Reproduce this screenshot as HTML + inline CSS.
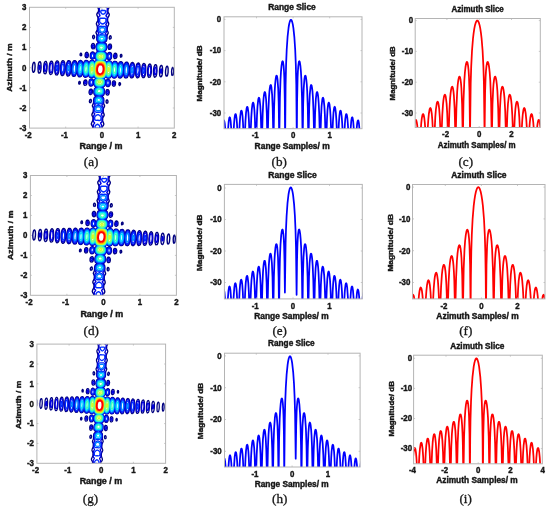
<!DOCTYPE html>
<html><head><meta charset="utf-8"><title>figure</title><style>
html,body{margin:0;padding:0;background:#fff;width:550px;height:511px;overflow:hidden}
svg{display:block;will-change:transform}
</style></head><body><svg width="550" height="511" viewBox="0 0 550 511"><defs><clipPath id="ca"><rect x="29.5" y="7.3" width="144.80" height="120.80"/></clipPath><clipPath id="cd"><rect x="30.4" y="175.5" width="146.00" height="119.80"/></clipPath><clipPath id="cg"><rect x="36.9" y="344.1" width="128.70" height="119.20"/></clipPath><clipPath id="cb"><rect x="224" y="13.8" width="138.00" height="114.90"/></clipPath><clipPath id="cc"><rect x="415.2" y="15.5" width="125.10" height="112.00"/></clipPath><clipPath id="ce"><rect x="224.4" y="181.4" width="137.90" height="117.50"/></clipPath><clipPath id="cf"><rect x="412.5" y="181.5" width="132.50" height="117.40"/></clipPath><clipPath id="ch"><rect x="224.5" y="350.2" width="135.60" height="116.80"/></clipPath><clipPath id="ci"><rect x="413.6" y="352.2" width="128.70" height="111.60"/></clipPath></defs><g clip-path="url(#ca)" fill="none" stroke-width="1.4" stroke-linejoin="round"><path d="M91.8 130.7 92.6 129.1 92.7 126.7 91.5 124.7 91.3 123.9 91.7 122.7 92.9 120.3 93 117.9 92.9 117.1 92 115.5 91.9 114.7 92.1 113.9 93.2 111.5 93.4 108.7 93.3 107.9 92.5 106.3 92.4 105.5 93.2 103.9 93.6 102.7 93.6 100.3 94 98.3 94.4 97.5 95.8 96.3 95.9 95.9 94.8 95.1 94.1 93.9 93.9 92.3 94.1 90.1 94.5 88.9 94.9 88.3 96.6 87.1 95.1 86.3 94.5 85.5 94.2 83.9 94.3 81.5 94.5 80.1 94.9 79.2 95.5 78.7 96.6 78.3 95.1 77.5 94.8 77.1 94.1 73.8 93.7 76.3 93.2 77.1 92.5 77.5 91.3 77.6 90.5 77.5 89.7 77.1 89.3 76.7 88.9 75.3 88.8 69.9 89.3 64 89.7 62 90.2 61.1 90.8 60.7 91.7 60.5 92.9 60.6 93.7 60.8 94.2 61.5 94.9 64.4 95.3 61.8 95.6 61.1 96.1 60.7 97.8 60.3 96.5 59.7 95.9 59.1 95.6 58.3 95.6 57.1 95.7 54.3 96.1 52.9 96.9 52 98.2 51.5 98.1 51.1 96.9 50.1 96.4 49.1 96.2 47.1 96.4 45.1 96.9 43.7 98.6 42.3 97.5 41.1 96.9 40 96.8 37.9 97 35.5 96.7 34.3 96 32.7 96.2 31.9 97.3 29.9 97.4 26.7 96.5 24.3 96.4 23.5 96.7 22.7 97.9 20.7 98 18.3 97.9 17.5 96.9 15.1 96.8 14.3 97.1 13.5 98.5 11.5 98.6 9.5 98.4 8.7 97.3 5.9 97.2 5.1 97.5 4.3M109.3 4.3 109.7 5.1 109.8 5.9 108 9.5 107.9 11.5 108.1 12.3 109.1 13.9 109.3 14.7 108.9 15.9 107.8 17.9 107.6 18.7 107.6 21.1 108.6 23.1 108.7 23.9 108.5 24.7 107.4 27.1 107.2 30.3 108.1 32.3 108.2 33.1 107.4 34.7 107 35.9 107 38.3 106.6 40.3 106.2 41.1 104.8 42.3 104.7 42.7 105.8 43.5 106.4 44.3 106.7 45.9 106.6 47.9 106.2 49.5 105.7 50.3 104 51.5 105.5 52.3 106.1 53.1 106.4 54.7 106.3 57.1 106.1 58.5 105.7 59.4 105.1 59.9 104 60.3 105.5 61.1 105.8 61.5 106.5 64.8 106.9 62.3 107.4 61.5 108.1 61.1 109.3 61 110.1 61.1 110.9 61.5 111.3 61.9 111.7 63.3 111.8 68.7 111.3 74.6 110.9 76.6 110.4 77.5 109.8 77.9 108.9 78.1 107.7 78 106.9 77.8 106.4 77.1 105.7 74.2 105.3 76.8 105 77.5 104.5 77.9 102.8 78.3 104.1 78.9 104.7 79.5 105 80.3 105 81.9 104.9 84.3 104.5 85.7 103.7 86.6 102.4 87.1 102.5 87.5 103.7 88.5 104.2 89.5 104.4 91.5 104.2 93.5 103.7 94.9 102 96.3 103.1 97.5 103.7 98.6 103.8 100.7 103.6 103.1 103.9 104.3 104.6 105.9 104.4 106.7 103.3 108.7 103.2 111.9 104.1 114.3 104.2 115.1 103.9 115.9 102.7 117.9 102.6 120.7 103.7 123.5 103.8 124.3 103.5 125.1 102.1 127.1 102 129.5 102.5 130.7M94.1 38.5 93.7 38.7 93.3 38.6 92.9 38.1 92.7 37.5 92.7 36.3 92.9 35.8 93.3 35.4 93.7 35.3 94.1 35.6 94.5 36.3 94.5 37.7 94.1 38.5M110.1 39.2 109.7 39.1 109.4 38.7 109.3 37.5 109.7 36.2 110.1 35.9 110.5 35.8 111 36.3 111.2 37.5 110.9 38.5 110.1 39.2M93.7 48.9 92.9 48.9 92.4 48.7 91.7 47.9 91.5 47.1 91.4 45.9 91.7 44.6 92.2 43.9 92.9 43.5 93.3 43.5 94 43.9 94.6 45.1 94.7 46.3 94.5 47.8 94.1 48.6 93.7 48.9M110.5 49.1 109.7 49.4 108.9 49.3 108.5 48.9 108.2 47.9 108.2 46.7 108.5 45.3 108.9 44.6 109.7 44.1 110.5 44.1 110.9 44.4 111.4 45.5 111.5 46.7 111.3 47.8 110.5 49.1M93.7 58.8 92.5 59 91.3 58.7 90.8 58.3 90.4 57.5 90.3 55.9 90.5 53.9 91.1 52.7 92.1 52 92.9 52 93.7 52.3 94.1 52.7 94.5 53.6 94.5 57.4 94.1 58.5 93.7 58.8M87.3 57.6 86.5 57.7 85.7 57.3 85.3 56.7 85.1 55.9 85.3 53.7 85.7 52.9 86.5 52.4 86.9 52.3 87.6 52.7 88.2 53.9 88.3 55.1 88.1 56.6 87.7 57.3 87.3 57.6M109.3 59.5 108.5 59.5 107.7 59.1 107.3 58 107.3 55.9 107.7 53.8 108.1 53.1 108.9 52.6 109.7 52.5 110.6 52.7 111.3 53.5 111.6 54.7 111.6 56.3 111.4 57.9 111 58.7 110.5 59.2 109.3 59.5M80.9 56 80.3 55.5 80.1 54.7 80.4 53.5 80.9 53.1 81.4 53.5 81.7 54.7 81.5 55.5 80.9 56M115.7 58.4 114.9 58.6 114.2 58.3 113.7 57.1 113.7 55.7 114.1 54.2 114.5 53.6 115.3 53.2 116.1 53.4 116.5 53.8 116.9 55.3 116.9 56.3 116.6 57.5 115.7 58.4M121.3 57.1 120.9 57.2 120.5 56.8 120.3 55.9 120.5 55 120.9 54.4 121.3 54.4 121.7 54.7 121.9 55.5 121.7 56.7 121.3 57.1M68.5 76 67.7 76 67.3 75.8 66.6 74.7 66.2 72.7 66.2 69.9 66.5 64.8 66.9 62.8 67.7 61.2 68.1 60.8 68.9 60.6 69.9 61.1 70.5 62.2 70.8 64.3 70.8 66.7 70.5 71.9 70.1 73.9 69.3 75.5 68.5 76M74.5 76.4 73.3 76.4 72.4 75.5 72 73.9 71.8 71.1 72.1 65.5 72.5 63 73.3 61.2 73.7 60.9 74.5 60.6 75.3 60.7 76.2 61.5 76.6 62.7 76.7 65.5 76.5 71.4 76.1 74 75.3 75.8 74.5 76.4M80.5 76.7 79.7 76.9 78.9 76.7 78.1 75.9 77.7 74.7 77.5 71.9 77.7 66.4 78.1 63.3 78.5 62 78.9 61.3 79.7 60.7 80.5 60.5 81.3 60.7 82.1 61.5 82.5 62.5 82.6 65.1 82.5 70.5 82.1 74 81.5 75.9 80.5 76.7M86.1 77.2 84.7 77.1 83.7 76.3 83.3 75 83.2 72.7 83.3 67.6 83.8 63.1 84.5 61.3 85.2 60.7 86.1 60.5 86.9 60.6 87.7 60.9 88.3 61.9 88.5 63.1 88.6 68.3 88.1 74 87.7 75.8 87.1 76.7 86.1 77.2M51.3 74.4 50.5 74.5 50.1 74.2 49.7 73.5 49.3 71.7 49.2 69.5 49.3 66.7 49.7 63.8 50.5 61.7 51.3 61.1 52.1 61.4 52.6 62.3 52.9 63.5 53 66.3 52.9 69.5 52.5 72.1 52.1 73.3 51.3 74.4M56.5 75.1 55.7 74.6 55.1 73.1 54.9 71.1 54.9 67.4 55.3 64 55.7 62.5 56.5 61.2 57.3 60.9 58.1 61.3 58.5 62 58.8 63.1 59 65.5 58.9 69 58.5 72.2 58.1 73.6 57.3 74.9 56.5 75.1M62.9 75.5 61.9 75.5 61.1 74.7 60.7 73.1 60.5 70.3 60.7 65.9 61.3 62.7 62.1 61.2 62.9 60.7 63.7 60.9 64.5 62.1 64.8 63.9 64.9 65.9 64.5 72.1 63.7 74.7 62.9 75.5M44.9 73.9 44.5 73.7 44.1 73.1 43.7 71.5 43.7 66.7 44.1 63.7 44.5 62.5 44.9 61.8 45.7 61.4 46.1 61.5 46.5 62.1 46.9 63.4 47.1 65.5 47 68.3 46.7 70.7 46.2 72.7 45.7 73.6 44.9 73.9M115.3 77.9 114.1 78.1 112.9 77.7 112.3 76.7 112.1 75.1 112 69.9 112.5 64.6 112.9 62.8 113.3 62.1 114.1 61.5 114.9 61.4 116.1 61.6 116.9 62.3 117.3 63.6 117.4 65.1 117.3 71 116.9 75 116.2 77.1 115.3 77.9M39.3 73.2 38.9 73.1 38.5 72.5 38.2 71.5 38 67.9 38.5 63.7 38.9 62.6 39.3 62 39.7 61.8 40.1 61.8 40.5 62.3 40.9 63.4 41.1 67.1 40.9 69.7 40.5 71.6 40.1 72.5 39.7 73 39.3 73.2M120.9 77.9 120.1 78.1 119.3 77.9 118.5 77.2 118.1 76.1 118 73.5 118.1 68.1 118.5 64.6 118.9 63.1 119.3 62.4 120.1 61.9 120.9 61.7 121.7 61.9 122.5 62.7 122.9 63.9 123.1 66.7 122.9 72.2 122.5 75.3 121.8 77.1 120.9 77.9M34.1 71.9 33.7 72.3 33.3 72.3 32.9 71.8 32.5 70.3 32.4 68.3 32.5 66.2 32.9 63.9 33.3 62.9 33.7 62.4 34.1 62.3 34.5 62.6 34.9 63.7 35.1 66.3 34.9 69.3 34.5 71.1 34.1 71.9M126.5 78 125.3 77.9 124.5 77.2 124 75.9 123.9 73.1 124.1 67.2 124.5 64.6 125.3 62.8 125.7 62.4 126.5 62.1 127.3 62.2 127.7 62.5 128.3 63.5 128.7 65.1 128.8 67.5 128.5 73.1 128.1 75.6 127.3 77.4 126.5 78M132.1 77.9 131.3 77.9 130.9 77.7 130.1 76.4 129.8 74.3 129.8 71.9 130.1 66.7 130.5 64.7 131.3 63.1 131.8 62.7 132.5 62.5 133.3 62.8 134.1 64.2 134.4 66.3 134.4 68.7 134.1 73.8 133.7 75.8 132.9 77.4 132.1 77.9M27.7 71.2 27.3 70.8 27 69.9 26.9 67.1 27.3 64.3 27.7 63.4 28.1 63 28.5 63.2 28.9 64.3 29 67.1 28.9 68.6 28.5 70.3 28.1 71.1 27.7 71.2M138.1 77.7 137.3 77.9 136.9 77.7 136.2 76.7 135.8 75.1 135.7 72.7 135.9 68.3 136.4 65.1 137.2 63.5 138.1 63 138.9 63.2 139.7 64.4 140 66.3 140.1 68.3 139.7 74.3 139 76.7 138.1 77.7M143.7 77.7 142.9 77.6 142.1 76.6 141.7 74.7 141.6 71.1 142 67.1 142.5 65 143.3 63.7 144.1 63.5 144.9 64 145.4 65.1 145.7 66.8 145.7 69.9 145.5 73.1 145.1 75.5 144.5 76.9 143.7 77.7M149.3 77.5 148.5 77.2 147.9 75.9 147.6 74.3 147.6 71.5 147.7 69.1 148.1 66.5 148.9 64.6 149.7 64 150.5 64.4 151 65.5 151.3 67.1 151.4 70.3 151.2 73.1 150.7 75.5 150.1 76.9 149.3 77.5M155.3 77.2 154.9 77.2 154.5 77.1 153.9 75.9 153.6 74.3 153.5 71.5 153.7 68.9 154.1 66.7 154.9 65 155.7 64.7 156.1 64.9 156.5 65.5 156.8 66.7 157 70.7 156.5 74.9 156.1 76.1 155.3 77.2M160.9 76.8 160.5 76.8 160.1 76.3 159.7 75.2 159.5 71.5 159.7 68.9 160.1 67 160.5 66.1 160.9 65.6 161.3 65.4 161.7 65.5 162.1 66.1 162.4 67.1 162.6 70.7 162.1 74.9 161.7 76 161.3 76.6 160.9 76.8M166.5 76.3 166.1 76 165.7 74.7 165.5 72.7 165.6 70.3 166.1 67.5 166.5 66.7 166.9 66.3 167.3 66.3 167.7 66.8 168.1 68.3 168.1 72.3 167.7 74.7 167.4 75.5 166.9 76.2 166.5 76.3M94.5 71.5 94.8 69.1 94.5 67 94.2 69.5 94.5 71.5M106.1 71.5 106.4 69.1 106.1 67.1 105.8 69.5 106.1 71.6 106.1 71.5M172.5 75.6 172.1 75.4 171.7 74.3 171.6 71.5 171.7 70 172.1 68.3 172.5 67.5 172.9 67.4 173.3 67.8 173.6 68.7 173.7 71.5 173.3 74.3 172.9 75.2 172.5 75.6M91.7 86 90.5 86.1 89.7 85.6 89.3 85.1 89 83.5 89 81.9 89.4 80.3 90.1 79.4 91.3 79.1 92.1 79.1 92.9 79.5 93.3 80.7 93.3 82.7 92.9 84.8 92.5 85.5 91.7 86M108.9 86.4 108.1 86.6 106.9 86.3 106.5 85.9 106.1 85 106.1 81.2 106.5 80.1 107.3 79.6 108.1 79.6 109.3 79.9 109.8 80.3 110.2 81.1 110.3 82.7 110.1 84.5 109.7 85.6 108.9 86.4M85.7 85.3 84.9 85.4 84.4 85.1 83.9 84.3 83.7 83.3 83.7 82.3 84.1 80.9 84.7 80.3 85.3 80 86.4 80.3 86.9 81.5 86.9 82.9 86.7 83.9 86.3 84.7 85.7 85.3M114.5 86.1 114.1 86.2 113.3 86.1 112.7 85.5 112.4 84.7 112.3 83.5 112.5 82 112.9 81.3 113.7 80.9 114.5 81 114.9 81.3 115.3 81.9 115.5 82.7 115.3 84.9 114.5 86.1M79.7 84.2 79.3 84.2 78.9 83.9 78.7 83.1 78.9 81.9 79.3 81.5 79.7 81.4 80.1 81.8 80.3 82.7 80.1 83.6 79.7 84.2M120.1 85.2 119.7 85.5 119.3 85.3 118.9 84.4 119.1 83.1 119.7 82.6 120.1 82.8 120.5 83.5 120.5 84.3 120.1 85.2M91.3 94.4 90.5 94.6 89.8 94.3 89.3 93.5 89.1 92.7 89.2 91.5 89.5 90.3 90.1 89.5 90.9 89.2 91.3 89.1 92 89.5 92.4 90.7 92.4 91.9 92.1 93.3 91.3 94.4M108.1 94.9 107.7 95.1 106.9 94.9 106.3 94.3 106 93.5 105.9 92.3 106.1 90.8 106.5 90 107.3 89.6 108.1 89.8 108.5 90.1 108.9 90.7 109.1 91.5 109.2 92.7 108.9 93.9 108.5 94.6 108.1 94.9M90.5 102.7 90.1 102.8 89.7 102.5 89.4 101.5 89.7 100.1 90.5 99.4 90.9 99.5 91.2 99.9 91.4 100.7 91.2 101.9 90.5 102.7M107.3 103.2 106.9 103.3 106.5 103 106.1 101.9 106.2 100.7 106.5 100.1 106.9 99.9 107.3 100 107.7 100.5 108 101.5 107.8 102.7 107.3 103.2" stroke="#000080"/><path d="M93.4 130.7 93.1 129.9 93.6 127.5 93.2 125.5 93.4 124.7 94.6 123.1 94.6 122.7 93.7 121.9 93.3 121.1 93.7 119.1 93.5 116.3 94.8 113.9 93.8 112.7 93.7 112.3 93.9 110.7 93.8 107.5 94.1 106.5 95.1 105.1 95.2 104.7 94.5 104 94.1 103.1 94.1 100 94.5 98.4 95.1 97.5 96.1 96.8 97.9 95.9 95.7 95.1 95.1 94.7 94.5 93.9 94.3 92.7 94.3 90.7 94.9 88.9 96 87.9 98 87.1 95.3 86 94.8 85.5 94.5 84.5 94.5 81.5 94.9 79.7 95.3 79.1 96 78.7 97.6 78.3 95.3 77.4 94.9 76.9 94.7 76.3 94.4 73.5 94.8 69.5 94.6 65.5 94.9 65.1 95.3 62.3 95.7 61.4 96.7 60.7 99.1 60.3 97.7 60 96.6 59.5 96.1 59 95.8 57.9 95.8 55.1 96.1 53.6 96.5 52.8 97 52.3 97.7 52 100 51.5 98.1 50.7 96.9 49.5 96.5 47.9 96.6 45.5 97.1 44.3 97.7 43.6 98.5 43.2 100.6 42.7 98.9 41.7 97.8 40.7 97.3 39.6 97.2 38.3 97.6 35.1 98.8 33.5 97.6 31.1 98 27.9 98 25.9 98.5 25.2 99.2 24.7 99.3 24.3 98.3 22.3 98.7 19.5 98.6 17.1 98.9 16.5 99.8 15.9 100 15.5 98.8 13.1 99.5 10.7 99.2 8.3 99.3 7.9 100.9 7.1 101.1 6.7 99.5 4.3M107.6 4.3 107.3 5 105.8 6.7 105.8 7.1 107.3 8 107.5 8.7 107 11.1 107.4 12.7 107.3 13.5 106 15.5 106 15.9 106.9 16.7 107.3 17.5 106.9 19.5 107.1 22.3 105.8 24.7 106.8 25.9 106.9 26.3 106.7 27.9 106.7 31.5 105.5 33.5 105.4 33.9 106.1 34.6 106.5 35.5 106.5 38.6 106.1 40.2 105.5 41.1 104.5 41.8 102.7 42.7 104.9 43.5 105.5 43.9 106.1 44.7 106.3 45.9 106.3 47.9 105.7 49.7 104.6 50.7 102.6 51.5 105.3 52.6 105.8 53.1 106.1 54.1 106.1 57.1 105.7 58.9 105.3 59.5 104.6 59.9 103 60.3 105.3 61.2 105.7 61.7 105.9 62.3 106.2 65.1 105.8 69.1 106 73.1 105.7 73.5 105.3 76.3 104.9 77.2 103.9 77.9 101.5 78.3 102.9 78.6 104 79.1 104.5 79.6 104.8 80.7 104.8 83.5 104.5 85 104.1 85.8 103.6 86.3 102.9 86.6 100.6 87.1 102.5 87.9 103.7 89.1 104.1 90.7 104 93.1 103.5 94.3 102.9 95 102.1 95.4 100 95.9 101.7 96.9 102.8 97.9 103.3 99 103.4 100.3 103 103.5 101.8 105.1 103 107.5 102.6 110.7 102.6 112.7 102.1 113.4 101.4 113.9 101.3 114.3 102.3 116.3 101.9 119.1 102 121.5 101.7 122.1 100.8 122.7 100.6 123.1 101.8 125.5 101.1 127.9 101.4 129.9 101.3 130.7M93.7 47.5 93.3 47.8 92.9 47.7 92.4 47.1 92.3 45.9 92.5 45.3 92.9 44.9 93.3 44.9 93.8 45.5 94 46.7 93.7 47.5M110.1 48.1 109.7 48.3 109.3 48.2 108.9 47.5 109 46.3 109.3 45.6 109.7 45.4 110.2 45.5 110.6 46.3 110.5 47.5 110.1 48.1M93.3 58.5 92.5 58.6 91.6 58.3 90.9 57.5 90.7 56.7 90.7 55.1 91 53.9 91.7 52.9 92.5 52.6 93.3 52.7 93.7 53 94.1 53.6 94.3 54.7 94.1 57.5 93.7 58.3 93.3 58.5M109.3 59.1 108.5 59 107.7 58.3 107.6 56.3 107.7 55.1 108.1 54 108.9 53.2 109.7 53.1 110.5 53.5 110.9 54 111.2 55.1 111.3 56.3 111 57.5 110.7 58.3 110.1 58.8 109.3 59.1M86.9 56.5 86.5 56.5 86.1 56.1 85.9 55.1 86.1 54.3 86.5 53.9 86.9 53.8 87.3 54.2 87.5 55.1 87.3 56.2 86.9 56.5M115.7 57.1 115.3 57.4 114.9 57.3 114.5 56.7 114.5 55.5 114.9 54.8 115.3 54.7 115.7 54.8 116 55.5 116 56.3 115.7 57.1M86.1 76.7 85.3 76.8 84.5 76.5 83.8 75.5 83.4 73.5 83.3 70.4 83.7 64.9 84.1 62.9 84.9 61.5 85.7 61 86.5 61 87.3 61.2 88.1 62.2 88.4 63.9 88.5 66.7 88.1 72.9 87.7 75 87 76.3 86.1 76.7M92.5 77.2 90.9 77.3 89.7 76.7 89.2 75.5 88.9 73.1 89.3 65 89.7 62.8 90.5 61.3 91.3 60.9 92.1 60.8 93.3 61 94.1 61.7 94.5 64.3 94.2 69.1 94.4 72.7 94.1 73.1 93.6 75.9 93.3 76.6 92.5 77.2M74.5 75.6 73.7 75.6 73.3 75.5 72.5 74.3 72.1 72.3 72.1 70.3 72.2 66.7 72.8 63.5 73.6 61.9 74.5 61.4 75.3 61.5 76.1 62.6 76.5 64.3 76.5 66.3 76.5 68.8 76.1 72.6 75.4 74.7 74.5 75.6M80.5 76.1 79.3 76.2 78.4 75.5 77.9 73.9 77.7 71.1 77.9 66.3 78.5 63 79.3 61.6 80.5 61.1 81.5 61.5 82.1 62.4 82.5 64.3 82.5 66.3 82.1 72.8 81.4 75.1 80.5 76.1M109.7 77.6 108.1 77.8 106.9 77.4 106.4 76.7 106.1 74.7 106.4 69.1 106.2 65.9 106.5 65.5 106.9 62.9 107.3 62 107.9 61.5 108.9 61.3 110.1 61.4 110.9 61.9 111.4 63.1 111.7 65.1 111.3 73.6 110.7 76.3 110.3 77.1 109.7 77.6M68.9 74.8 68.1 75.1 67.7 74.9 66.9 73.9 66.5 71.9 66.4 69.9 66.7 66.3 67.2 63.5 67.7 62.4 68.1 61.9 68.9 61.6 69.7 62.1 70.1 62.7 70.5 64.6 70.6 66.7 70.5 69.2 70.1 72.3 69.7 73.7 68.9 74.8M114.9 77.6 113.5 77.5 112.6 76.7 112.2 75.1 112.1 72.7 112.5 65.7 112.9 63.6 113.7 62.2 114.9 61.8 116.1 62.1 116.8 63.1 117.2 64.7 117.3 67.1 116.9 73.7 116.5 75.5 115.7 77.1 114.9 77.6M62.5 74.4 61.7 74 61.3 73.1 60.9 71.2 60.9 68.3 61.2 65.5 61.6 63.5 62.1 62.5 62.9 62 63.7 62.3 64.3 63.5 64.5 65.1 64.6 67.9 64.4 70.3 63.9 72.7 63.3 73.9 62.5 74.4M56.9 73.6 56.5 73.6 56.1 73.3 55.6 72.3 55.3 70.4 55.3 67.9 55.6 65.1 56.1 63.5 56.5 62.8 57.3 62.4 57.8 62.7 58.3 63.9 58.5 65.5 58.6 67.9 58.1 71.5 57.7 72.7 56.9 73.6M120.9 77.3 119.7 77.4 118.8 76.7 118.2 75.1 118.1 72.3 118.5 65.8 118.9 64.1 119.7 62.8 120.9 62.4 121.8 62.7 122.5 63.8 122.8 65.5 122.9 67.5 122.5 73.9 121.8 76.3 120.9 77.3M51.3 72.5 50.9 72.7 50.5 72.5 50.1 71.8 49.7 68.7 50.1 65 50.5 63.8 50.9 63.2 51.3 63 51.7 63.1 52.1 63.7 52.4 65.1 52.5 66.7 52.5 68.7 52.1 70.9 51.7 72 51.3 72.5M126.5 77.1 125.7 77.2 125.3 77.1 124.5 76 124.1 74.3 124.1 72.3 124.2 68.7 124.7 65.1 125.3 63.7 125.7 63.3 126.5 62.9 127.3 63.1 128.1 64.3 128.5 66.3 128.5 68.3 128.1 74 127.3 76.3 126.5 77.1M45.3 71.5 44.9 71.4 44.5 70.6 44.3 67.5 44.5 65.7 44.9 64.4 45.3 63.9 45.7 63.8 46.1 64.4 46.3 65.1 46.4 67.5 46.1 70.1 45.7 71.1 45.3 71.5M132.1 76.9 131.3 76.9 130.5 75.9 130.1 74 130 70.7 130.4 67.1 130.9 64.9 131.7 63.8 132.5 63.5 133.3 64 133.8 65.1 134.1 66.9 134.1 69.9 133.8 73.1 133.4 75.1 132.9 76.2 132.1 76.9M138.1 76.5 137.3 76.6 136.9 76.3 136.5 75.7 136.1 73.9 136 71.9 136.1 69.4 136.5 66.6 137.3 64.7 138.1 64.2 138.9 64.6 139.3 65.3 139.7 67.1 139.8 69.1 139.7 71.1 139.3 74 138.9 75.3 138.1 76.5M143.7 76.1 143.3 76.2 142.9 76 142.4 75.1 142.1 73.5 142 70.7 142.3 68.3 142.8 66.3 143.3 65.3 143.7 65 144.1 65 144.6 65.5 145.1 66.7 145.3 68.3 145.3 70.7 144.9 73.9 144.5 75.1 143.7 76.1M39.7 69.6 39.3 69.7 39.2 69.5 38.9 67.9 39.3 65.5 39.7 65.2 40.1 65.9 40.2 67.1 40.1 68.4 39.7 69.6M149.3 75.6 148.9 75.5 148.3 74.3 148.1 73.1 148.1 70.7 148.6 67.5 148.9 66.6 149.3 66.1 149.7 65.9 150.1 66.1 150.6 67.1 150.8 68.7 150.9 70.7 150.4 73.9 149.9 75.1 149.3 75.6M155.3 74.7 154.9 74.8 154.5 74.2 154.2 71.5 154.5 68.5 154.9 67.5 155.3 67.1 155.7 67.2 156.1 68 156.3 70.3 156.1 72.9 155.7 74.2 155.3 74.7M160.9 73.4 160.5 72.7 160.4 70.7 160.9 69 161.3 68.9 161.6 69.9 161.7 71.1 161.3 73.1 160.9 73.4M92.1 85.1 91.3 85.5 90.5 85.4 89.8 84.7 89.4 83.5 89.4 81.9 89.7 80.7 90.3 79.9 91.3 79.5 92.5 79.8 93 80.7 92.9 83.5 92.5 84.6 92.1 85.1M108.5 85.9 107.7 86 106.9 85.6 106.5 85 106.3 83.9 106.3 82.3 106.5 81 106.9 80.3 107.7 80 108.5 80.1 109.3 80.6 109.7 81.1 109.9 81.9 109.7 84.4 109.3 85.2 108.5 85.9M85.3 83.9 84.7 83.5 84.6 82.3 84.9 81.5 85.3 81.2 85.7 81.3 86.1 81.7 86.2 82.7 85.9 83.5 85.3 83.9M114.1 84.7 113.6 84.7 113.1 83.9 113.2 82.7 113.7 82.1 114.3 82.3 114.7 83.1 114.5 84.3 114.1 84.7M90.9 93.2 90.5 93.2 90.1 92.8 90 91.9 90.1 91.1 90.5 90.5 90.9 90.3 91.3 90.4 91.6 90.7 91.7 91.5 91.5 92.7 90.9 93.2M107.7 93.7 107.3 93.7 107 93.5 106.6 92.7 106.7 91.5 106.9 91.1 107.3 90.8 108 91.1 108.3 91.9 108.2 93.1 107.7 93.7" stroke="#0000df"/><path d="M102.9 14.3 101.7 13.6 101 12.7 100.7 11.9 100.9 10.9 101.3 10.5 102.1 10.3 103.3 10.5 104.5 10.4 105.3 10.7 105.6 11.5 105.4 12.7 104.1 13.9 102.9 14.3M102.9 24 102.5 24 101.3 23.5 100.3 22.7 99.7 21.9 99.5 21.1 99.7 19.1 100.1 18.4 100.5 18.2 101.3 18.1 102.9 18.3 104.5 18.2 105.3 18.4 105.9 19.1 106 21.1 105.7 21.9 104.5 23.2 102.9 24M102.9 33.2 102.1 33.4 100.9 33 99.7 32.2 98.8 31.1 98.5 29.9 98.8 27.5 99 27.1 99.7 26.5 100.9 26.3 102.5 26.5 104.5 26.4 105.3 26.7 105.9 27.5 106 30.3 105.7 31.1 104.6 32.3 102.9 33.2M102.9 41.9 101.7 42.2 100.5 41.9 99.1 41.1 98.1 40 97.8 38.7 97.9 37.1 98.2 35.9 98.9 35.2 100.5 34.8 103.7 34.9 104.9 35.2 105.6 35.9 106 37.9 105.6 39.9 104.6 41.1 102.9 41.9M102.1 51.2 100.9 51.2 99 50.7 98.1 50.2 97.3 49.3 96.9 47.9 96.9 46.3 97.5 44.7 98.3 43.9 100.1 43.5 103.7 43.7 104.9 44.2 105.7 45.1 105.9 46.3 105.9 47.5 105.7 48.7 105.3 49.5 104.1 50.5 102.1 51.2M100.9 60.6 100.7 60.3 98.5 60 97.1 59.5 96.5 59 96.1 58.3 96 56.3 96.2 54.3 96.9 52.9 97.9 52.3 99.7 52 103.7 52.3 104.9 52.8 105.7 53.9 105.9 55.1 105.9 56.7 105.7 58.1 105.3 59 104.8 59.5 104 59.9 101.1 60.3 100.9 60.6M93.3 57.7 92.9 57.9 92.1 57.7 91.5 57.1 91.3 56.4 91.3 55.4 91.6 54.3 92.5 53.6 93.3 53.8 93.8 54.7 93.8 56.7 93.3 57.7M109.3 58.4 108.7 58.3 108.3 57.9 108 56.7 108.1 55.5 108.4 54.7 108.9 54.2 109.3 54.1 110.1 54.4 110.5 55 110.6 55.9 110.4 57.5 110.1 57.9 109.3 58.4M102.5 77.9 100.1 78.1 99.7 77.9 96.5 77.6 95.4 77.1 94.9 76.4 94.6 73.5 94.8 66.3 95.3 62.9 95.7 61.9 96.1 61.3 96.9 60.9 100.5 60.5 100.9 60.7 103.3 60.8 104.9 61.3 105.7 62.2 106 64.7 105.8 71.5 105.3 75.7 104.9 76.8 104.5 77.3 103.7 77.7 102.5 77.9M92.5 76.8 91.7 76.9 90.9 76.9 89.9 76.3 89.3 75 89.1 72.7 89.3 66.4 89.7 63.7 90.5 61.9 91.3 61.3 92.1 61.1 93.3 61.4 93.8 61.9 94.2 62.7 94.3 64.7 94.2 71.5 93.7 75 93.3 76.1 92.5 76.8M86.5 76 85.3 76.1 84.3 75.5 83.7 73.9 83.5 71.9 83.7 66.6 84.1 64.1 84.9 62.3 85.3 61.9 86.1 61.6 86.9 61.7 87.7 62.3 88.1 63.3 88.3 65.5 88.1 71.5 87.7 73.9 87.3 75.1 86.5 76M109.3 77.3 108.1 77.4 106.9 76.9 106.5 76.2 106.3 73.9 106.4 67.1 106.9 63.6 107.3 62.5 107.7 62.1 108.9 61.7 110.1 61.9 110.9 62.6 111.3 63.6 111.5 65.9 111.3 72.2 110.9 74.9 110.1 76.7 109.3 77.3M80.5 75.2 79.7 75.4 79.3 75.3 78.5 74.4 78.1 72.9 78 70.3 78.1 66.9 78.5 64.3 79.3 62.6 79.7 62.2 80.5 62 81.3 62.3 81.8 63.1 82.1 64.3 82.3 66.7 82.1 70.9 81.7 73.2 81.3 74.3 80.5 75.2M74.5 74.5 73.7 74.5 72.9 73.5 72.5 71.9 72.4 69.9 72.5 67.3 72.9 64.8 73.7 63 74.5 62.5 75.3 62.8 75.8 63.5 76.1 64.7 76.2 67.1 76.1 70.2 75.7 72.5 75.3 73.6 74.5 74.5M115.3 76.7 114.1 77 113.3 76.7 112.9 76.3 112.5 75.3 112.3 73.1 112.5 67.1 112.9 64.6 113.7 62.9 114.1 62.6 114.9 62.4 115.7 62.6 116.5 63.4 116.9 64.7 117.1 66.7 116.9 72 116.5 74.3 116.1 75.7 115.3 76.7M68.5 73.6 68.1 73.6 67.7 73.3 67.3 72.6 66.9 70.7 66.9 68.3 67.3 65.5 67.7 64.1 68.1 63.5 68.9 63.1 69.3 63.3 69.7 63.9 69.9 64.7 70.2 68.3 69.7 71.7 69.3 72.8 68.5 73.6M120.9 76.4 120.1 76.6 119.7 76.5 118.9 75.8 118.5 74.6 118.3 71.9 118.5 67.7 118.9 65.4 119.7 63.7 120.1 63.4 120.9 63.2 121.7 63.6 122.1 64.3 122.5 65.7 122.6 68.3 122.5 71.7 122.1 74.1 121.7 75.3 120.9 76.4M62.9 72.3 62.5 72.5 62.1 72.2 61.7 71.5 61.4 69.1 61.7 65.9 62.1 64.7 62.5 64.1 62.9 63.9 63.3 64 63.7 64.7 64.1 67.5 63.7 70.7 63.3 71.8 62.9 72.3M126.5 76 125.7 76.1 124.9 75.3 124.5 73.9 124.4 71.5 124.5 68.4 124.9 66.1 125.7 64.4 126.5 64 127.3 64.4 127.7 65.1 128.1 66.7 128.2 68.7 128.1 71.3 127.7 73.8 127.3 75 126.5 76M131.7 75.5 131.3 75.3 130.9 74.7 130.6 73.5 130.5 69.3 130.9 66.9 131.3 65.8 131.7 65.3 132.1 65 132.5 65 133 65.5 133.5 66.7 133.7 68.3 133.7 70.7 133.3 73.3 132.9 74.5 132.5 75.1 131.7 75.5M56.9 70.9 56.5 70.7 56.3 70.3 56.1 68.3 56.3 66.3 56.9 65.2 57.3 65.2 57.6 65.9 57.8 67.5 57.6 69.5 57.3 70.5 56.9 70.9M137.7 74.7 137.3 74.6 136.9 73.9 136.6 72.3 136.6 70.7 137 67.5 137.7 66.3 138.1 66.1 138.5 66.4 138.9 67.2 139.2 70.3 138.6 73.5 138.1 74.5 137.7 74.7M143.7 73.4 143.3 73.4 143 72.7 142.8 71.1 143 69.1 143.3 68.1 143.7 67.7 144.1 67.9 144.3 68.3 144.5 70.3 144.3 72.3 143.7 73.4M102.5 86.4 100.9 86.6 97.7 86.4 96.1 86.1 95.3 85.5 94.8 84.3 94.7 82.3 95 80.3 95.7 79.2 96.9 78.6 99.5 78.3 99.7 78 99.9 78.3 102.4 78.7 103.5 79.1 104 79.5 104.5 80.3 104.6 81.1 104.5 83.9 104.1 85.1 103.7 85.7 102.5 86.4M91.7 84.4 90.9 84.5 90.5 84.2 90.1 83.6 90 82.7 90.2 81.1 90.5 80.7 91.3 80.2 92.1 80.4 92.6 81.5 92.5 83.1 92.1 84 91.7 84.4M108.5 84.8 107.7 85 107.3 84.8 106.8 83.9 106.7 82.7 106.9 81.5 107.3 80.9 107.7 80.7 108.1 80.7 108.8 81.1 109.3 82.2 109.1 83.9 108.5 84.8M102.1 94.8 100.5 95.1 97.7 95 96.5 94.8 95.5 94.3 94.8 93.1 94.6 91.5 94.9 89.9 95.6 88.7 96.9 87.9 99.3 87.3 101.6 87.9 102.9 88.7 103.4 89.5 103.6 90.3 103.7 92.1 103.1 93.9 102.1 94.8M101.3 103.6 100.1 103.8 97.3 103.8 96.1 103.6 95.3 103.1 94.8 102.3 94.7 100.3 94.9 99 95.6 97.9 96.9 97 98.9 96.4 100.9 97.1 102 97.9 102.7 99.1 102.8 101.1 102.4 102.7 102.1 103.1 101.3 103.6M99.7 112.3 98.1 112.1 96.1 112.2 95.3 111.9 94.7 111.1 94.6 108.3 94.9 107.4 95.5 106.7 96.5 106 98.5 105.2 99.7 105.6 100.9 106.4 101.7 107.3 102.1 108.3 101.7 111.4 100.9 112.1 99.7 112.3M100.1 120.4 99.3 120.5 97.7 120.3 96.1 120.4 94.9 119.9 94.7 119.1 94.6 117.5 95.2 116.3 96.5 115.2 98.1 114.6 99.8 115.5 100.9 116.7 101.1 117.5 100.9 119.6 100.5 120.2 100.1 120.4M99.3 128.1 98.5 128.3 97.3 128.1 96.1 128.2 95.3 127.9 95 127.1 95.2 125.9 96 125.1 96.9 124.5 97.7 124.3 98.1 124.5 99.3 125.4 99.8 126.3 99.8 127.5 99.3 128.1" stroke="#002dff"/><path d="M102.9 31.9 102.1 32.1 101.5 31.9 100.8 31.5 100.1 30.7 99.8 29.9 99.8 29.1 100.1 28.3 100.5 28 101.3 27.8 103.3 27.8 104.1 28 104.5 28.3 104.8 29.1 104.7 30.3 104.1 31.2 102.9 31.9M101.7 41.5 100.1 40.9 99 39.9 98.6 38.7 98.7 37.1 99.3 36.3 100.1 35.9 100.9 35.7 103.7 35.9 104.5 36.3 105 37.1 105.2 38.3 104.9 39.5 104.3 40.3 103.7 40.8 101.7 41.5M102.1 50.8 100.9 50.8 99.3 50.3 98.5 49.9 97.7 48.8 97.4 47.5 97.6 45.9 98.1 45 98.9 44.4 100.1 44.1 103.3 44.2 104.5 44.7 105.1 45.5 105.4 47.1 105.3 48.1 104.9 49.1 103.7 50.2 102.1 50.8M102.9 59.9 100.9 60.1 99.1 59.9 97.8 59.5 96.8 58.7 96.3 57.5 96.3 55.5 96.8 53.9 97.4 53.1 98.1 52.7 99.3 52.4 102.5 52.5 104.1 52.8 105 53.5 105.4 54.3 105.6 55.5 105.6 57.1 105.3 58.2 104.5 59.3 102.9 59.9M103.3 77.6 101.3 77.8 96.9 77.5 95.7 77 95 75.9 94.8 74.3 94.8 71.9 94.9 67.5 95.3 63.7 96 61.9 97 61.1 99.3 60.8 103.7 61.1 104.9 61.6 105.6 62.7 105.8 64.3 105.8 66.7 105.7 71.1 105.3 74.9 104.9 76.3 104.5 76.9 103.3 77.6M92.1 76.4 90.8 76.3 90.1 75.7 89.7 75.1 89.3 73.1 89.2 71.1 89.5 66.7 90.1 63.5 90.9 62.1 92.1 61.6 92.9 61.8 93.7 62.4 94.1 63.5 94.2 65.9 94.1 70.8 93.7 74.1 93.3 75.4 92.9 75.9 92.1 76.4M109.3 76.7 108.1 76.9 107.4 76.7 107 76.3 106.5 75.1 106.4 73.5 106.5 67.9 106.9 64.5 107.3 63.2 107.7 62.7 108.1 62.4 108.9 62.1 109.8 62.3 110.7 63.1 111.1 64.3 111.3 66.3 111.3 70 110.9 73.7 110.2 75.9 109.3 76.7M86.5 75.1 86.1 75.3 85.3 75.3 84.5 74.6 84.1 73.5 83.8 71.1 83.9 67.1 84.5 64.3 85.3 62.8 86.1 62.4 86.9 62.5 87.5 63.1 87.9 64.3 88.1 65.9 88.1 68.7 87.7 72.6 87.3 74 86.5 75.1M80.5 74 79.7 74.2 78.9 73.4 78.5 72.2 78.3 69.9 78.5 66.9 78.9 65 79.7 63.5 80.5 63.2 81.3 63.7 81.7 64.7 82 67.5 81.6 71.5 81.3 72.8 80.5 74M114.9 76.1 114.1 76.2 113.7 76.1 112.9 75.1 112.6 73.5 112.5 71.5 112.7 67.9 113.2 65.1 113.7 63.9 114.1 63.5 114.9 63.2 115.7 63.5 116.4 64.7 116.7 66.3 116.8 68.3 116.7 71.5 116.2 73.9 115.7 75.3 114.9 76.1M74.5 72.8 74.1 72.9 73.7 72.7 73.3 72 72.9 69.1 73.3 65.9 73.7 64.9 74.1 64.4 74.5 64.2 74.9 64.3 75.4 65.1 75.7 66.3 75.8 67.9 75.7 69.5 75.3 71.5 74.9 72.4 74.5 72.8M120.9 75.1 120.1 75.4 119.3 74.9 118.9 73.9 118.7 71.9 118.7 69.1 119.1 66.7 119.7 65 120.5 64.4 121.3 64.6 121.7 65.2 122.1 66.4 122.3 68.3 122 72.3 121.6 73.9 120.9 75.1M68.5 71 68.1 70.8 67.9 70.3 67.7 68.7 68 66.7 68.5 65.7 68.9 65.7 69.2 66.3 69.4 67.9 69.2 69.9 68.9 70.7 68.5 71M126.1 74.4 125.7 74.3 125.3 73.9 125.1 73.1 124.9 69.9 125.3 67.1 125.7 66.2 126.1 65.8 126.5 65.7 126.9 65.9 127.3 66.7 127.6 68.3 127.7 69.9 127.3 72.7 126.9 73.7 126.5 74.2 126.1 74.4M132.1 72.9 131.7 72.9 131.4 72.3 131.2 70.7 131.4 68.7 131.7 67.9 132.1 67.6 132.5 67.8 132.7 68.3 132.9 69.9 132.6 71.9 132.1 72.9M102.5 85.9 100.9 86.2 97.7 86.1 96.5 85.8 95.7 85.2 95.1 83.9 95 82.3 95.3 80.4 95.9 79.5 96.4 79.1 97.6 78.7 99.7 78.5 101.7 78.8 103.5 79.5 104.2 80.7 104.3 83.1 103.7 84.9 103.2 85.5 102.5 85.9M101.3 94.4 100.1 94.5 97.3 94.4 96.5 94.1 95.7 93.5 95.2 92.3 95.3 90.7 95.7 89.5 96.4 88.7 97.7 88 99.3 87.7 101.3 88.3 102.5 89.1 103 89.9 103.2 90.7 103.1 92.3 102.5 93.6 101.3 94.4M100.5 102.7 97.3 102.8 96.5 102.5 95.8 101.9 95.4 100.7 95.6 99.5 95.9 98.7 96.7 97.9 97.7 97.4 98.9 97.1 100.2 97.5 101.3 98.3 102 99.5 102 101.1 101.3 102.3 100.5 102.7M99.7 110.8 97.3 110.8 96.5 110.6 96.1 110.3 95.8 109.5 95.8 108.7 96.1 107.9 96.9 107.1 98.5 106.5 99.3 106.8 100.2 107.5 100.7 108.3 100.8 109.5 100.5 110.3 99.7 110.8" stroke="#0085ff"/><path d="M102.1 40.4 101.7 40.5 100.9 40.1 100 39.1 100 37.9 100.3 37.5 100.9 37.1 102.9 37.2 103.7 37.9 103.8 38.7 103.4 39.5 102.9 40 102.1 40.4M101.7 50.3 100.9 50.3 99.7 49.9 98.7 49.1 98.3 48.3 98.1 47.5 98.3 46.3 98.9 45.4 99.7 45 100.9 44.8 102.9 44.9 104 45.5 104.5 46.3 104.6 47.9 104.1 49 103 49.9 101.7 50.3M102.9 59.6 101.3 59.9 100.1 59.8 98.7 59.5 97.4 58.7 96.8 57.5 96.7 55.9 97.2 54.3 97.8 53.5 99.3 52.9 102.1 52.9 103.3 53.1 104.5 53.9 105.2 55.5 105.2 56.7 104.9 57.9 104.1 59.1 102.9 59.6M102.1 77.5 98.5 77.5 96.9 77.2 95.7 76.5 95.2 75.5 94.9 74.1 94.9 71.5 95.3 64.7 95.7 63 96.1 62.2 96.9 61.5 97.7 61.2 99.7 61 103.3 61.3 104.7 61.9 105.4 63.1 105.7 65.1 105.7 69.6 105.1 74.7 104.7 75.9 104.1 76.8 103.3 77.3 102.1 77.5M92.5 75.5 91.3 75.7 90.4 75.1 89.7 73.5 89.5 71.5 89.7 67.1 90.1 64.6 90.9 63 91.3 62.6 92.1 62.3 92.9 62.5 93.5 63.1 93.9 64.3 94.1 65.8 94.1 68.7 93.7 72.8 93.3 74.4 92.5 75.5M109.3 76 108.1 76.3 107.3 75.8 106.8 74.7 106.5 72.8 106.5 69.9 107 65.5 107.3 64.2 107.7 63.4 108.1 63.1 108.9 62.8 109.7 63 110.5 63.9 110.9 65.1 111.1 67.1 111 70.3 110.7 73.1 110.1 75 109.3 76M86.5 73.9 85.7 74.2 84.9 73.7 84.4 72.3 84.2 70.3 84.3 67.9 84.6 65.9 85.3 64.1 86.1 63.5 86.9 63.8 87.3 64.3 87.7 65.8 87.8 67.1 87.7 69.9 87.5 71.5 87 73.1 86.5 73.9M114.9 74.9 114.1 75.1 113.3 74.3 112.9 72.8 112.8 70.7 112.9 68.5 113.3 66.2 114.1 64.7 114.9 64.4 115.7 64.9 116.1 65.7 116.4 68.7 116.1 72.5 115.7 73.8 114.9 74.9M80.1 72.4 79.7 72.3 79.2 71.5 79 68.7 79.5 65.9 80.1 65.1 80.5 65 80.9 65.4 81.2 66.3 81.4 68.7 80.9 71.5 80.5 72.1 80.1 72.4M120.5 73.5 120.1 73.6 119.6 73.1 119.3 72.1 119.2 70.7 119.3 68.8 119.6 67.5 120.1 66.5 120.5 66.2 120.9 66.3 121.3 66.9 121.7 69.5 121.3 72.2 120.9 73.1 120.5 73.5M102.1 85.5 100.9 85.8 98.5 85.7 97.3 85.5 96.5 85.1 95.7 84.1 95.4 82.7 95.5 81.1 96.1 79.9 97.3 79.1 99.7 78.7 101.9 79.1 103.2 79.9 103.8 81.1 103.8 83.1 103.3 84.5 102.8 85.1 102.1 85.5M100.9 93.6 100.1 93.8 98.1 93.7 97.2 93.5 96.5 93 96.1 92.3 96 91.1 96.3 89.9 97 89.1 98.1 88.5 99.3 88.3 100.9 88.7 101.9 89.5 102.4 90.7 102.4 91.9 101.8 93.1 100.9 93.6M99.3 101.5 97.7 101.4 96.9 100.7 96.8 99.9 97.2 99.1 97.7 98.6 98.5 98.2 99.3 98.3 100 98.7 100.5 99.3 100.7 99.9 100.6 100.7 100.3 101.1 99.3 101.5" stroke="#00ddfe"/><path d="M102.1 49.2 101.3 49.4 100.9 49.3 99.7 48.5 99.4 47.5 99.6 46.7 99.9 46.3 100.9 45.9 102.1 46 102.9 46.3 103.2 46.7 103.4 47.5 103.2 48.3 102.9 48.7 102.1 49.2M101.3 59.5 100.4 59.5 98.9 59.1 97.8 58.3 97.4 57.5 97.3 56.1 97.7 54.8 98.5 53.9 99.3 53.5 101.7 53.4 102.9 53.6 103.9 54.3 104.4 55.1 104.6 56.7 104.1 58.3 103 59.1 101.3 59.5M102.5 77.2 99.3 77.3 97.3 77 96.1 76.3 95.3 74.9 95 71.1 95.5 65.1 95.7 64 96.2 62.7 96.9 62 97.8 61.5 100.1 61.3 103.3 61.6 104.5 62.3 105.3 63.7 105.6 65.9 105.6 68.3 105.3 72.5 105 74.3 104.6 75.5 104.1 76.3 103.3 76.9 102.5 77.2M92.1 74.8 91.3 74.8 90.5 74.1 90 72.7 89.8 70.3 90 67.1 90.5 65 91.3 63.6 92.1 63.2 92.9 63.4 93.3 63.9 93.7 65.1 93.9 67.5 93.7 71 93.3 73.1 92.9 74.1 92.1 74.8M108.9 75.2 108.1 75.3 107.3 74.7 106.9 73.5 106.7 71.1 106.9 67.6 107.3 65.5 108.1 64 108.9 63.7 109.7 64.1 110.3 65.1 110.6 66.3 110.8 68.3 110.6 71.1 110.3 73.1 109.7 74.5 108.9 75.2M86.1 72.4 85.7 72.4 85.2 71.9 84.9 70.9 84.8 69.5 84.9 67.8 85.3 66.3 85.7 65.6 86.1 65.3 86.5 65.4 86.9 65.9 87.3 68.3 86.9 71.2 86.5 72 86.1 72.4M114.5 73.3 114.1 73.2 113.7 72.7 113.4 71.5 113.3 69.9 113.7 67.4 114.1 66.6 114.5 66.2 114.9 66.2 115.3 66.6 115.7 67.5 115.8 69.9 115.3 72.4 114.9 73 114.5 73.3M100.9 85.2 98.1 85.1 97.2 84.7 96.5 84.1 96.1 83.1 96 81.9 96.3 80.7 96.9 79.9 98.5 79.2 100.1 79.1 101.7 79.5 102.8 80.3 103.2 81.1 103.3 81.9 103.1 83.5 102.1 84.7 100.9 85.2M100.5 92.4 99.7 92.7 98.9 92.7 97.7 92.3 97.3 91.8 97.2 91.1 97.7 89.9 98.2 89.5 99.3 89.2 100.1 89.4 100.8 89.9 101.2 91.1 101 91.9 100.5 92.4" stroke="#40ffb7"/><path d="M102.1 58.8 100.9 59 100.1 58.8 99.3 58.5 98.5 57.9 98.2 57.1 98.1 56.3 98.4 55.5 99 54.7 100.1 54.2 101.7 54.2 102.5 54.5 103.3 55.1 103.7 55.9 103.7 57.1 102.9 58.3 102.1 58.8M102.5 76.7 100.5 77 97.7 76.7 96.3 75.9 95.6 74.7 95.3 73.1 95.2 70.7 95.3 68.2 95.7 65.2 96.5 63.1 97.2 62.3 98.1 61.9 100.1 61.6 102.9 61.9 104.3 62.7 105 63.9 105.3 65.5 105.4 67.9 105.3 70.4 104.9 73.4 104.1 75.5 103.4 76.3 102.5 76.7M91.7 73.5 90.9 72.9 90.5 71.9 90.3 69.1 90.5 67.4 90.9 65.9 91.3 65.1 92.1 64.6 92.5 64.6 92.9 65 93.3 65.9 93.5 69.1 93.3 71 92.9 72.5 92.5 73.2 91.7 73.5M108.5 74 108.1 74 107.7 73.6 107.3 72.7 107.1 69.5 107.3 67.6 107.7 66.1 108.1 65.4 108.9 65.1 109.7 65.7 110.1 66.7 110.3 69.5 110.1 71.2 109.7 72.7 109.3 73.5 108.5 74M100.5 84.4 98.5 84.3 97.7 83.9 97.3 83.5 96.9 82.7 96.9 81.9 97.1 81.1 97.7 80.3 98.9 79.7 100.1 79.7 101.3 80.1 102.1 80.7 102.5 81.9 102.2 83.1 101.6 83.9 100.5 84.4" stroke="#87ff70"/><path d="M101.3 57.7 100.5 57.6 99.9 57.1 99.8 56.3 100.2 55.9 101.3 55.7 101.7 55.9 102 56.3 102 57.1 101.3 57.7M102.1 76.3 99.7 76.6 97.7 76.2 96.5 75.3 95.7 73.5 95.5 69.5 95.7 67.1 96.1 65.1 96.5 64 97.1 63.1 98.1 62.4 98.9 62.1 101.3 62.1 102.9 62.4 104.1 63.3 104.9 65.1 105.1 69.1 104.9 71.5 104.5 73.5 103.7 75.2 103 75.9 102.1 76.3M92.1 71 91.7 71 91.5 70.7 91.3 69.5 91.5 67.9 91.7 67.3 92.1 67 92.5 67.3 92.7 68.7 92.5 70.4 92.1 71M108.5 71.6 108.1 71.3 107.9 69.9 108.1 68.2 108.5 67.6 108.9 67.6 109.1 67.9 109.3 69.1 109.1 70.7 108.9 71.3 108.5 71.6M100.1 82.8 99.3 82.9 98.9 82.7 98.6 82.3 98.6 81.5 99 81.1 99.7 80.9 100.1 81 100.7 81.5 100.8 82.3 100.1 82.8" stroke="#ceff29"/><path d="M101.3 75.9 98.9 75.9 97.3 75.2 96.4 73.9 96 71.9 96 68.3 96.6 65.1 97.7 63.4 98.5 62.9 99.7 62.6 101.7 62.7 103.3 63.4 104.2 64.7 104.6 66.7 104.6 70.3 104.1 73.2 103.6 74.3 103 75.1 102.1 75.7 101.3 75.9" stroke="#ffd300"/><path d="M101.3 75.1 99.3 75.2 98.1 74.7 97 73.5 96.5 71.5 96.5 68.3 97 65.9 97.4 65.1 98.1 64.2 98.9 63.6 99.7 63.4 101.7 63.5 102.9 64.2 103.7 65.4 104.1 67.1 104.2 69.9 103.7 72.5 103.3 73.4 102.6 74.3 101.3 75.1" stroke="#ff8200"/><path d="M101.3 74 99.7 74.2 98.5 73.7 97.7 72.7 97.1 70.7 97.2 68.3 97.7 66.4 98.6 65.1 99.3 64.6 100.1 64.4 101.3 64.5 102.5 65.3 103.1 66.3 103.5 67.9 103.5 69.9 103 71.9 102.4 73.1 101.3 74" stroke="#ff0000" stroke-width="1.9"/></g><rect x="29.50" y="7.30" width="144.80" height="120.80" fill="none" stroke="#b4b4b4" stroke-width="1"/><path d="M65.7 128.1V126.6M65.7 7.3V8.8M101.9 128.1V126.6M101.9 7.3V8.8M138.1 128.1V126.6M138.1 7.3V8.8M29.5 108.0H31.0M174.3 108.0H172.8M29.5 87.8H31.0M174.3 87.8H172.8M29.5 67.7H31.0M174.3 67.7H172.8M29.5 47.6H31.0M174.3 47.6H172.8M29.5 27.4H31.0M174.3 27.4H172.8" stroke="#b4b4b4" stroke-width="0.7" fill="none"/><text x="28.20" y="138.00" text-anchor="middle" textLength="7.02" lengthAdjust="spacingAndGlyphs" style="font-family:'Liberation Sans',sans-serif;font-weight:bold;stroke:#161616;stroke-width:0.4px;font-size:8.5px;" fill="#161616">-2</text><text x="64.40" y="138.00" text-anchor="middle" textLength="7.02" lengthAdjust="spacingAndGlyphs" style="font-family:'Liberation Sans',sans-serif;font-weight:bold;stroke:#161616;stroke-width:0.4px;font-size:8.5px;" fill="#161616">-1</text><text x="101.90" y="138.00" text-anchor="middle" textLength="4.39" lengthAdjust="spacingAndGlyphs" style="font-family:'Liberation Sans',sans-serif;font-weight:bold;stroke:#161616;stroke-width:0.4px;font-size:8.5px;" fill="#161616">0</text><text x="138.10" y="138.00" text-anchor="middle" textLength="4.39" lengthAdjust="spacingAndGlyphs" style="font-family:'Liberation Sans',sans-serif;font-weight:bold;stroke:#161616;stroke-width:0.4px;font-size:8.5px;" fill="#161616">1</text><text x="174.30" y="138.00" text-anchor="middle" textLength="4.39" lengthAdjust="spacingAndGlyphs" style="font-family:'Liberation Sans',sans-serif;font-weight:bold;stroke:#161616;stroke-width:0.4px;font-size:8.5px;" fill="#161616">2</text><text x="26.50" y="131.00" text-anchor="end" textLength="7.02" lengthAdjust="spacingAndGlyphs" style="font-family:'Liberation Sans',sans-serif;font-weight:bold;stroke:#161616;stroke-width:0.4px;font-size:8.5px;" fill="#161616">-3</text><text x="26.50" y="110.87" text-anchor="end" textLength="7.02" lengthAdjust="spacingAndGlyphs" style="font-family:'Liberation Sans',sans-serif;font-weight:bold;stroke:#161616;stroke-width:0.4px;font-size:8.5px;" fill="#161616">-2</text><text x="26.50" y="90.73" text-anchor="end" textLength="7.02" lengthAdjust="spacingAndGlyphs" style="font-family:'Liberation Sans',sans-serif;font-weight:bold;stroke:#161616;stroke-width:0.4px;font-size:8.5px;" fill="#161616">-1</text><text x="26.50" y="70.60" text-anchor="end" textLength="4.39" lengthAdjust="spacingAndGlyphs" style="font-family:'Liberation Sans',sans-serif;font-weight:bold;stroke:#161616;stroke-width:0.4px;font-size:8.5px;" fill="#161616">0</text><text x="26.50" y="50.47" text-anchor="end" textLength="4.39" lengthAdjust="spacingAndGlyphs" style="font-family:'Liberation Sans',sans-serif;font-weight:bold;stroke:#161616;stroke-width:0.4px;font-size:8.5px;" fill="#161616">1</text><text x="26.50" y="30.33" text-anchor="end" textLength="4.39" lengthAdjust="spacingAndGlyphs" style="font-family:'Liberation Sans',sans-serif;font-weight:bold;stroke:#161616;stroke-width:0.4px;font-size:8.5px;" fill="#161616">2</text><text x="26.50" y="10.20" text-anchor="end" textLength="4.39" lengthAdjust="spacingAndGlyphs" style="font-family:'Liberation Sans',sans-serif;font-weight:bold;stroke:#161616;stroke-width:0.4px;font-size:8.5px;" fill="#161616">3</text><text x="101.00" y="148.60" text-anchor="middle" textLength="43" lengthAdjust="spacingAndGlyphs" style="font-family:'Liberation Sans',sans-serif;font-weight:bold;stroke:#161616;stroke-width:0.4px;font-size:8.2px;" fill="#161616">Range / m</text><text x="12.10" y="67.60" text-anchor="middle" textLength="48.5" lengthAdjust="spacingAndGlyphs" style="font-family:'Liberation Sans',sans-serif;font-weight:bold;stroke:#161616;stroke-width:0.4px;font-size:7.9px;" fill="#161616" transform="rotate(-90 12.1 67.6)">Azimuth / m</text><g clip-path="url(#cd)" fill="none" stroke-width="1.4" stroke-linejoin="round"><path d="M92.7 298.1 93.6 296.5 93.7 294.1 92.5 292.1 92.3 291.3 92.6 290.1 93.9 287.7 94 285.3 93.8 284.5 93 282.9 92.8 282.1 93 281.3 94.2 278.9 94.4 276.1 93.3 273.3 94.5 270.5 94.6 267.8 95 265.7 95.5 264.9 96.9 263.7 96.7 263.3 95.4 262.2 95 260.9 95 258.5 95.4 256.6 96.1 255.7 97.3 254.9 97.3 254.5 96.2 254 95.4 253 95.2 251.3 95.3 248.9 95.4 248 95.8 246.9 96.2 246.5 97.7 245.7 96.3 245.3 95.8 244.9 95.3 242.5 95 242 94.6 244.1 94 244.9 93 245.2 92.2 245.2 90.6 244.8 90.1 244.1 89.8 242.9 89.7 237.7 90.2 231.7 90.6 229.8 91.1 228.9 91.8 228.4 93 228.2 94.2 228.4 95 228.9 95.4 229.8 95.8 232.8 96.2 229.7 96.6 228.9 97 228.5 98.6 228.1 97.2 227.3 96.9 226.9 96.6 226.2 96.5 224.9 96.6 222.4 97 220.8 97.8 219.8 99.1 219.3 99.1 218.9 98 218.1 97.3 216.9 97.1 214.9 97.3 212.9 97.8 211.7 98.2 211.2 99.4 210.5 99.6 210.1 98.4 208.9 97.8 207.7 97.7 205.7 97.9 203.3 97 200.5 98.3 197.7 98.4 194.9 97.4 192.1 97.4 191.3 98.8 188.9 99 186.5 98.9 185.7 97.8 183 97.8 182.1 98.2 181.3 99.4 179.7 99.5 177.7 99.4 176.9 98.2 174 98.1 173.3 98.4 172.5M110.5 172.5 110.8 173.3 110.7 174.1 109 177.7 109 180.1 110 181.7 110.3 182.5 110.2 183.3 108.7 186.5 108.7 189.3 109.5 190.9 109.8 191.7 109.5 192.9 108.3 195.3 108.2 198.1 109.3 200.9 108 203.7 108 206.1 107.7 208.1 107.2 208.9 105.7 210.5 106.8 211.3 107.4 212.1 107.7 213.7 107.7 215.3 107.4 216.9 107 217.8 106.3 218.5 105 219.3 106.6 220.1 107 220.6 107.4 222.1 107.4 224.5 107.1 226.5 106.6 227.3 106.1 227.7 104.8 228.1 106.6 228.9 107 229.5 107.1 232.1 107.4 234.5 107.8 230.6 108.4 229.3 109 228.9 110.2 228.8 111.4 228.9 112.2 229.4 112.6 230.1 112.8 232.1 112.7 239.3 112.2 243.5 111.8 244.7 111.3 245.3 110.6 245.7 108.6 245.7 107.8 245.3 107.3 244.5 107.1 242.5 107.3 240.1 107 237.9 106.7 240.1 106.8 242.5 106.2 244.9 105.8 245.4 104 246.1 105 246.5 105.8 247.2 106.1 249.3 105.8 252.5 105.4 253.6 105 254.1 103.3 254.9 104.8 256.1 105.4 257.7 105.4 260.4 105 261.9 104.3 262.9 103 263.7 104.4 265.3 104.7 266.1 104.9 268.1 104.7 270.5 105 271.9 105.6 273.3 105.5 274.1 104.5 275.7 104.3 276.5 104.2 279.3 105 281.3 105.2 282.5 105 283.3 103.8 285.3 103.7 288.1 104.6 290.5 104.8 291.7 104.6 292.5 103.2 294.5 103 296.5 103.6 298.1M94.6 206.5 94.2 206.4 93.8 206 93.5 204.9 93.8 203.7 94.2 203.3 94.6 203.2 95.2 203.7 95.5 204.9 95.2 206.1 94.6 206.5M111.4 207 111 207 110.6 206.8 110.3 205.7 110.6 204.3 111 203.9 111.4 203.7 112 204.1 112.3 205.3 111.9 206.5 111.4 207M94.6 216.7 93.8 216.7 93.3 216.5 92.6 215.7 92.4 214.9 92.3 213.7 92.6 212.5 93 211.8 93.8 211.4 94.6 211.5 95 211.8 95.4 212.5 95.5 213.3 95.4 215.7 95 216.4 94.6 216.7M111.4 217 110.6 217.3 109.8 217 109.4 216.5 109.3 215.7 109.3 214.1 109.7 212.9 110.2 212.2 111 211.9 111.8 212.1 112.2 212.5 112.6 214.1 112.2 216.1 111.4 217M94.6 226.6 93.4 226.8 92.3 226.5 91.8 226.1 91.4 225.3 91.2 223.7 91.4 221.7 92 220.5 93 219.8 93.8 219.8 94.6 220 95 220.4 95.4 221.2 95.6 222.9 95.4 225.4 95 226.3 94.6 226.6M88.2 225.4 87.4 225.5 86.6 225.1 86.2 224.5 86 223.7 86 222.5 86.2 221.4 86.6 220.6 87.4 220.1 87.8 220.1 88.5 220.5 89.1 221.7 89.2 222.9 89 224.3 88.6 225.1 88.2 225.4M111.4 227 110.2 227.3 109.4 227.2 108.8 226.9 108.4 226.1 108.3 224.5 108.6 222.1 109.2 220.9 110.2 220.3 111 220.3 111.8 220.6 112.2 221 112.6 222.1 112.7 223.7 112.6 225.3 112.2 226.3 111.4 227M81.8 223.7 81.4 223.6 81.1 223.3 80.9 222.5 81.2 221.3 81.8 220.9 82.3 221.3 82.5 222.5 82.3 223.3 81.8 223.7M117 226.1 116.2 226.3 115.4 226.1 115 225.6 114.8 224.5 114.9 222.9 115.4 221.7 115.8 221.2 116.6 221 117.4 221.3 117.8 222 118 222.9 117.8 225.1 117 226.1M122.2 224.9 121.8 224.8 121.6 224.5 121.5 223.7 121.8 222.5 122.2 222.2 122.6 222.2 122.9 222.5 123.1 223.3 122.8 224.5 122.2 224.9M63.8 243 63 243.3 62.6 243.2 61.8 242.4 61.4 240.9 61.2 237.7 61.4 233.2 61.8 230.9 62.6 229.1 63 228.7 63.8 228.5 64.6 228.8 65.1 229.7 65.4 230.9 65.6 233.7 65.4 238.2 65 240.7 64.6 241.9 63.8 243M69 243.7 68.2 243.5 67.8 243.2 67.4 242.6 67 241.3 66.9 238.5 67 234.5 67.4 231.4 67.8 230 68.6 228.7 69 228.5 69.8 228.4 70.7 228.9 71.4 230.6 71.6 233.3 71.4 237.3 71 241 70.6 242.3 69.8 243.4 69 243.7M75 244.1 73.8 243.8 73 242.7 72.6 240.3 72.6 236.7 73 232.1 73.4 230.3 74.2 228.8 74.6 228.5 75.4 228.3 76.2 228.5 76.6 228.8 77.1 229.7 77.5 231.3 77.5 234.5 77.4 237.9 77 241.3 76.2 243.4 75.8 243.8 75 244.1M80.6 244.5 79.4 244.1 79 243.7 78.6 242.8 78.3 240.5 78.4 236.9 78.6 233.1 79.2 230.1 79.5 229.3 80.2 228.6 81.4 228.3 82.2 228.5 82.7 228.9 83.4 230.5 83.4 237.4 83 241.4 82.6 243 81.8 244.1 80.6 244.5M87.8 244.5 87 244.8 86.2 244.9 85 244.4 84.3 243.3 84.1 241.3 84.2 234.6 84.6 231.1 85 229.7 85.4 229 86.2 228.4 87 228.3 88.2 228.5 88.8 228.9 89.2 229.7 89.4 230.9 89.5 236.1 89 241.7 88.6 243.4 87.8 244.5M51.8 242.1 51 242.1 50.6 241.8 50.2 241 49.8 238.7 49.8 235.7 50.2 232.1 50.6 230.3 51.4 229 52.2 228.8 53 229.5 53.4 230.7 53.6 234.9 53.4 238 53 240.1 52.6 241.2 51.8 242.1M57.8 242.6 57 242.7 56.6 242.6 56 241.7 55.6 240.1 55.4 237.3 55.7 232.9 56.2 230.6 57 229 57.8 228.6 58.6 228.9 59.1 229.7 59.4 230.9 59.6 233.7 59.4 238.2 59 240.4 58.6 241.6 57.8 242.6M45.8 241.6 45.4 241.6 45 241.3 44.5 240.5 44.2 238.9 44.1 235.7 44.3 233.3 44.8 230.9 45.4 229.5 46.2 229.1 46.6 229.2 47 229.7 47.4 230.9 47.6 234.9 47.4 237.7 47 239.7 46.6 240.7 45.8 241.6M115.8 245.7 114.6 245.6 113.6 244.9 113.3 243.7 113.1 240.9 113.3 234.9 113.8 231.2 114.2 230.1 114.6 229.6 115.4 229.2 116.2 229.1 117.4 229.4 118.2 230.4 118.6 232.5 118.6 235.1 118.2 241.6 117.8 243.8 117 245.2 115.8 245.7M40.2 240.7 39.8 240.9 39.4 240.7 39 240.2 38.6 238.9 38.4 236.5 38.6 233.4 39 231.3 39.4 230.2 39.8 229.7 40.2 229.5 40.6 229.6 41 230 41.3 230.9 41.6 234.1 41.2 238.5 40.6 240.1 40.2 240.7M121.4 245.7 120.2 245.4 119.4 244.3 119.1 242.1 119.1 238.9 119.4 234.1 119.8 231.6 120.6 230 121.4 229.6 122.2 229.5 122.9 229.7 123.4 230 123.8 230.6 124.1 231.7 124.3 234.1 124.2 238.5 123.8 242.4 123.4 244 122.6 245.3 121.4 245.7M34.2 239.9 33.8 240 33.5 239.7 33.1 238.9 32.9 237.3 32.8 235.3 33 233.1 33.4 231.3 33.8 230.4 34.2 230 34.6 230 35 230.4 35.4 231.7 35.5 234.9 35 238.5 34.6 239.5 34.2 239.9M127 245.7 126.1 245.3 125.4 244.2 125.1 241.7 125.1 238.5 125.4 234.1 125.8 232 126.6 230.4 127 230.1 127.8 229.9 128.6 230 129 230.3 129.4 230.8 129.8 232 130 234.5 129.9 238.1 129.6 241.7 129 244.3 128.2 245.4 127 245.7M133.8 245.4 133.4 245.6 132.6 245.6 131.8 244.9 131.2 243.3 131 240.5 131.4 234.1 131.8 232.3 132.6 230.8 133 230.5 133.8 230.3 134.6 230.6 135.4 232 135.7 235.7 135.6 239.7 135.2 242.5 134.6 244.5 133.8 245.4M27.4 233.3 27.8 231.6 28.2 230.9 28.6 230.7 29 231.1 29.4 232.9 29.2 236.5 28.8 238.1 28.6 238.6 28.2 238.9 27.8 238.7 27.4 237.6M139.4 245.4 138.6 245.5 138.2 245.3 137.6 244.5 137.1 242.5 137 240.1 137.3 235.3 137.8 232.6 138.6 231.1 139.4 230.7 140.2 230.9 141 232.1 141.4 234.1 141.5 236.1 141.4 238.5 141 242.2 140.3 244.5 139.4 245.4M145 245.4 144.2 245.3 143.4 244.1 143 241.8 143 238.9 143.4 234.5 143.8 232.9 144.6 231.6 145.4 231.2 146.2 231.6 146.8 232.9 147.1 234.9 147.1 237.7 147 240 146.6 242.7 145.8 244.7 145 245.4M151 245.1 150.2 245.1 149.8 244.8 149.4 244 149 241.8 149 238.9 149.4 234.9 149.8 233.3 150.6 232 151.4 231.8 152.2 232.5 152.6 233.7 152.8 237.7 152.6 241 152.2 243.1 151.8 244.1 151 245.1M156.6 244.9 156.2 244.9 155.8 244.6 155.4 243.7 155 241.6 155 238.9 155.4 235.3 155.8 233.7 156.2 232.9 157 232.4 157.4 232.5 157.8 232.9 158.2 233.9 158.5 235.7 158.5 238.1 158.2 241.6 157.8 243.3 157.4 244.2 156.6 244.9M162.2 244.5 161.7 244.1 161.2 242.9 161 241 161 238.5 161.4 235.6 161.8 234.2 162.2 233.5 162.6 233.2 163 233.2 163.5 233.7 163.9 234.9 164.2 236.9 164.1 239.3 163.8 241.9 163.4 243.3 163 244.1 162.6 244.5 162.2 244.5M168.6 243.8 168.2 244 167.8 243.8 167.4 243.1 167.1 240.1 167.4 236.2 167.8 234.9 168.2 234.3 168.6 234 169 234.2 169.4 234.9 169.8 238.1 169.4 242 169 243.2 168.6 243.8M174.2 243.2 173.8 243.2 173.4 242.3 173.2 239.3 173.4 237.2 173.8 235.8 174.2 235.2 174.6 235.1 175 235.7 175.2 236.5 175.3 238.9 175 241.7 174.6 242.8 174.2 243.2M95.4 240.5 95.7 238.1 95.4 235.8 95.1 238.1 95.4 240.7 95.4 240.5M92.2 253.7 91 253.5 90.2 252.6 89.9 250.9 89.9 249.3 90.2 248.1 90.7 247.3 91.8 246.8 93 246.8 93.8 247.1 94.1 247.7 94.2 250.8 93.6 252.9 93 253.5 92.2 253.7M109.8 254.1 109 254.2 108.2 254.1 107.4 253.3 107.2 252.5 107 250.8 107.2 248.9 107.4 248 108.2 247.3 109.4 247.2 110.2 247.5 111 248.1 111.3 248.9 111.4 250.7 111.1 252.5 110.6 253.5 109.8 254.1M86.2 253 85.4 252.8 85 252.4 84.6 251.3 84.6 250.1 84.8 248.9 85.3 248.1 85.8 247.8 86.6 247.7 87.4 248.1 87.6 248.5 87.8 250.5 87.3 252.1 87 252.6 86.2 253M115.4 253.8 114.6 253.8 114.2 253.6 113.7 252.9 113.4 251.7 113.5 250.5 113.8 249.2 114.2 248.7 115 248.5 115.8 248.7 116.2 249.1 116.7 250.5 116.6 251.9 116.3 252.9 115.4 253.8M80.6 251.7 80.2 251.8 79.8 251.6 79.5 250.9 79.7 249.7 80.2 249.1 80.6 249.1 81.1 249.7 81.1 250.9 80.6 251.7M121 253 120.6 253 120.2 252.5 120.1 251.7 120.2 250.8 120.6 250.4 121 250.3 121.4 250.5 121.7 251.7 121.4 252.7 121 253M91.8 262.1 91 262 90.3 261.3 90.1 260.5 90.1 259.3 90.2 258.4 90.6 257.5 91.4 256.9 92.2 256.7 92.7 256.9 93.1 257.3 93.3 258.1 93.4 259.3 93 261 92.6 261.6 91.8 262.1M109 262.6 108.2 262.6 107.8 262.4 107.3 261.7 107 260.5 107 259.3 107.3 258.1 107.8 257.4 108.2 257.2 109 257.3 109.4 257.5 109.9 258.1 110.2 258.9 110.3 260.1 110.1 261.3 109.7 262.1 109 262.6M91.4 270.2 91 270.2 90.6 270 90.3 268.9 90.6 267.7 91.4 267 91.8 267 92.1 267.3 92.3 268.1 92.2 269.3 91.8 269.9 91.4 270.2M108.6 270.6 108.2 270.8 107.8 270.7 107.4 270.3 107.2 269.7 107.3 268.1 107.8 267.5 108.6 267.7 109 268.5 109 269.7 108.6 270.6" stroke="#000080"/><path d="M94.5 298.1 94.2 297.9 94.1 297.3 94.6 294.9 94.2 292.7 94.4 292.1 95.6 290.5 95.6 290.1 94.6 289.2 94.3 288.5 94.7 286.5 94.5 283.7 94.8 282.9 95.8 281.7 95.8 281.3 95 280.5 94.6 279.7 94.9 278.1 94.8 274.9 95 274.1 96.2 272.5 96.1 272.1 95.2 270.9 95.1 267.7 95.4 266.1 95.9 265.3 96.8 264.5 99 263.3 97 262.8 95.8 262 95.3 260.5 95.3 258.5 95.7 256.9 96.2 256.1 97 255.5 99.2 254.5 97 254 95.9 253.3 95.4 251.7 95.4 249.3 95.7 247.7 96.2 246.8 97 246.3 99.1 245.7 96.8 245.3 96.2 245 95.8 244.5 95.5 242.5 95.7 238.1 95.4 234.7 95.1 238.1 95.1 240.9 94.6 243.5 94.2 244.3 93.8 244.7 93 244.9 91.8 244.9 91 244.6 90.5 244.1 90.2 243.6 89.9 242.1 89.8 238.5 90.2 232.5 90.6 230.5 91.4 229.1 92.2 228.6 93 228.5 94.6 228.9 95 229.3 95.2 230.1 95.6 232.9 95.8 233.5 96.2 230.2 96.6 229.2 97.5 228.5 100.2 228.1 99 227.9 97.6 227.3 97.2 226.9 96.8 226.1 96.7 224.5 97 221.7 97.5 220.5 98.6 219.8 100.9 219.3 99.1 218.5 98.2 217.8 97.7 216.9 97.4 215.3 97.6 213.3 98.2 211.9 99 211.3 101.5 210.5 99.8 209.5 98.7 208.5 98.2 207.3 98.1 206.1 98.6 202.9 99.6 201.7 99.7 201.3 98.8 199.7 98.6 198.9 98.9 197.3 99 193.7 100.3 192.5 100.2 192.1 99.2 190.1 99.7 187.3 99.5 185.3 99.8 184.6 101 183.7 101 183.3 99.8 181.2 99.8 180.5 100.4 178.9 100.1 176.5 100.2 176 100.5 175.7 101.6 175.3 102.1 174.9 100.5 172.5M108.6 172.5 106.8 174.9 106.9 175.3 108.2 175.9 108.5 176.5 108 178.9 108.4 181.3 106.9 183.7 107.1 184.1 108.1 184.9 108.3 185.3 107.9 187.7 108.1 190.5 106.8 192.5 106.9 192.9 107.8 193.7 107.9 194.1 107.7 196.1 107.8 199.3 107.4 200.1 106.5 201.3 106.4 201.7 107.5 203.3 107.5 206.5 107.3 207.7 106.6 208.8 105.4 209.7 103.8 210.5 104.3 210.9 105.4 211.1 106.5 211.7 107 212.4 107.3 213.3 107.3 215.7 107 216.9 106.6 217.7 105.7 218.5 103.6 219.3 105.8 220 106.6 220.6 107.2 222.1 107.2 224.5 107 226.1 106.3 227.3 105.4 227.8 103.8 228.1 105.8 228.7 106.6 229.3 107 230.2 107.4 235.3 107.8 231.3 108.4 229.7 109 229.2 110.2 229 111.4 229.3 112 229.7 112.4 230.5 112.7 231.7 112.6 238.5 112.2 242.6 111.6 244.5 110.6 245.3 109.8 245.5 108.6 245.4 107.8 244.9 107.4 244.2 107.2 242.5 107.3 240.1 107 237.1 106.7 240.1 106.7 242.1 106.2 244.4 105.4 245.4 103.2 246.1 104.6 246.5 105.4 247.1 105.8 247.9 105.9 249.7 105.7 252.1 105 253.6 104.2 254.1 102.2 254.5 102.1 254.9 103.8 255.7 104.8 256.9 105.2 258.9 104.8 261.3 104.4 262.1 103.8 262.6 102.6 263.1 101.1 263.3 101.4 263.7 103 264.7 103.8 265.4 104.3 266.5 104.4 267.7 104.1 270.9 103.8 271.6 102.9 272.5 102.9 272.9 103.9 274.5 104 275.3 103.6 278.1 103.7 280.1 103.4 280.6 102.5 281.3 102.3 281.7 103.2 283.3 103.4 284.1 102.9 286.5 103.1 288.9 102.9 289.3 101.8 290.1 101.6 290.5 102.8 292.9 102.2 295.3 102.5 297.3 102.3 298.1M94.6 215.4 94.2 215.6 93.8 215.5 93.3 214.9 93.2 213.7 93.4 213.1 93.8 212.7 94.2 212.7 94.6 213 94.9 213.7 94.9 214.5 94.6 215.4M110.6 216.1 110.1 215.7 110 214.5 110.2 213.7 110.6 213.3 111 213.2 111.6 213.7 111.7 214.9 111.4 215.7 110.6 216.1M94.2 226.3 93.4 226.4 92.6 226.1 91.9 225.3 91.6 224.5 91.6 222.9 91.9 221.7 92.6 220.7 93.4 220.4 94.2 220.5 94.6 220.8 95 221.3 95.3 222.5 95.3 224.1 95.1 225.3 94.6 226.1 94.2 226.3M111 226.7 110.2 226.9 109.4 226.7 109 226.4 108.6 225.3 108.6 223.7 109 222.1 109.8 221.1 110.6 220.9 111.4 221.1 111.8 221.5 112.2 222.4 112.3 223.3 112.1 225.3 111.7 226.1 111 226.7M87.8 224.3 87.2 224.1 86.8 223.3 87 222.1 87.4 221.6 87.9 221.7 88.4 222.5 88.3 223.7 87.8 224.3M116.6 225.1 116.2 225.2 115.8 225 115.6 224.5 115.6 223.3 116.2 222.5 116.7 222.5 117 222.8 117.1 223.3 117 224.5 116.6 225.1M81.4 243.7 80.2 243.8 79.4 243.3 79.1 242.9 78.6 241.1 78.5 238.5 78.7 234.5 79 231.9 79.4 230.5 80.2 229.3 81.4 228.9 82.4 229.3 83 230.3 83.3 232.1 83.4 234.1 82.8 240.9 82.2 242.9 81.4 243.7M87.4 244.3 86.2 244.4 85.4 244.1 85 243.8 84.4 242.5 84.2 240.5 84.2 236.1 84.6 232.3 84.9 230.9 85.4 229.7 85.8 229.2 87 228.7 88.2 228.9 88.9 229.7 89.2 230.9 89.4 232.9 89 240.6 88.5 242.9 88.1 243.7 87.4 244.3M75 243.3 74.2 243.2 73.8 242.9 73.3 242.1 72.9 240.1 72.8 236.9 73 234.1 73.6 230.9 74.3 229.7 74.7 229.3 75.4 229.1 76.2 229.4 77 230.6 77.3 232.5 77.3 234.9 77 239.6 76.6 241.4 75.8 242.9 75 243.3M63.8 241.7 63 242 62.2 241.4 61.7 240.1 61.5 237.3 61.7 233.7 62.2 231.4 63 230 63.8 229.7 64.6 230.3 65 231.3 65.3 234.5 64.9 238.9 64.6 240.3 63.8 241.7M69.4 242.6 68.6 242.7 67.8 241.9 67.4 240.5 67.2 237.7 67.4 233.7 67.8 231.5 68.6 229.8 69.4 229.4 70.2 229.6 70.6 230 71 230.9 71.3 234.5 71.1 238.5 70.7 240.5 70.2 241.8 69.4 242.6M115.4 245.3 114.2 244.9 113.8 244.5 113.4 243.4 113.3 240.9 113.4 235.7 113.8 232.1 114.2 230.8 115 229.9 116.2 229.6 117.4 230 117.8 230.5 118.2 231.5 118.4 234.1 118.3 237.7 118 241.3 117.4 244 116.6 245 115.4 245.3M57.8 241.1 57.4 241.2 57 241.2 56.4 240.5 56.1 239.3 55.9 236.9 56.1 233.7 56.5 231.7 57 230.7 57.8 230.1 58.4 230.5 58.8 231.3 59.2 234.5 58.9 238.5 58.6 239.7 57.8 241.1M121.8 245 120.6 245 119.8 244.2 119.4 242.9 119.3 240.1 119.4 235.8 119.8 232.8 120.6 230.8 121 230.4 121.8 230.1 123 230.5 123.6 231.3 124 232.9 124.1 235.3 123.8 240.9 123.4 242.9 122.6 244.5 121.8 245M51.8 240.2 51.4 240.3 51 240.1 50.6 239.3 50.3 236.5 50.6 232.9 51 231.7 51.4 231 51.8 230.7 52.3 230.9 52.8 231.7 53.1 234.5 53 236.9 52.7 238.5 52.2 239.8 51.8 240.2M127.8 244.7 127 244.9 126.6 244.8 125.8 243.9 125.4 242.5 125.3 239.7 125.4 236.1 125.8 233.3 126.6 231.3 127.1 230.9 127.8 230.7 128.6 230.9 129.4 232.2 129.7 234.1 129.8 236.1 129.6 239.3 129.2 242.1 128.6 243.9 127.8 244.7M133.4 244.6 132.6 244.5 131.8 243.6 131.4 242 131.3 238.5 131.6 234.9 132.2 232.6 133 231.5 133.8 231.3 134.6 231.8 135.1 232.9 135.4 234.7 135.4 237.7 135.1 240.9 134.7 242.9 134.2 243.9 133.4 244.6M45.8 239.2 45.4 239 45 238.2 44.8 235.3 45 233.4 45.4 232.1 45.8 231.6 46.2 231.5 46.6 232 46.8 232.9 47 235.3 46.6 237.9 46.2 238.8 45.8 239.2M139.4 244.2 138.6 244.2 137.8 243.3 137.4 241.5 137.3 239.7 137.4 237.2 137.8 234.4 138.6 232.5 139.4 232 140.2 232.3 140.6 233 141 234.8 141.1 236.9 141 239.2 140.6 241.9 140.2 243.1 139.4 244.2M39.8 237.4 39.4 236.2 39.4 234.9 39.8 233.2 40.2 232.9 40.6 233.6 40.6 235.7 40.2 237.3 39.8 237.4M145 243.8 144.6 243.9 144.2 243.6 143.8 242.9 143.4 240.9 143.4 238.5 143.8 235.3 144.2 233.8 144.6 233.1 145.4 232.8 146 233.3 146.5 234.5 146.7 238.1 146.2 241.9 145.8 243 145 243.8M150.6 243.3 150.2 243.1 149.8 242.3 149.5 238.9 149.8 235.7 150.2 234.6 150.6 233.9 151 233.7 151.4 233.8 151.7 234.1 152 234.9 152.2 236.1 152.3 238.5 151.8 241.8 151.4 242.7 151 243.2 150.6 243.3M157 242.2 156.6 242.5 156.1 242.1 155.8 241.3 155.6 239.3 155.8 237 156.2 235.7 156.6 235 157 234.8 157.4 235.2 157.7 236.1 157.8 238.1 157.6 240.5 157 242.2M162.6 241.1 162.2 240.9 161.9 239.3 162.2 237.3 162.6 236.5 163 236.9 163.2 238.5 163 240.3 162.6 241.1M92.6 253 91.4 253 90.8 252.5 90.4 251.7 90.3 250.1 90.5 248.5 91 247.7 91.6 247.3 92.6 247.1 93.2 247.3 93.7 247.7 94 249.3 93.7 251.7 93.3 252.5 92.6 253M109.8 253.4 109 253.6 108.2 253.4 107.8 253 107.4 252 107.4 249.2 107.8 248.1 108.6 247.7 109.4 247.7 110.2 248 110.6 248.5 110.9 249.3 111 250.5 110.9 251.7 110.6 252.5 109.8 253.4M86.6 251.4 86.2 251.6 85.8 251.4 85.4 250.5 85.7 249.3 86.2 248.8 86.6 248.9 87.1 249.7 87 250.6 86.6 251.4M115.4 252.2 115 252.4 114.6 252.3 114.2 251.5 114.2 250.6 114.4 250.1 115 249.7 115.4 249.8 115.8 250.6 115.8 251.4 115.4 252.2M92.2 260.6 91.8 260.8 91.4 260.7 91 260.2 90.9 259.7 91.1 258.5 91.8 257.9 92.2 257.9 92.6 258.5 92.6 259.7 92.2 260.6M108.6 261.3 108.2 261.2 107.8 260.7 107.7 259.7 107.8 258.9 108.2 258.5 108.6 258.4 109.2 258.9 109.5 259.7 109.2 260.9 108.6 261.3" stroke="#0000df"/><path d="M104.6 182.2 104.2 182.3 103.4 182.1 102.1 180.9 101.7 179.7 101.8 179 102.2 178.5 103 178.4 104.2 178.6 105.4 178.4 105.9 178.5 106.5 178.9 106.7 179.7 106.5 180.5 105.8 181.4 104.6 182.2M104.2 191.8 103.4 192 102.2 191.4 101.1 190.5 100.6 189.7 100.4 188.9 100.6 187.2 101 186.5 101.4 186.2 102.2 186.1 103.8 186.3 105.4 186.2 106.2 186.4 106.8 186.9 107 188.5 106.8 189.7 105.8 190.9 104.2 191.8M104.2 201 103 201.3 102.2 201 100.7 200.1 99.8 199.1 99.5 198.1 99.7 195.7 100 194.9 100.6 194.5 101.8 194.2 103.4 194.4 105 194.3 106.2 194.6 106.9 195.3 107 198.1 106.8 198.9 105.8 200.1 104.2 201M103.8 209.8 102.6 210.1 101.4 209.7 100 208.9 99.2 208.1 98.8 206.9 98.8 205.3 99 204.1 99.8 203.1 101.4 202.6 104.6 202.7 105.8 203.1 106.6 203.7 106.9 204.5 107 205.7 106.6 207.7 105.7 208.9 103.8 209.8M103.4 218.9 102.2 219.1 100.2 218.6 99 217.9 98.2 217 97.8 215.3 98 213.7 98.5 212.5 99.4 211.7 101 211.4 104.6 211.5 105.8 211.9 106.6 212.8 106.9 213.7 107 214.9 106.6 216.9 105.6 218.1 103.4 218.9M104.6 227.8 102.2 228 100.6 227.9 98.6 227.5 97.6 226.9 97 225.7 97 223.3 97.4 221.4 98.1 220.5 98.8 220.1 99.8 219.9 103.4 219.9 105 220.1 106.3 220.9 106.7 221.7 107 222.9 106.8 225.7 106.2 227 105.8 227.3 104.6 227.8M94.2 225.5 93.8 225.6 93 225.5 92.5 224.9 92.2 224.1 92.2 223.3 92.6 222.1 93.4 221.4 93.8 221.4 94.3 221.7 94.8 222.9 94.7 224.5 94.2 225.5M110.2 226.1 109.8 226.1 109.3 225.7 109.1 224.9 109 224.1 109.5 222.5 109.8 222.1 110.6 221.9 111 222 111.4 222.5 111.7 224.1 111.4 225.4 111 225.8 110.2 226.1M105 245.3 102.6 245.6 98.2 245.4 96.6 244.9 95.9 244.1 95.6 241.7 95.7 234.9 96.2 230.9 96.6 229.6 97.4 228.8 98.6 228.5 102.2 228.3 105.4 228.8 106.2 229.2 106.6 229.7 107 231.2 107.1 234.9 106.6 241.7 106.1 244.1 105.6 244.9 105 245.3M93 244.6 91.7 244.5 91 244.1 90.6 243.6 90.2 242.5 90 239.7 90.2 234.1 90.6 231.4 91.4 229.6 92.2 229.1 93 228.9 94.2 229.1 94.8 229.7 95.2 230.9 95.3 232.9 95.1 239.7 94.6 242.9 93.9 244.1 93 244.6M87 243.8 85.8 243.7 85 242.9 84.5 240.9 84.4 237.7 84.6 233.9 85.1 231.3 85.4 230.5 86.1 229.7 86.6 229.4 87.4 229.3 88.3 229.7 89 231.1 89.2 235.3 89 239.1 88.6 241.6 87.8 243.3 87 243.8M110.2 245 108.6 245 107.9 244.5 107.7 244.1 107.4 242.9 107.3 237.3 107.8 232.1 108.2 230.6 109 229.6 110.2 229.4 111.4 229.7 112.2 230.8 112.6 232.5 112.6 234.5 112.5 238.1 112 242.5 111.4 244.1 111 244.6 110.2 245M81 243 80.2 243 79.8 242.7 79.2 241.7 78.8 239.7 78.8 236.9 79 233.8 79.5 231.7 80.2 230.2 80.6 229.9 81.4 229.7 82.2 230.1 82.8 231.3 83.1 232.9 83.1 235.7 83 238 82.6 240.6 81.8 242.5 81 243M75 242.2 74.2 242 73.8 241.5 73.4 240.5 73.2 238.9 73.2 236.5 73.4 233.9 73.8 232 74.6 230.6 75.4 230.2 76.2 230.6 76.7 231.7 77 233.4 77 236.1 76.7 239.3 76.2 240.9 75.8 241.7 75 242.2M116.2 244.5 115 244.7 114.1 244.1 113.5 242.5 113.4 240.1 113.6 234.9 114.2 231.7 115 230.5 116.2 230.2 117.1 230.5 117.8 231.6 118.2 233.3 118.2 235.3 118.2 237.7 117.8 241.4 117 243.7 116.2 244.5M69.4 241.2 69 241.3 68.6 241.1 68.1 240.5 67.8 239.3 67.6 236.9 67.8 234.1 68.2 232.3 68.6 231.5 69.4 230.8 69.8 230.9 70.2 231.2 70.6 232.1 70.9 234.9 70.6 238.7 70.2 240.1 69.4 241.2M121.8 244.2 121.4 244.3 120.7 244.1 120 243.3 119.6 241.7 119.5 239.3 119.8 234.5 120.2 232.7 121 231.3 121.8 230.9 122.6 231.1 123.4 232.3 123.8 234.1 123.9 236.1 123.8 238.5 123.4 241.4 122.7 243.3 121.8 244.2M63.8 239.8 63.4 240.1 63 240.1 62.6 239.7 62.2 238.3 62.1 236.5 62.2 234.7 62.6 232.8 63 232 63.4 231.7 63.8 231.6 64.2 232 64.6 233.2 64.7 235.3 64.5 237.7 64.2 239 63.8 239.8M127.4 243.8 126.6 243.6 126.2 243.1 125.8 242.1 125.6 238.1 125.8 235.4 126.2 233.5 127 232.1 127.8 231.8 128.6 232.2 129.1 233.3 129.4 235.1 129.4 237.7 129.1 240.5 128.7 242.1 128.2 243.2 127.4 243.8M57.4 238.6 57 238.2 56.9 237.7 56.7 235.7 57 233.8 57.4 233 57.8 232.8 58.3 233.7 58.4 235.7 58.2 237.4 57.8 238.3 57.4 238.6M133.4 243.1 133 243.2 132.6 243 132.2 242.5 131.8 241 131.7 238.9 131.8 236.6 132.2 234.5 132.6 233.5 133.4 232.8 133.8 232.8 134.2 233.1 134.6 233.8 135 236.9 134.6 241 134.2 242.2 133.4 243.1M139.4 242.2 139 242.4 138.6 242.2 138.2 241.6 137.9 238.9 138.2 235.7 138.6 234.5 139 234 139.4 233.9 139.8 234.1 140.2 234.8 140.5 237.3 140.2 240.5 139.8 241.7 139.4 242.2M145 241.2 144.6 241 144.4 240.5 144.2 238.9 144.3 236.9 144.6 236 145 235.5 145.4 235.5 145.7 236.1 145.9 237.7 145.7 239.7 145.4 240.7 145 241.2M102.6 254.1 98.2 254 97 253.6 96.2 253 95.7 251.7 95.6 249.7 95.9 248.1 96.5 246.9 97.2 246.5 98.2 246.2 101 245.9 103.9 246.5 105.2 247.3 105.5 248.1 105.7 249.3 105.4 252.1 105 253 104.2 253.7 102.6 254.1M92.2 252.1 91.4 251.8 91.1 251.3 90.9 249.7 91.4 248.4 91.8 248 92.6 247.9 93 248 93.4 248.5 93.5 250.1 93 251.7 92.2 252.1M109.4 252.5 108.6 252.5 108.2 252.2 107.8 250.9 107.8 249.7 108.1 248.9 108.5 248.5 109 248.4 109.5 248.5 110 248.9 110.4 250.1 110.2 251.6 109.4 252.5M102.6 262.5 101.4 262.6 98.2 262.5 97 262.2 96.3 261.7 95.7 260.5 95.6 258.9 95.9 257.3 96.8 256.1 98.3 255.3 100.6 254.9 103 255.7 104.1 256.5 104.7 258.1 104.6 260.5 103.8 261.9 102.6 262.5M101.4 271.3 97.4 271.1 96.6 270.8 95.9 270.1 95.6 268.5 95.8 266.9 96.3 265.7 97.2 264.9 98.6 264.2 100.2 264 102.2 264.8 103.4 265.9 103.8 266.9 103.9 267.7 103.5 270.1 102.6 271 101.4 271.3M101.4 279.7 97.4 279.7 96.6 279.5 95.8 278.9 95.6 278.1 95.6 275.7 95.9 274.9 96.6 274.1 97.8 273.3 99.4 272.7 101 273.3 102.5 274.5 103.1 275.7 102.9 278.5 102.4 279.3 101.4 279.7M101 287.8 97 287.8 95.9 287.3 95.6 286.5 95.6 284.9 96.2 283.7 97.4 282.7 99 282 100.2 282.5 101 283 101.9 284.1 102.2 285.3 101.8 287.3 101 287.8M100.6 295.3 99.8 295.6 96.6 295.5 96 294.9 96.1 293.7 97 292.4 98.6 291.6 99.8 292.3 100.7 293.3 100.9 294.5 100.6 295.3" stroke="#002dff"/><path d="M104.2 199.7 103 200 102.2 199.7 101.3 198.9 100.8 198.1 100.7 197.3 100.9 196.5 101.2 196.1 101.8 195.8 102.6 195.7 104.6 195.8 105.4 196.2 105.8 196.9 105.7 198.1 105.3 198.9 104.2 199.7M103 209.4 102.2 209.3 101 208.8 100.2 208.1 99.7 207.3 99.5 206.1 99.7 204.9 100.2 204.2 101 203.8 101.8 203.6 104.6 203.8 105.4 204.1 106 204.9 106.2 206.5 105.7 207.7 104.6 208.8 103 209.4M103.4 218.5 102.2 218.7 101 218.4 99.5 217.7 98.8 216.9 98.4 215.7 98.4 214.5 98.8 213.3 99.4 212.5 100.1 212.1 101 211.9 103.8 212 105 212.3 105.9 212.9 106.3 213.7 106.4 214.5 106.1 216.5 105.3 217.7 103.4 218.5M103.4 227.7 101.8 227.9 100.2 227.7 98.9 227.3 97.7 226.5 97.3 225.3 97.3 223.3 97.7 221.7 98.6 220.7 100.2 220.2 103.8 220.3 105.4 220.8 106.2 221.6 106.5 222.5 106.7 223.7 106.6 225 106.3 226.1 105.8 226.8 105.1 227.3 103.4 227.7M103.8 245.4 101.8 245.4 98.2 245.2 96.6 244.6 96 243.7 95.8 242.5 95.7 240.1 95.8 236.1 96.2 231.7 96.9 229.7 97.8 228.9 100.2 228.6 104.6 228.8 105.9 229.3 106.6 230.3 106.9 232.1 106.9 234.5 106.6 240.8 106.2 243.2 105.4 244.7 104.6 245.2 103.8 245.4M92.6 244.1 91.4 243.8 90.9 243.3 90.5 242.5 90.2 240.5 90.2 236.4 90.6 232.7 91 231.2 91.4 230.4 92.1 229.7 93.4 229.4 94.2 229.7 94.6 230.1 95 231 95.2 233.7 95 239.1 94.6 242 94.2 243.1 93.4 243.9 92.6 244.1M109.8 244.6 108.6 244.4 107.8 243.6 107.4 241.4 107.4 238.5 107.8 233.1 108.2 231.4 109 230.2 110.2 229.9 111.4 230.4 112 231.3 112.4 233.3 112.4 236.1 112.2 240 111.8 242.2 111 243.9 109.8 244.6M87 243 86.1 242.9 85.3 242.1 84.8 240.5 84.6 238.1 84.9 234.1 85.4 231.8 86.2 230.5 87 230.1 87.8 230.3 88.6 231.3 88.9 232.9 89 234.9 88.6 240.2 88.2 241.6 87.8 242.4 87 243M81 241.9 80.2 241.7 79.5 240.5 79.2 238.9 79.2 236.5 79.4 234 79.8 232.4 80.6 231.1 81.4 230.9 82.2 231.5 82.6 232.7 82.8 236.1 82.6 238.5 82.2 240.3 81.8 241.2 81 241.9M115.8 243.8 115 243.8 114.6 243.6 113.9 242.5 113.7 240.9 113.6 238.1 113.8 235.1 114.2 232.9 115 231.4 115.4 231.1 116.2 231 117 231.4 117.6 232.5 117.9 234.1 117.9 236.9 117.8 239.3 117.4 241.6 116.6 243.3 115.8 243.8M75 240.6 74.6 240.4 74.3 240.1 74 239.3 73.7 238.1 73.7 236.1 74.2 233.2 74.6 232.4 75 232 75.4 231.9 75.8 232.1 76.2 232.9 76.5 234.5 76.5 236.1 76.1 238.9 75.8 239.8 75.4 240.4 75 240.6M121.8 243 121 243 120.2 242.1 119.9 240.5 119.8 238.9 120.2 234.4 121 232.6 121.8 232.1 122.6 232.5 123 233.2 123.4 234.9 123.5 236.5 123.4 238.5 123 240.9 122.6 242 121.8 243M69.4 238.6 69 238.7 68.6 238.1 68.4 236.5 68.6 234.7 69 233.6 69.4 233.4 69.8 233.7 69.9 234.1 70.1 235.7 69.9 237.7 69.4 238.6M127.4 242.1 127 242.1 126.6 241.7 126.3 240.9 126.1 237.7 126.6 234.6 127 233.9 127.4 233.5 127.8 233.5 128.2 233.7 128.6 234.5 128.9 237.7 128.7 239.7 128.3 240.9 127.8 241.9 127.4 242.1M133.4 240.6 133 240.6 132.7 240.1 132.5 238.5 132.7 236.5 133 235.6 133.4 235.3 133.8 235.5 134 236.1 134.2 237.7 133.9 239.7 133.4 240.6M102.6 253.8 98.6 253.7 97.3 253.3 96.6 252.7 96.1 251.7 95.9 249.7 96.2 248.1 97 247 98.2 246.4 101 246.1 103.1 246.5 104.7 247.3 105.2 248.1 105.4 249.3 105.1 251.7 104.7 252.5 104.2 253.1 102.6 253.8M102.6 261.8 101.4 262.1 98.6 262 97.5 261.7 96.9 261.3 96.3 260.1 96.2 258.9 96.5 257.3 97.1 256.5 98.5 255.7 100.2 255.3 102 255.7 103.3 256.5 104.1 257.7 104.2 259.6 103.7 260.9 102.6 261.8M101.8 270.2 101 270.3 98.6 270.3 97.8 270.2 97 269.7 96.5 268.9 96.4 267.7 96.8 266.5 97.4 265.7 98.6 264.9 99.8 264.6 101 264.9 102.2 265.7 103 266.9 103.1 268.1 102.8 269.3 101.8 270.2M101 278.1 100.2 278.3 98.2 278.2 97.4 278 97 277.6 96.8 276.9 96.8 276.1 97.2 275.3 98 274.5 99.4 273.9 100.7 274.5 101.5 275.3 101.9 276.5 101.8 277.3 101 278.1" stroke="#0085ff"/><path d="M103.4 208.2 102.6 208.3 102.2 208.2 101.1 207.3 100.9 206.1 101.4 205.3 102.2 205 103.4 205 104.2 205.2 104.6 205.6 104.8 206.5 104.6 207.1 104.2 207.7 103.4 208.2M102.6 218.1 101.8 218.1 100.6 217.6 99.7 216.9 99.3 216.1 99.1 215.3 99.3 214.1 99.8 213.3 100.6 212.8 101.8 212.6 104.2 212.8 105 213.3 105.5 214.1 105.6 215.7 105.1 216.9 104 217.7 102.6 218.1M103.8 227.4 101.8 227.6 100.6 227.5 99 227 98.2 226.3 97.7 225.3 97.7 223.7 98.1 222.1 98.8 221.3 100.2 220.7 103 220.7 104.6 221 105.6 221.7 106.2 223.3 106.1 225.3 105.4 226.6 103.8 227.4M104.2 245 102.2 245.2 98.2 245 97 244.5 96.2 243.4 95.9 241.7 95.8 239.7 96.2 232.8 96.6 230.9 97 230.1 97.4 229.6 98.2 229.1 100.2 228.8 103.8 228.9 105.4 229.4 106.3 230.5 106.7 231.7 106.8 234.5 106.6 239.4 106.3 241.7 105.9 243.3 105.5 244.1 105 244.6 104.2 245M93 243.4 91.8 243.2 91 242.4 90.6 240.9 90.4 238.1 90.6 234.5 91 232.4 91.8 230.7 92.2 230.4 93 230.1 93.8 230.2 94.6 231 95 232.9 95 234.5 95 237 94.6 240.8 94.2 242.2 93.8 242.9 93 243.4M110.2 243.8 109 243.9 108.2 243.3 107.8 242.4 107.6 240.1 107.8 234.6 108.2 232.4 109 230.9 109.8 230.6 110.6 230.7 111.4 231.3 111.9 232.5 112.2 234.9 112.2 237.7 111.8 240.8 111.1 242.9 110.2 243.8M87 241.8 86.2 241.8 85.5 240.9 85.2 239.7 85 237.7 85.1 235.3 85.5 233.3 86.2 231.8 87 231.2 87.8 231.5 88.2 232.1 88.6 233.6 88.7 235.3 88.6 237.7 88.2 240 87.8 241 87 241.8M115.8 242.7 115 242.6 114.3 241.7 114 240.5 113.9 238.5 114.1 235.3 114.5 233.7 115 232.6 115.8 232.1 116.6 232.4 117 232.9 117.4 234.1 117.6 236.5 117.4 239.3 117 241 116.6 241.9 115.8 242.7M81.4 239.7 81 240 80.6 240 80.3 239.7 80 238.9 79.8 237.7 79.8 235.9 80 234.5 80.5 233.3 81 232.8 81.4 232.8 81.8 233.2 82.2 234.9 82.1 237.7 81.8 239 81.4 239.7M121.8 241.1 121.4 241.3 121 241.1 120.7 240.5 120.4 238.1 120.7 235.3 121.1 234.5 121.4 234.1 121.8 234 122.2 234.2 122.6 235 122.8 236.9 122.6 239.4 122.2 240.6 121.8 241.1M102.2 253.3 98.6 253.2 97.8 252.9 97 252.3 96.5 251.3 96.4 249.7 96.6 248.4 97.3 247.3 97.9 246.9 99 246.6 101 246.4 103.3 246.9 104.4 247.7 104.9 249.3 104.9 250.5 104.6 251.6 103.8 252.7 102.2 253.3M101.4 261.3 98.6 261.2 97.4 260.5 97 259.6 97 258.3 97.4 257.3 98.2 256.5 99.4 256 100.6 255.9 102.2 256.5 103.1 257.3 103.5 258.5 103.2 260.1 102.5 260.9 101.4 261.3M100.6 269 99 269 98.1 268.5 97.9 268.1 97.8 267.3 98.2 266.6 98.7 266.1 100 265.7 100.9 266.1 101.4 266.6 101.7 267.3 101.7 268.1 101.4 268.6 100.6 269" stroke="#00ddfe"/><path d="M103.4 216.9 102.2 217.2 101.4 217 100.8 216.5 100.3 215.3 100.6 214.5 100.9 214.1 101.8 213.8 103 213.8 103.8 214.1 104.2 214.5 104.4 214.9 104.4 215.7 103.9 216.5 103.4 216.9M103.8 227 102.6 227.2 101.4 227.2 100 226.9 99 226.3 98.5 225.7 98.2 224.5 98.4 223.3 99 222.1 100.2 221.3 101.4 221.2 103.5 221.3 104.5 221.7 105 222.1 105.5 223.3 105.6 224.9 105 226.2 103.8 227M103 244.9 99.5 244.9 97.8 244.5 96.8 243.7 96.2 242.3 96 237.7 96.2 234.2 96.6 231.9 97.4 230.1 98.2 229.5 99 229.2 101 229 104.2 229.3 105.6 230.1 106.3 231.3 106.6 233.1 106.6 236.1 106.1 241.7 105.7 242.9 105 244.1 104.2 244.6 103 244.9M92.6 242.5 91.7 242.1 91 240.7 90.7 238.5 90.8 236.1 91 234.1 91.7 232.1 92.6 231.1 93.4 231 94.2 231.6 94.6 232.6 94.8 234.9 94.7 237.7 94.5 239.3 94 241.3 93.4 242.3 92.6 242.5M109.8 243 109 243 108.2 242 107.9 240.5 107.8 238.9 108.2 233.8 108.6 232.6 109 231.9 109.8 231.5 110.6 231.7 111.4 232.7 111.8 234.5 111.9 236.1 111.8 238.1 111.4 240.6 110.6 242.4 109.8 243M86.6 240.1 86.2 239.8 85.8 238.7 85.7 236.5 85.8 235.3 86.2 233.9 86.6 233.3 87 233 87.4 233.1 87.8 233.7 88.1 234.9 88.1 236.5 87.8 238.9 87.4 239.7 87 240.1 86.6 240.1M115.8 240.9 115.4 241 114.9 240.5 114.6 239.7 114.5 238.1 114.6 236.1 114.9 234.9 115.4 234.1 115.8 233.9 116.2 234 116.6 234.6 116.9 236.9 116.6 239.6 116.2 240.5 115.8 240.9M102.6 252.6 101.4 252.8 99.4 252.7 98.5 252.5 97.8 252.1 97.3 251.3 97 250.1 97.1 248.9 97.7 247.7 99 247 100.6 246.7 102.2 247 103.6 247.7 104.3 248.9 104.3 250.5 103.8 251.7 102.6 252.6M101 260.2 99.4 260.2 98.5 259.7 98.3 259.3 98.2 258.5 98.5 257.7 99 257.2 99.8 256.8 100.6 256.8 101.4 257.2 102 257.7 102.3 258.5 102.1 259.3 101.8 259.8 101 260.2" stroke="#40ffb7"/><path d="M103 226.5 101.8 226.7 101 226.6 100.2 226.3 99.5 225.7 99.2 224.9 99.1 224.1 99.4 223.2 99.9 222.5 101 222 102.6 222 103.8 222.4 104.3 222.9 104.8 224.1 104.6 225.2 103.9 226.1 103 226.5M103 244.5 100.2 244.6 98.2 244.2 97.1 243.3 96.5 242.1 96.2 240.1 96.2 238.1 96.6 233.2 97 231.7 97.7 230.5 98.6 229.8 99.4 229.5 102.2 229.4 104.2 229.7 105.4 230.5 105.9 231.3 106.2 232.4 106.4 236.9 106.2 239.5 105.8 241.7 105.4 242.7 104.7 243.7 104.2 244.1 103 244.5M93 241.2 92.2 241 91.8 240.5 91.4 239.3 91.2 237.3 91.4 235.2 91.8 233.6 92.2 232.9 93 232.3 93.4 232.3 93.8 232.6 94.1 233.3 94.4 235.7 94.2 238.9 93.8 240.2 93 241.2M109.4 241.7 108.8 241.3 108.4 240.5 108.2 239.3 108.2 236.9 108.6 234.3 109 233.4 109.8 232.8 110.6 233.2 111 233.9 111.3 235.3 111.4 237.3 111 239.7 110.6 240.8 110.2 241.4 109.4 241.7M102.2 251.8 101.4 252 99.8 252 99 251.7 98.4 251.3 98 250.5 97.8 249.7 98 248.9 98.5 248.1 99.4 247.5 100.6 247.3 101.8 247.5 102.9 248.1 103.4 248.9 103.5 250.1 103 251.1 102.2 251.8" stroke="#87ff70"/><path d="M102.6 225.3 101.8 225.5 101 225.1 100.8 224.5 101 223.8 101.8 223.5 102.7 223.7 103 224.1 103.1 224.5 103 224.9 102.6 225.3M102.6 244.1 100.2 244.2 98.4 243.7 97.8 243.3 97.2 242.5 96.6 240.6 96.5 236.1 97.2 232.5 98.2 230.7 99 230.2 100.2 229.8 102.6 229.8 103.8 230.1 104.5 230.5 105.4 231.5 106 233.3 106.1 237.3 105.8 240.1 105.4 241.6 105 242.5 104.4 243.3 103.8 243.7 102.6 244.1M93 238.7 92.5 238.5 92.2 236.9 92.5 235.3 93 234.7 93.4 235 93.6 236.5 93.4 238.2 93 238.7M109.8 239.2 109.4 239.2 109.2 238.9 108.9 237.7 109.1 236.1 109.4 235.4 109.8 235.2 110.2 235.6 110.4 236.9 110.2 238.5 109.8 239.2M101 250.5 100.2 250.5 99.7 250.1 99.5 249.7 99.8 248.9 100.2 248.6 101 248.5 101.6 248.9 101.8 249.3 101.7 250.1 101 250.5" stroke="#ceff29"/><path d="M103 243.4 101.4 243.7 100.2 243.6 99 243.3 97.8 242.3 97.1 240.5 96.9 236.9 97.4 233.3 97.8 232.3 98.5 231.3 99.4 230.7 100.2 230.4 102.2 230.4 103.8 230.8 104.8 231.7 105.5 233.3 105.8 236.5 105.4 239.9 104.5 242.1 103.8 242.9 103 243.4" stroke="#ffd300"/><path d="M101.4 242.9 100.2 242.8 99.4 242.6 98.3 241.7 97.6 240.1 97.3 237.7 97.6 234.9 98.3 232.9 99.4 231.6 100.2 231.3 101.4 231.1 103 231.3 104.2 232.2 105 233.9 105.3 236.5 105 239.2 104.2 241.3 103 242.5 101.4 242.9" stroke="#ff8200"/><path d="M101.8 241.8 100.2 241.7 99 240.9 98.3 239.3 98 237.7 98.3 235.3 99 233.5 100 232.5 101.4 232.1 102.6 232.4 103.7 233.3 104.3 234.5 104.5 236.1 104.4 238.1 103.8 240.1 103 241.2 101.8 241.8" stroke="#ff0000" stroke-width="1.9"/></g><rect x="30.40" y="175.50" width="146.00" height="119.80" fill="none" stroke="#b4b4b4" stroke-width="1"/><path d="M66.9 295.3V293.8M66.9 175.5V177.0M103.4 295.3V293.8M103.4 175.5V177.0M139.9 295.3V293.8M139.9 175.5V177.0M30.4 275.3H31.9M176.4 275.3H174.9M30.4 255.4H31.9M176.4 255.4H174.9M30.4 235.4H31.9M176.4 235.4H174.9M30.4 215.4H31.9M176.4 215.4H174.9M30.4 195.5H31.9M176.4 195.5H174.9" stroke="#b4b4b4" stroke-width="0.7" fill="none"/><text x="29.10" y="305.20" text-anchor="middle" textLength="7.02" lengthAdjust="spacingAndGlyphs" style="font-family:'Liberation Sans',sans-serif;font-weight:bold;stroke:#161616;stroke-width:0.4px;font-size:8.5px;" fill="#161616">-2</text><text x="65.60" y="305.20" text-anchor="middle" textLength="7.02" lengthAdjust="spacingAndGlyphs" style="font-family:'Liberation Sans',sans-serif;font-weight:bold;stroke:#161616;stroke-width:0.4px;font-size:8.5px;" fill="#161616">-1</text><text x="103.40" y="305.20" text-anchor="middle" textLength="4.39" lengthAdjust="spacingAndGlyphs" style="font-family:'Liberation Sans',sans-serif;font-weight:bold;stroke:#161616;stroke-width:0.4px;font-size:8.5px;" fill="#161616">0</text><text x="139.90" y="305.20" text-anchor="middle" textLength="4.39" lengthAdjust="spacingAndGlyphs" style="font-family:'Liberation Sans',sans-serif;font-weight:bold;stroke:#161616;stroke-width:0.4px;font-size:8.5px;" fill="#161616">1</text><text x="176.40" y="305.20" text-anchor="middle" textLength="4.39" lengthAdjust="spacingAndGlyphs" style="font-family:'Liberation Sans',sans-serif;font-weight:bold;stroke:#161616;stroke-width:0.4px;font-size:8.5px;" fill="#161616">2</text><text x="27.40" y="298.20" text-anchor="end" textLength="7.02" lengthAdjust="spacingAndGlyphs" style="font-family:'Liberation Sans',sans-serif;font-weight:bold;stroke:#161616;stroke-width:0.4px;font-size:8.5px;" fill="#161616">-3</text><text x="27.40" y="278.23" text-anchor="end" textLength="7.02" lengthAdjust="spacingAndGlyphs" style="font-family:'Liberation Sans',sans-serif;font-weight:bold;stroke:#161616;stroke-width:0.4px;font-size:8.5px;" fill="#161616">-2</text><text x="27.40" y="258.27" text-anchor="end" textLength="7.02" lengthAdjust="spacingAndGlyphs" style="font-family:'Liberation Sans',sans-serif;font-weight:bold;stroke:#161616;stroke-width:0.4px;font-size:8.5px;" fill="#161616">-1</text><text x="27.40" y="238.30" text-anchor="end" textLength="4.39" lengthAdjust="spacingAndGlyphs" style="font-family:'Liberation Sans',sans-serif;font-weight:bold;stroke:#161616;stroke-width:0.4px;font-size:8.5px;" fill="#161616">0</text><text x="27.40" y="218.33" text-anchor="end" textLength="4.39" lengthAdjust="spacingAndGlyphs" style="font-family:'Liberation Sans',sans-serif;font-weight:bold;stroke:#161616;stroke-width:0.4px;font-size:8.5px;" fill="#161616">1</text><text x="27.40" y="198.37" text-anchor="end" textLength="4.39" lengthAdjust="spacingAndGlyphs" style="font-family:'Liberation Sans',sans-serif;font-weight:bold;stroke:#161616;stroke-width:0.4px;font-size:8.5px;" fill="#161616">2</text><text x="27.40" y="178.40" text-anchor="end" textLength="4.39" lengthAdjust="spacingAndGlyphs" style="font-family:'Liberation Sans',sans-serif;font-weight:bold;stroke:#161616;stroke-width:0.4px;font-size:8.5px;" fill="#161616">3</text><text x="101.80" y="316.50" text-anchor="middle" textLength="42.8" lengthAdjust="spacingAndGlyphs" style="font-family:'Liberation Sans',sans-serif;font-weight:bold;stroke:#161616;stroke-width:0.4px;font-size:8.2px;" fill="#161616">Range / m</text><text x="13.50" y="235.30" text-anchor="middle" textLength="49.4" lengthAdjust="spacingAndGlyphs" style="font-family:'Liberation Sans',sans-serif;font-weight:bold;stroke:#161616;stroke-width:0.4px;font-size:7.9px;" fill="#161616" transform="rotate(-90 13.5 235.3)">Azimuth / m</text><g clip-path="url(#cg)" fill="none" stroke-width="1.25" stroke-linejoin="round"><path d="M91.8 465.9 92.5 464.3 92.6 462.3 92.4 461.5 91.5 459.9 91.4 459.1 92.8 455.9 93 453.1 91.9 450.3 92.2 449.1 93.1 447.1 93.3 444.3 93.2 443.5 92.5 441.9 92.5 441.1 93.2 439.5 93.5 438.3 93.5 436.3 93.9 433.9 94.4 433.1 95.6 431.9 95.5 431.5 94.3 430.4 94 429.5 93.9 427.9 94.1 425.9 94.7 424.2 96.1 423.1 96 422.7 94.7 421.9 94.3 421.1 94.2 419.5 94.3 416.8 94.8 415.1 95.1 414.7 96 414.3 96.2 413.9 95.1 413.5 94.7 413 94.5 411.5 94.6 409.1 94.3 407.3 94 409.1 94 411.1 93.6 412.7 93.1 413.2 91.9 413.5 90.7 413.3 89.9 412.7 89.5 410.8 89.4 407.5 89.8 403.5 89.9 400.7 90.3 398.2 90.7 397.3 91.5 396.7 92.7 396.6 93.9 397 94.3 397.5 94.5 399.1 94.4 401.5 94.7 403.2 95 401.1 95 399.1 95.4 397.5 95.9 396.9 97.4 396.3 96.5 395.9 95.9 395.4 95.5 394.3 95.5 393.1 95.6 391.1 96 389.1 96.5 388.3 98 387.5 97 386.7 96.4 385.9 96.1 383.9 96.3 381.5 96.6 380.3 97.1 379.6 98.3 378.7 97.1 377.2 96.8 376.3 96.7 374.3 96.9 371.9 96 369.1 97.2 366.3 97.4 363.5 96.6 361.1 96.5 359.9 96.7 359.1 97.7 357.5 97.9 355.1 97.8 354.3 97.1 352.3 96.9 351.1 97 350.3 98.3 348.3 98.4 346.3 98.3 345.5 97.3 342.7 97.2 341.9 97.5 341.1M108 341.1 108.3 341.9 108.2 342.7 106.7 346.3 106.6 348.7 107.5 350.3 107.8 351.1 107.5 352.3 106.3 355.1 106.2 357.5 107.1 359.5 107.3 360.3 107.1 361.1 106.1 363.5 105.9 366.7 106.7 368.7 106.7 369.5 106 371.1 105.6 372.3 105.6 374.7 105.3 376.7 104.7 377.7 103.6 378.7 103.7 379.1 104.7 379.9 105 380.3 105.3 381.9 105.2 384.3 104.8 385.9 104.3 386.7 103.2 387.5 103.2 387.9 104.3 388.5 104.7 389.1 105 390.7 104.9 393.1 104.7 394.8 104.4 395.5 104 395.9 103.2 396.3 103 396.7 104.1 397.1 104.4 397.5 105.1 400.6 105.5 398.2 105.9 397.5 106.7 397.1 107.5 397.1 108.3 397.2 109.1 397.7 109.5 398.5 109.6 399.5 109.6 403.5 109.8 407.1 109.5 407.5 109.1 411.5 108.7 412.9 108.3 413.5 107.6 413.9 106.7 414 105.9 413.9 105.2 413.5 104.8 412.7 104.3 410.4 103.9 412.9 103.6 413.5 101.8 414.3 102.8 414.7 103.5 415.5 103.7 417.5 103.5 420.5 103.1 421.8 102.7 422.3 101.2 423.1 102.2 423.9 102.7 424.6 103.1 426.3 103 428.3 102.7 430 102.3 430.8 100.9 431.9 101.9 433.1 102.4 434.3 102.5 436.3 102.4 438.7 103.2 441.5 102 444.3 101.8 447.1 102.7 449.9 102.7 450.7 101.4 453.5 101.4 456.3 102.3 458.7 102.4 459.5 102.2 460.3 100.9 462.3 100.8 464.7 101.2 465.9M94.3 374.9 93.9 375 93.5 374.8 93.1 373.9 93.1 372.6 93.5 371.9 93.9 371.7 94.3 372 94.7 373 94.7 373.9 94.3 374.9M108.7 375.3 108.3 375.5 107.9 375.3 107.6 374.3 107.9 372.8 108.3 372.3 108.7 372.2 109.1 372.5 109.4 373.5 109.1 374.7 108.7 375.3M93.9 385.1 93.1 385.2 92.7 384.9 92.3 384.5 92 383.5 91.9 382.3 92.1 381.1 92.5 380.3 93.1 379.9 93.9 380 94.3 380.3 94.7 381.4 94.7 383.6 94.4 384.7 93.9 385.1M108.3 385.5 107.5 385.6 107.1 385.4 106.7 384.5 106.7 383.5 107.1 381.2 107.5 380.6 108.3 380.3 109.1 380.7 109.4 381.5 109.6 382.7 109.1 384.7 108.3 385.5M93.5 395.1 92.3 395.1 91.6 394.7 91.1 394 90.9 393.1 91 391.1 91.3 389.5 91.9 388.5 92.7 388.2 93.5 388.3 94.1 388.7 94.7 390.3 94.7 392.1 94.5 393.9 94.1 394.7 93.5 395.1M87.9 393.9 87.1 393.7 86.7 393.3 86.3 392.3 86.3 391.5 86.7 389.4 87.1 388.9 87.9 388.6 88.7 389.2 89.1 391.1 89 392.3 88.7 393.3 87.9 393.9M107.9 395.5 107.1 395.6 106.3 395.3 105.9 394.6 105.8 393.5 105.9 391.4 106.3 389.7 107.1 388.8 107.9 388.6 108.7 388.9 109.3 389.5 109.5 390.3 109.6 391.9 109.5 393.6 109.1 394.7 108.7 395.2 107.9 395.5M82.7 392.2 82.2 391.9 81.9 390.7 82.3 389.6 82.7 389.4 83.1 389.7 83.3 390.7 83.1 391.8 82.7 392.2M113.5 394.3 112.7 394.7 112.3 394.6 111.8 394.3 111.5 393.5 111.5 391.9 111.7 390.7 112.1 389.9 112.7 389.4 113.5 389.5 113.9 389.9 114.2 391.1 114.1 393.1 113.5 394.3M117.9 393.2 117.5 393 117.3 391.9 117.5 390.9 117.9 390.5 118.4 390.7 118.7 391.9 118.3 393 117.9 393.2M81.9 412.8 80.7 412.6 79.9 411.6 79.6 409.5 79.5 407.1 79.9 400.8 80.3 398.6 81.1 397.1 82.3 396.7 83.3 397.1 83.9 398.3 84.1 401.9 83.9 407.1 83.5 410.4 83.1 411.7 82.7 412.3 81.9 412.8M87.1 413.1 86.3 413.2 85.5 412.9 85.1 412.5 84.7 411.5 84.5 409.1 84.7 403.9 85.1 399.3 85.5 397.9 86.3 396.9 87.5 396.7 88.6 397.1 89.1 398 89.3 399.9 89.2 403.5 89.3 407.1 89.1 407.2 88.7 410.9 88.3 412.2 87.9 412.7 87.1 413.1M66.7 411.5 65.9 411.6 65.5 411.4 65.1 410.7 64.7 408.7 64.6 405.1 64.9 401.1 65.5 398.3 66.3 397.1 67.1 397 67.9 397.7 68.3 398.9 68.5 403.1 68.3 406.5 67.9 409.2 67.5 410.5 66.7 411.5M71.9 411.9 71.1 412.1 70.7 411.9 70.1 411.1 69.7 409.5 69.6 407.1 69.9 401 70.3 398.9 71.1 397.2 71.9 396.8 72.7 397.1 73.2 397.9 73.6 399.1 73.7 401.9 73.5 406.8 73.1 409.6 72.7 410.9 71.9 411.9M76.7 412.4 75.9 412.4 75.5 412.1 74.9 411.1 74.6 409.5 74.6 406.3 74.7 403 75.2 399.1 75.9 397.4 76.3 397 77.1 396.7 78 397.1 78.6 398.3 78.8 399.9 78.9 402.7 78.7 407 78.3 410 77.5 411.9 76.7 412.4M56.7 410.3 56.3 410.6 55.9 410.7 55.5 410.4 55.1 409.7 54.7 407.9 54.7 405.9 54.7 403.5 55.1 400.2 55.9 397.9 56.3 397.4 56.7 397.3 57.1 397.5 57.4 397.9 57.7 398.7 58 402.3 57.9 405.8 57.6 407.9 57.1 409.7 56.7 410.3M61.5 411.1 60.7 411.1 60.3 410.6 59.9 409.6 59.7 407.5 59.6 405.1 59.9 401.2 60.3 399.1 61.1 397.4 61.9 397.1 62.3 397.3 62.7 397.8 63.1 399.1 63.3 403.1 63.1 406.2 62.7 408.9 62.3 410.1 61.5 411.1M112.3 413.9 111.1 413.8 110.3 413.1 109.9 411.5 109.8 408.3 109.6 407.5 109.9 407.2 110.2 401.5 110.7 398.9 111.1 398.1 111.5 397.7 112.7 397.4 113.5 397.6 114.3 398.5 114.6 400.3 114.7 403.1 114.3 409.8 113.9 412.1 113.2 413.5 112.3 413.9M51.1 410.1 50.7 410 50.3 409.5 49.9 408.3 49.7 404.3 49.9 401.8 50.3 399.5 50.7 398.4 51.1 397.8 51.5 397.6 51.9 397.7 52.3 398.3 52.6 399.5 52.8 403.5 52.3 407.9 51.9 409.2 51.5 409.8 51.1 410.1M117.1 413.9 115.9 413.5 115.4 412.7 115.1 410.8 115.1 407.1 115.5 401.5 115.9 399.4 116.7 398.1 117.9 397.8 118.9 398.3 119.5 399.8 119.6 402.7 119.5 407.6 119.1 411.1 118.7 412.6 117.9 413.6 117.1 413.9M46.3 409.2 45.9 409.4 45.5 409.1 45.1 408.3 44.8 405.1 45.1 400.7 45.5 399.2 45.9 398.4 46.3 398.1 46.7 398.1 47.1 398.7 47.5 400.5 47.6 402.3 47.5 404.4 47.1 407.3 46.7 408.6 46.3 409.2M122.7 413.7 121.9 413.8 121.5 413.7 120.7 412.8 120.4 411.1 120.3 409.1 120.7 401.8 121.1 399.9 121.9 398.5 122.7 398.1 123.5 398.3 123.9 398.7 124.3 399.5 124.7 403.1 124.1 410.7 123.5 412.9 122.7 413.7M41.1 408.4 40.7 408.5 40.2 407.5 39.9 405.9 39.9 403.7 40.3 400.3 40.7 399.2 41.1 398.6 41.5 398.6 41.9 399.2 42.1 400.3 42.3 403.1 41.9 406.6 41.5 407.9 41.1 408.4M127.9 413.5 127.5 413.7 126.7 413.6 125.9 412.7 125.6 410.7 125.5 408.7 125.9 402.1 126.3 400.3 127.1 398.8 127.9 398.5 128.7 398.8 129.1 399.5 129.5 400.9 129.6 403.5 129.5 407.6 129.1 410.9 128.7 412.4 127.9 413.5M132.7 413.6 131.9 413.6 131.5 413.2 131.1 412.5 130.7 410.3 130.7 407.4 131.1 402.4 131.5 400.6 132.3 399.2 133.1 398.9 133.9 399.5 134.3 400.4 134.6 402.7 134.6 405.1 134.3 409.5 133.9 411.6 133.5 412.7 132.7 413.6M35.9 407.4 35.5 407.2 35.1 405.9 35.1 403.1 35.5 400.4 35.9 399.5 36.3 399.4 36.7 400 36.8 400.7 36.9 403.5 36.7 405.6 36.3 406.9 35.9 407.4M137.9 413.3 137.1 413.4 136.7 413.1 136.3 412.3 136 410.3 135.9 408.3 136.1 404.7 136.5 401.9 137.1 400.1 137.9 399.4 138.7 399.7 139.1 400.3 139.5 402.2 139.6 404.3 139.5 407.3 139.1 410.6 138.7 412.1 137.9 413.3M142.7 413.2 142.3 413.2 141.9 412.9 141.5 412.1 141.2 409.9 141.1 407.5 141.5 403.2 141.9 401.5 142.3 400.6 143.1 399.9 143.5 400 143.9 400.5 144.3 401.6 144.5 405.9 144.3 409.1 143.9 411.3 143.5 412.4 142.7 413.2M147.9 412.9 147.5 413 147.1 412.7 146.7 411.8 146.4 409.9 146.4 407.5 146.7 403.7 147.1 402 147.5 401.1 147.9 400.6 148.3 400.5 148.7 400.8 149.2 401.9 149.5 403.9 149.5 405.9 149.1 410.3 148.7 411.7 148.3 412.5 147.9 412.9M153.1 412.4 152.7 412.6 152.3 412.3 151.9 411.5 151.6 408.3 152 403.9 152.3 402.5 152.7 401.7 153.1 401.3 153.5 401.3 154.1 402.3 154.3 403.3 154.4 405.5 154.3 408.2 154 410.3 153.5 411.9 153.1 412.4M157.9 412 157.5 411.8 157.1 410.7 157 407.1 157.1 405.2 157.5 403.3 157.9 402.4 158.3 402.1 158.7 402.3 159.1 403.3 159.3 406.7 159.1 409.1 158.7 410.9 158.3 411.8 157.9 412M104.7 407.1 104.9 405.1 104.7 403.4 104.5 405.5 104.7 407.3 104.7 407.1M163.1 411.2 162.7 411 162.4 409.9 162.3 407.1 162.7 404.2 163.1 403.3 163.5 403.2 164 404.3 164.1 407.1 163.9 409.4 163.5 410.8 163.1 411.2M168.3 410 167.9 409.7 167.7 407.9 167.9 405.7 168.3 404.7M91.5 422 90.7 421.9 89.9 421 89.6 419.5 89.6 417.9 89.9 416.3 90.3 415.6 91.1 415.1 92.3 415 93.1 415.5 93.2 415.9 93.4 417.1 93.3 419.1 93.1 420.3 92.7 421.3 92.3 421.7 91.5 422M106.7 422.4 105.9 422.4 105.1 421.9 104.6 420.7 104.7 416.7 105.1 415.8 105.9 415.4 106.8 415.5 107.6 415.9 108 416.3 108.3 417.5 108.3 419.2 107.9 421.2 107.5 421.9 106.7 422.4M86.7 421.1 85.9 421.2 85.5 421 85.1 420.2 84.9 418.7 85.1 417.3 85.5 416.5 85.9 416.1 86.7 415.9 87.5 416.5 87.8 417.9 87.5 420 87.1 420.8 86.7 421.1M111.9 421.9 111.1 422 110.7 421.7 110.3 421 110.1 419.9 110.3 417.7 110.7 417 111.5 416.7 112.4 417.1 112.7 417.6 112.9 418.7 112.7 420.7 112.3 421.5 111.9 421.9M81.5 420 81.1 420.1 80.8 419.9 80.5 419.1 80.7 417.9 81.1 417.4 81.5 417.4 81.9 418 81.9 419.1 81.5 420M116.7 421.2 116.3 421.1 115.9 419.9 116.2 418.7 116.7 418.4 117.1 418.8 117.3 419.9 117.1 420.7 116.7 421.2M91.1 430.3 90.3 430.1 89.9 429.6 89.7 427.5 89.9 426.3 90.3 425.5 90.8 425.1 91.5 424.9 91.9 425 92.3 425.5 92.5 427.5 92 429.5 91.5 430.1 91.1 430.3M105.9 430.8 105.5 430.7 105 430.3 104.7 429.9 104.5 428.7 104.7 426.2 105.1 425.6 105.5 425.4 106.3 425.5 106.7 425.8 107.1 426.5 107.3 427.5 107.1 429.5 106.7 430.3 105.9 430.8M90.7 438.4 90.3 438.3 90 437.9 89.8 436.7 90.3 435.5 90.7 435.2 91.1 435.2 91.5 435.8 91.5 437.1 91.1 438.1 90.7 438.4M105.5 438.8 105.1 438.8 104.7 438.4 104.5 437.5 104.7 436 105.1 435.6 105.5 435.6 105.8 435.9 106.1 436.7 106.1 437.9 105.9 438.5 105.5 438.8" stroke="#000080"/><path d="M93.1 465.9 93 465.1 93.4 462.7 93.1 460.7 94.4 458.3 94.2 457.9 93.5 457.3 93.2 456.7 93.6 454.3 93.4 451.9 93.6 451.1 94.6 449.5 93.5 447.9 93.7 445.9 93.7 443.1 93.9 442.2 94.9 440.7 94.9 440.3 94.3 439.6 94 438.7 94 435.9 94.2 434.3 94.7 433.4 95.5 432.7 97.4 431.5 95.1 430.6 94.7 430.2 94.3 429.3 94.2 426.7 94.7 424.8 95.5 423.8 97.6 422.7 95.9 422.3 94.8 421.5 94.4 419.9 94.4 417.9 94.7 415.9 95.1 415.1 97.2 413.9 95.5 413.5 94.7 412.6 94.6 409.1 94.3 406.5 93.9 410.7 93.5 412.4 92.7 413.1 91.9 413.2 90.7 413 90.1 412.3 89.7 411.1 89.6 409.1 89.9 401.9 90.3 398.9 90.7 397.9 91.1 397.4 91.9 397 93.5 397.1 93.9 397.4 94.3 398.1 94.4 401.5 94.7 403.9 95 399.5 95.5 397.6 96.3 396.9 98.1 396.3 96.9 395.9 96 395.1 95.7 394.3 95.6 392.7 95.9 390.1 96.3 389.1 97.1 388.3 99 387.9 99 387.5 97.5 386.7 96.6 385.5 96.3 383.5 96.7 381.1 97.1 380.3 97.9 379.6 100 379.1 98.3 377.8 97.6 377.1 97.1 375.9 97 374.7 97.4 371.5 98.4 369.9 97.5 367.5 97.7 365.9 97.9 362.3 98.9 361.1 98.9 360.7 98 358.7 98.5 355.9 98.3 353.9 98.7 353.1 99.6 352.3 99.6 351.9 98.6 349.9 98.7 349.1 99.2 347.5 98.9 345.1 99.1 344.6 100.4 343.9 100.6 343.5 99.3 341.1M106.4 341.1 104.8 343.5 104.8 343.9 105.9 344.5 106.3 345.1 105.8 347.5 106.1 349.9 104.8 352.3 105 352.7 105.9 353.5 106 353.9 105.6 356.3 105.8 358.7 105.6 359.5 104.6 361.1 105.5 362.2 105.7 362.7 105.5 364.7 105.5 367.9 104.3 369.9 104.3 370.3 104.9 371.1 105.2 371.9 105.2 375.1 105 376.3 104.3 377.4 103.5 378.1 101.8 379.1 104 379.9 104.7 380.7 104.9 381.5 105 383.9 104.5 385.9 103.8 386.7 101.6 387.9 103.5 388.4 104.4 389.1 104.8 390.3 104.8 393.1 104.6 394.3 104.1 395.5 102 396.7 103.5 397 104.3 397.6 104.6 398.7 104.8 400.7 105.1 401.2 105.5 398.7 105.9 397.9 106.5 397.5 107.5 397.4 108.3 397.5 108.9 397.9 109.5 399.5 109.6 405.5 109.1 410.7 108.7 412.3 108.2 413.1 107.1 413.7 106.3 413.7 105.5 413.4 105 412.7 104.6 410.3 104.3 409.7 103.9 412.4 103.5 413.3 102.7 413.8 101.1 414.3 102.3 414.7 103.1 415.3 103.5 416.3 103.6 417.9 103.4 419.9 102.9 421.5 101.9 422.4 100.2 422.7 100.2 423.1 101.7 423.9 102.6 425.1 102.8 427.1 102.5 429.5 102.1 430.3 101.5 430.8 99.2 431.5 100.7 432.6 101.6 433.5 102 434.3 102.2 435.9 101.8 439.1 100.8 440.7 101.7 443.1 101.4 446.3 101.4 447.9 101.1 448.7 100.3 449.5 100.2 449.9 101.2 451.9 100.7 454.7 100.8 456.7 100.7 457.3 99.6 458.3 99.6 458.7 100.6 460.7 100 463.1 100.3 465.5 100.2 465.9M93.5 384.1 93.1 383.9 92.8 383.5 92.6 382.7 92.9 381.5 93.5 381.2 93.9 381.5 94.2 382.7 93.9 383.8 93.5 384.1M108.3 384.3 107.9 384.5 107.5 384.3 107.3 383.5 107.5 382.1 107.9 381.7 108.3 381.6 108.7 382.1 108.8 382.7 108.7 383.7 108.3 384.3M93.1 394.8 92.3 394.6 91.8 394.3 91.4 393.5 91.2 392.3 91.4 390.7 91.8 389.5 92.3 389 93.1 388.8 93.7 389.1 94.1 389.5 94.3 390.1 94.4 391.5 94.2 393.9 93.9 394.4 93.1 394.8M107.9 395.1 107.1 395.2 106.3 394.7 106 393.1 106.3 390.7 106.7 389.9 107.1 389.5 107.9 389.3 108.5 389.5 108.9 389.9 109.2 390.7 109.3 391.9 109 393.9 108.5 394.7 107.9 395.1M87.9 392.7 87.5 392.7 87.2 392.3 87 391.5 87.4 390.3 87.9 390 88.3 390.5 88.4 391.5 88.3 392.3 87.9 392.7M112.7 393.5 112.2 393.1 112.1 391.9 112.4 391.1 112.7 390.8 113.1 390.8 113.5 391.5 113.5 392.5 113.1 393.3 112.7 393.5M86.7 412.8 85.9 412.6 85.5 412.3 84.9 411.1 84.7 409.5 84.7 404.9 85.1 400.4 85.5 398.7 86.3 397.4 87.5 397.1 88.3 397.4 88.7 397.8 89.1 399 89.1 405.5 88.7 410 88.3 411.5 87.5 412.5 86.7 412.8M82.3 412 81.9 412.2 81.1 412.2 80.3 411.4 79.9 410.3 79.7 407.1 79.9 402.5 80.3 399.8 81.1 397.9 81.5 397.5 82.3 397.3 83.1 397.7 83.5 398.3 83.9 399.9 84 401.9 83.9 405.2 83.5 409.3 83.1 410.8 82.3 412M71.9 410.9 71.1 411.1 70.7 410.8 70.3 410.1 69.9 408.3 69.8 406.3 69.9 403.7 70.3 400.5 71.1 398.3 71.9 397.8 72.7 398.2 73.1 399 73.5 402.7 73.1 407.9 72.7 409.6 71.9 410.9M76.7 411.7 75.9 411.5 75.1 410.3 74.8 408.3 74.8 405.9 75.1 401.2 75.5 399.3 76.3 397.9 77.1 397.5 77.9 397.9 78.4 399.1 78.7 400.8 78.7 404.3 78.3 408.6 77.9 410.2 77.5 411 76.7 411.7M111.9 413.5 110.8 413.1 110.3 412.3 110 410.3 110 407.1 110.3 402.1 110.7 399.7 111.1 398.7 111.5 398.2 112.7 397.9 113.5 398.1 113.9 398.6 114.4 399.9 114.5 403.1 114.3 408.5 113.9 411.2 113.5 412.4 112.7 413.3 111.9 413.5M66.7 410.3 66.3 410.4 65.9 410.3 65.5 409.9 65.1 408.6 64.9 405.9 65.1 402.2 65.5 400 65.9 399 66.7 398.2 67.1 398.2 67.5 398.6 67.9 399.5 68.2 402.7 67.9 407.2 67.5 409 66.7 410.3M61.5 409.6 61.1 409.7 60.7 409.4 60.3 408.5 60 404.7 60.3 401.5 60.7 399.8 61.1 399 61.5 398.7 61.9 398.7 62.3 399 62.7 400.1 62.9 403.9 62.7 406.4 62.3 408.3 61.9 409.2 61.5 409.6M117.5 413.2 116.7 413.3 115.9 412.7 115.4 411.5 115.2 408.7 115.5 402.8 115.9 400.4 116.7 398.8 117.5 398.4 118.3 398.5 119.1 399.6 119.4 401.5 119.5 403.5 119 410.3 118.3 412.5 117.5 413.2M122.7 412.9 121.9 413 121.1 412.4 120.7 411.1 120.5 408.3 120.7 403.5 121.1 401 121.9 399.3 122.7 398.9 123.5 399.2 123.9 399.9 124.3 401.2 124.4 403.9 124.3 407.6 123.9 410.5 123.5 411.8 122.7 412.9M56.3 408.8 55.9 408.7 55.4 407.9 55.2 406.3 55.1 404.3 55.6 400.7 56.2 399.5 56.7 399.2 57.1 399.6 57.5 401 57.6 403.9 57.1 407.4 56.7 408.4 56.3 408.8M127.5 412.7 126.7 412.6 126.3 412.1 126 411.1 125.8 406.7 125.9 404.2 126.3 401.7 127.1 399.9 127.9 399.5 128.7 400.1 129.1 401.1 129.3 403.1 129.3 405.5 129.1 408.9 128.7 410.9 128.3 411.9 127.5 412.7M51.1 407.7 50.7 407.3 50.4 406.3 50.3 403.9 50.7 401.2 51.1 400.3 51.5 400 51.9 400.5 52.1 401.1 52.2 403.9 51.9 406.3 51.5 407.4 51.1 407.7M132.7 412.3 132.3 412.4 131.9 412.3 131.3 411.1 131.1 409.5 131 406.7 131.1 404.7 131.6 401.9 132.3 400.5 132.7 400.2 133.1 400.2 133.5 400.5 134 401.5 134.3 403.5 134.3 405.5 133.9 409.7 133.5 411.2 132.7 412.3M137.5 412 137.1 411.8 136.9 411.5 136.5 410.3 136.3 406.3 136.8 402.7 137.1 401.8 137.5 401.2 137.9 400.9 138.3 401 138.7 401.5 138.9 402.3 139.2 403.9 139.2 406.3 138.7 410.1 138.3 411.2 137.9 411.8 137.5 412M46.3 405.8 45.9 405.9 45.6 404.3 45.9 402 46.3 401.4 46.7 402.2 46.7 403.1 46.7 404.4 46.3 405.8M142.7 411.4 142.3 411.3 141.9 410.5 141.6 408.7 141.6 406.7 142.1 403.1 142.7 402 143.1 401.8 143.5 402.1 143.9 403.3 144 406.7 143.5 410.2 143.1 411 142.7 411.4M104.7 408.3 105 405.1 104.7 402.3 104.4 405.5 104.7 408.6 104.7 408.3M147.9 410.5 147.5 410.4 147.1 409.5 147 406.7 147.1 405.3 147.5 403.6 147.9 403 148.3 403 148.8 404.3 148.9 406.7 148.5 409.1 148.3 410 147.9 410.5M153.1 409.1 152.7 409 152.5 407.5 152.7 405.2 153.1 404.6 153.5 405.3 153.6 406.3 153.5 407.7 153.1 409.1M91.9 421.2 91.1 421.3 90.3 420.7 89.9 418.7 90 417.5 90.3 416.3 91.1 415.6 91.9 415.4 92.4 415.5 92.8 415.9 93.1 416.5 93.2 417.5 93.1 418.9 92.7 420.3 92.3 421 91.9 421.2M106.7 421.7 105.9 421.7 105.5 421.5 105.1 421.1 104.8 419.9 104.7 418.3 105 416.7 105.5 416 105.9 415.9 106.7 415.9 107.4 416.3 107.9 417.5 108 419.1 107.7 420.3 107.4 421.1 106.7 421.7M86.7 419.6 86.3 419.8 85.9 419.6 85.7 419.1 85.8 417.9 86.3 417.1 86.7 417.2 87.1 417.9 87.1 418.7 86.7 419.6M111.5 420.6 111 420.3 110.7 419.1 111.1 418 111.5 417.9 111.9 418.1 112.2 419.1 111.9 420.3 111.5 420.6M91.5 428.8 91.1 429 90.7 428.8 90.4 427.9 90.6 426.7 91.1 426.1 91.5 426.1 91.9 426.7 91.9 427.9 91.5 428.8M105.9 429.4 105.5 429.4 105.3 429.1 105 427.9 105.1 427.2 105.4 426.7 105.9 426.6 106.3 426.9 106.6 427.9 106.3 429.1 105.9 429.4" stroke="#0000df"/><path d="M102.7 350.8 102.3 351 101.8 350.7 100.6 349.5 100.3 348.7 100.3 348 100.5 347.5 100.9 347.1 103.5 347.1 103.9 347.1 104.4 347.5 104.6 348.3 104.3 349.4 103.5 350.3 102.7 350.8M102.3 360.4 101.9 360.6 100.7 360 99.8 359.1 99.3 358.3 99.1 357.5 99.3 355.9 99.5 355.2 99.9 354.9 100.7 354.7 102.3 354.9 103.5 354.8 104.3 355 104.7 355.5 104.8 357.5 104.7 358.3 103.8 359.5 102.3 360.4M102.3 369.5 101.5 369.8 100.3 369.4 99.1 368.4 98.5 367.5 98.3 366.3 98.5 363.9 98.7 363.5 99.5 362.9 100.3 362.8 103.5 362.9 104.3 363.3 104.7 363.7 104.8 366.3 104.6 367.5 103.6 368.7 102.3 369.5M101.5 378.4 100.7 378.5 99.1 377.8 98.3 377.1 97.7 375.9 97.5 374.3 97.9 372.4 98.3 371.8 99.1 371.3 100.3 371.1 103.1 371.3 104.2 371.9 104.6 372.7 104.7 374.7 104.3 376.4 103.4 377.5 101.5 378.4M102.3 387.1 100.7 387.5 99.9 387.4 98.2 386.7 97.3 385.9 96.7 384.3 96.7 382.7 97.1 381.3 97.9 380.3 99.5 379.8 102.3 379.9 103.5 380.3 104.3 381.1 104.7 382.7 104.4 385.1 103.7 386.3 102.3 387.1M101.1 396.4 99.5 396.5 97.5 395.9 96.7 395.5 96.1 394.7 95.8 393.1 96.1 390.7 96.7 389.1 97.5 388.5 99.1 388.2 102.3 388.4 103.5 388.8 104.3 389.7 104.7 391.9 104.3 394.7 103.7 395.5 103.1 395.9 101.1 396.4M93.1 394 92.5 393.9 92.1 393.5 91.8 392.3 91.9 391.1 92.2 390.3 92.7 389.8 93.1 389.8 93.5 390 93.9 390.6 94.1 391.9 93.9 393.2 93.5 393.8 93.1 394M107.9 394.3 107.5 394.5 106.9 394.3 106.6 393.9 106.5 393.1 106.7 391.1 107.1 390.5 107.5 390.3 107.9 390.3 108.3 390.5 108.8 391.9 108.5 393.5 107.9 394.3M102.7 413.6 101.1 413.8 97.9 413.8 96 413.5 95.3 413.1 94.7 411.9 94.5 407.1 94.3 405.5 93.9 410.2 93.5 411.9 92.7 412.7 91.9 412.9 91 412.7 90.3 412.1 89.9 411 89.8 409.5 89.9 403 90.4 399.5 90.7 398.5 91.5 397.5 92.3 397.3 93.1 397.3 93.9 397.9 94.1 398.3 94.3 399 94.5 403.5 94.7 404.8 95.1 399.8 95.5 398.1 96.3 397.1 98.3 396.7 101.9 396.9 103.2 397.1 103.9 397.5 104.2 397.9 104.5 399.1 104.6 400.7 104.4 405.1 104.4 408.3 103.9 411.9 103.5 412.9 102.7 413.6M87.1 412.1 86.3 412.1 85.9 411.9 85.2 410.7 84.9 408.7 84.8 406.3 85.1 401.9 85.5 399.7 86.3 398.1 86.7 397.8 87.5 397.7 88.3 398.1 88.7 398.7 89 400.7 89.1 403.1 88.7 408.8 88.5 409.9 87.9 411.5 87.1 412.1M107.5 413.2 106.3 413.3 105.5 412.9 105.1 412.3 104.8 409.9 105 402.7 105.5 399.4 106 398.3 106.5 397.9 107.1 397.7 108.3 398 109 398.7 109.3 399.9 109.5 401.7 109.1 409.6 108.6 411.9 108.1 412.7 107.5 413.2M82.3 411.1 81.5 411.4 81.1 411.3 80.6 410.7 80.1 409.1 79.9 406.7 80.2 402.3 80.7 399.7 81.5 398.4 82.3 398.1 83.1 398.7 83.5 399.6 83.8 402.7 83.5 407.6 83.1 409.7 82.3 411.1M77.1 410.3 76.3 410.6 75.9 410.3 75.5 409.6 75.1 407.9 75.1 405.9 75.2 403.5 75.6 400.7 76.3 399.1 77.1 398.6 77.8 399.1 78.1 399.9 78.4 403.1 78.3 406.4 78.1 407.9 77.6 409.5 77.1 410.3M112.3 412.8 111.1 412.7 110.5 411.9 110.2 410.3 110.2 407.1 110.3 403.6 110.7 400.7 111.1 399.5 111.5 398.9 111.9 398.6 112.7 398.5 113.5 398.9 114.1 400.3 114.3 401.9 114.3 405.1 114.2 407.9 113.7 410.7 113.1 412.2 112.3 412.8M71.5 409.7 71.1 409.6 70.7 409.1 70.5 408.3 70.3 407.1 70.2 404.7 70.7 401 71.1 400 71.5 399.4 71.9 399.3 72.4 399.5 72.9 400.7 73.1 402.2 73.1 404.5 72.6 407.9 72.3 408.9 71.9 409.5 71.5 409.7M117.5 412.3 116.7 412.4 115.9 411.6 115.5 409.9 115.4 407.9 115.5 405.1 115.9 401.7 116.3 400.4 116.7 399.7 117.5 399.2 118.3 399.5 118.8 400.3 119.1 401.5 119.3 403.9 119.1 407.7 118.7 410.2 118.3 411.4 117.5 412.3M66.7 408.4 66.3 408.5 65.8 407.9 65.5 406.8 65.4 405.1 65.5 403.3 65.9 401.2 66.3 400.4 66.7 400.1 67.1 400.2 67.5 401.1 67.7 403.5 67.5 406.3 67.1 407.8 66.7 408.4M122.3 411.9 121.9 411.9 121.5 411.6 121.1 410.9 120.8 409.1 120.7 406.7 121.1 402.8 121.5 401.3 121.9 400.5 122.7 400 123.1 400.1 123.5 400.6 123.9 401.6 124.1 405.5 123.9 408.4 123.5 410.3 123.1 411.2 122.3 411.9M127.5 411.3 127.1 411.3 126.7 411 126.3 409.9 126.1 406.3 126.3 404 126.7 402.2 127.1 401.4 127.5 401 127.9 401 128.3 401.2 128.7 402.3 129 405.9 128.5 409.5 128 410.7 127.5 411.3M61.5 407 61 406.7 60.7 404.7 61 402.3 61.5 401.3 61.9 401.5 62.2 403.5 62 405.9 61.5 407M132.7 410.4 132.3 410.5 131.9 410.1 131.6 408.7 131.5 407.1 131.9 403.4 132.3 402.4 132.7 402.1 133.1 402.2 133.5 402.9 133.8 405.5 133.5 408.6 133.1 409.9 132.7 410.4M137.5 409.3 137.1 408.3 137 405.9 137.5 403.9 137.9 403.6 138.3 404.3 138.4 406.7 138.1 408.7 137.9 409.1 137.5 409.3M100.7 422.3 96.7 422.2 95.8 421.9 95.1 421.3 94.6 419.9 94.6 417.9 94.8 416.3 95.5 415.1 96.7 414.5 98.3 414.1 99.5 414.1 101.8 414.7 102.9 415.5 103.2 416.3 103.3 417.5 103.1 420.3 102.3 421.7 101.5 422.1 100.7 422.3M91.5 420.4 91.1 420.3 90.7 419.8 90.4 418.7 90.5 417.9 90.9 416.7 91.3 416.3 91.9 416.1 92.3 416.3 92.7 417 92.7 418.3 92.3 419.9 91.9 420.3 91.5 420.4M106.3 420.8 105.9 420.7 105.5 420.4 105.1 418.7 105.5 417 105.9 416.6 106.3 416.6 107.1 417 107.5 418.3 107.1 420.2 106.7 420.6 106.3 420.8M100.3 430.7 96.7 430.7 95.6 430.3 95.1 429.8 94.5 428.3 94.6 426.3 95.1 424.9 96.1 423.9 97.1 423.4 98.7 423.1 100.7 423.7 101.9 424.7 102.5 426.3 102.3 428.8 101.5 430.2 100.3 430.7M100.3 439.2 99.1 439.5 96.3 439.3 95.5 439.1 94.7 438.3 94.5 436.7 94.6 435.1 95.1 433.9 95.9 433 97.1 432.4 98.3 432.1 99.9 432.7 101.1 433.8 101.6 435.1 101.6 437.1 101.1 438.6 100.3 439.2M99.9 447.6 98.7 447.8 97.5 447.6 95.9 447.7 95.1 447.5 94.7 447.1 94.4 446.3 94.5 443.5 95.1 442.4 96.3 441.4 97.9 440.8 99.5 441.6 100.5 442.7 100.9 443.9 100.7 446.3 100.5 447.1 99.9 447.6M98.7 455.9 97.1 455.7 95.5 455.8 94.8 455.5 94.5 455.1 94.3 453.1 94.7 452 95.9 450.7 97.1 450.1 97.9 450.2 99.1 451.1 99.7 451.9 100 452.7 99.8 455.1 99.5 455.6 98.7 455.9M98.3 463.5 97.5 463.6 96.7 463.4 95.5 463.5 94.7 463.1 94.6 462.3 94.7 461.5 95.3 460.7 96.3 459.9 97.1 459.7 98 460.3 98.6 461.1 98.9 461.9 98.9 462.7 98.7 463.2 98.3 463.5" stroke="#002dff"/><path d="M101.9 368.4 101.5 368.6 100.7 368.3 99.9 367.6 99.5 366.9 99.3 365.9 99.5 365.1 100.3 364.3 102.7 364.3 103.4 364.7 103.7 365.1 103.8 365.9 103.5 367.1 102.8 367.9 101.9 368.4M101.9 377.6 101.1 377.8 100 377.5 98.9 376.7 98.4 375.9 98.2 374.7 98.4 373.5 98.7 372.9 99.5 372.3 100.3 372.1 102.7 372.3 103.5 372.7 103.9 373.4 104 374.7 103.8 375.9 103.1 376.8 101.9 377.6M101.9 386.8 100.7 387.1 99.5 386.8 98.4 386.3 97.6 385.5 97.2 384.3 97.2 382.7 97.7 381.5 98.4 380.7 99.5 380.4 102.3 380.5 103.1 380.8 103.8 381.5 104.2 383.1 103.9 385 103.1 386.1 101.9 386.8M102.3 395.9 100.7 396.2 99.5 396.1 97.9 395.8 96.7 395.1 96.2 393.9 96.2 391.9 96.7 389.9 97.4 389.1 98.7 388.6 101.9 388.7 103.2 389.1 103.9 389.8 104.3 391.5 104.2 393.9 103.5 395.3 102.3 395.9M101.9 413.6 99.9 413.7 96.7 413.5 95.5 412.9 94.9 411.9 94.7 410.6 94.7 407.1 95.1 400.7 95.5 398.7 95.9 397.9 96.3 397.5 97 397.1 98.7 396.9 102.3 397.1 103.5 397.5 103.9 397.9 104.3 398.8 104.5 401.1 104.4 407.1 103.9 411.2 103.5 412.4 103.1 413 101.9 413.6M92.3 412.4 91.1 412.2 90.3 411.2 89.9 409 89.9 405.2 90.3 401 90.7 399.4 91.5 398.1 91.9 397.9 92.7 397.8 93.5 398.1 94 399.1 94.3 400.8 94.3 403.5 93.9 409.2 93.5 411.1 93.1 411.8 92.3 412.4M107.1 412.8 105.9 412.7 105.3 411.9 105 410.7 105 407.9 105.1 403.5 105.5 400.2 105.9 399.1 106.3 398.6 106.7 398.3 107.5 398.2 108.4 398.7 109 399.9 109.3 401.9 109.3 404.3 109.1 408.1 108.7 410.5 107.9 412.3 107.1 412.8M87.1 411.3 86.3 411.2 85.5 410.2 85.1 408.2 85.1 405.1 85.5 401.5 85.9 399.8 86.7 398.7 87.5 398.5 88.3 399.1 88.7 400.2 88.9 404.3 88.7 407.1 88.3 409.5 87.9 410.5 87.1 411.3M82.3 409.9 81.5 410.2 81.1 410 80.7 409.3 80.3 407.5 80.3 405.9 80.4 403.5 80.8 401.1 81.5 399.6 82.3 399.3 82.7 399.5 83.1 400.3 83.5 403.5 83.1 407.9 82.7 409.3 82.3 409.9M112.3 412 111.5 412 111.1 411.8 110.7 411.1 110.4 409.5 110.3 407.5 110.7 401.9 111.1 400.5 111.5 399.8 112.3 399.3 113.1 399.5 113.7 400.3 114 401.5 114.1 403.9 113.9 407.9 113.6 409.9 113.1 411.2 112.3 412M76.7 408.9 76.3 408.8 75.8 407.9 75.5 404.7 76.1 401.5 76.7 400.4 77.1 400.3 77.5 400.6 77.9 401.8 78 404.7 77.5 407.8 77.1 408.6 76.7 408.9M117.5 411.1 117.1 411.3 116.7 411.2 116.3 410.7 115.9 409.5 115.7 407.1 115.9 403.9 116.3 401.9 116.7 401 117.5 400.4 118.1 400.7 118.6 401.5 118.9 404.7 118.6 408.7 118.3 409.9 117.5 411.1M71.5 407.1 71.1 406.3 71 404.3 71.2 402.7 71.5 402 71.9 401.8 72.3 402.5 72.4 404.7 72 406.7 71.5 407.1M122.7 410 122.3 410.3 121.9 410.2 121.5 409.5 121.2 406.7 121.5 403.5 121.9 402.3 122.3 401.8 122.7 401.7 123.1 402 123.5 403.1 123.7 405.1 123.5 407.6 123.1 409.3 122.7 410M127.5 408.8 127.1 408.6 126.8 406.7 127.1 404.3 127.5 403.5 127.9 403.6 128 403.9 128.3 405.5 128 407.9 127.5 408.8M100.7 421.9 97.1 421.9 96 421.5 95.5 421.1 95 419.9 94.9 417.9 95.1 416.3 96 415.1 97.5 414.6 99.5 414.4 101 414.7 101.9 415.1 102.7 415.8 103 416.7 103.1 417.9 102.7 420.3 101.9 421.4 100.7 421.9M100.7 429.9 99.5 430.2 97.1 430.1 96.2 429.9 95.5 429.3 95 427.9 95.1 426.3 95.5 425.1 96.3 424.3 97.1 423.9 98.7 423.5 100.1 423.9 101.3 424.7 101.9 425.9 102 427.5 101.6 429.1 100.7 429.9M99.5 438.4 96.7 438.4 95.9 438 95.4 437.5 95.2 436.3 95.4 434.7 96 433.9 97.1 433.1 98.3 432.8 99.1 433 99.9 433.5 100.7 434.6 101 435.9 100.8 437.1 100.3 437.9 99.5 438.4M98.7 446.3 96.3 446.2 95.5 445.5 95.4 444.3 95.7 443.5 96.4 442.7 97.5 442.1 97.9 442.1 99 442.7 99.8 443.9 99.9 444.7 99.7 445.5 99.5 445.9 98.7 446.3" stroke="#0085ff"/><path d="M101.1 376.8 100.3 376.5 99.7 375.9 99.4 375.1 99.5 374.3 100.3 373.5 101.9 373.5 102.7 374.1 102.8 375.1 102.3 376.1 101.1 376.8M101.5 386.4 100.7 386.5 99.6 386.3 98.7 385.8 98.2 385.1 97.9 384.3 97.9 382.9 98.3 381.9 99.1 381.3 99.9 381.1 101.9 381.2 102.7 381.5 103.3 382.3 103.6 383.5 103.3 384.7 102.7 385.6 101.5 386.4M101.1 395.9 99.5 395.9 98 395.5 97.3 395.1 96.8 394.3 96.5 392.7 96.7 391.1 97.3 389.9 98.3 389.2 99.5 389 101.9 389.1 103.1 389.7 103.7 390.7 104 392.7 103.5 394.6 102.5 395.5 101.1 395.9M102.3 413.1 100.3 413.5 97.1 413.3 95.8 412.7 95.1 411.6 94.8 408.3 95.1 401.8 95.5 399.4 95.9 398.4 96.3 397.9 97.1 397.4 99.1 397.1 102.3 397.4 103.5 398 104.1 399.1 104.3 400.3 104.4 403.1 104.3 406.4 103.9 410.3 103.2 412.3 102.3 413.1M92.7 411.5 92.3 411.7 91.5 411.7 90.7 410.9 90.3 409.5 90.1 406.7 90.3 402.7 90.7 400.6 91.5 398.9 91.9 398.6 92.7 398.4 93.5 398.9 93.9 399.7 94.1 402.7 93.9 407.9 93.5 410.1 93.1 411.1 92.7 411.5M107.1 412.1 106.3 412.1 105.5 411.4 105.1 409.8 105.1 407.9 105.1 405.2 105.5 401.3 106.2 399.5 106.7 399 107.1 398.9 108 399.1 108.7 400.2 109 401.9 109.1 403.9 109 406.7 108.6 409.5 107.9 411.4 107.1 412.1M87.1 410.2 86.7 410.2 86.3 410 85.8 409.1 85.5 407.5 85.4 405.1 85.6 403.1 86 401.1 86.7 399.9 87.5 399.6 87.9 399.9 88.3 400.7 88.6 404.3 88.3 407.9 87.9 409.2 87.1 410.2M112.3 410.9 111.9 411 111.5 410.9 111.1 410.4 110.7 409 110.6 407.1 110.7 404.3 111.1 402 111.5 401 112.3 400.4 112.7 400.4 113.1 400.8 113.5 401.7 113.8 404.7 113.5 408.3 113.1 409.7 112.3 410.9M81.9 408.4 81.5 408.3 81.1 407.7 80.8 405.5 81.1 402.7 81.5 401.6 81.9 401.2 82.3 401.2 82.7 401.8 83 404.3 82.7 406.9 82.3 408 81.9 408.4M117.5 409.3 117.1 409.5 116.7 409.2 116.3 408 116.2 406.7 116.3 404.8 116.7 403.1 117.1 402.4 117.5 402.2 117.9 402.5 118.1 403.1 118.4 405.1 118.2 407.5 117.9 408.6 117.5 409.3M100.3 421.5 97.1 421.4 96.3 421 95.6 420.3 95.2 418.7 95.3 417.1 95.8 415.9 96.7 415.1 98.1 414.7 99.8 414.7 101.2 415.1 102.3 416 102.6 416.7 102.7 417.9 102.4 419.9 101.5 421.1 100.3 421.5M99.5 429.5 97.1 429.4 96.3 428.9 95.9 428.3 95.7 427.1 95.9 425.9 96.4 425.1 97.5 424.3 98.7 424 99.6 424.3 100.7 425 101.2 425.9 101.4 427.1 101.1 428.3 100.5 429.1 99.5 429.5M98.7 437.1 97.1 437 96.4 436.3 96.4 435.5 96.7 434.7 97.1 434.3 97.9 433.9 98.3 433.8 99.1 434.3 99.8 435.5 99.5 436.7 98.7 437.1" stroke="#00ddfe"/><path d="M101.1 385.5 100.7 385.6 99.9 385.4 99.4 385.1 99 384.3 99 383.1 99.3 382.7 99.9 382.3 101.5 382.3 102.1 382.7 102.4 383.1 102.4 383.9 102.3 384.5 101.8 385.1 101.1 385.5M101.1 395.5 99.1 395.5 98.2 395.1 97.4 394.3 97 393.1 97.1 391.8 97.5 390.7 98.3 389.9 99.5 389.6 101.5 389.7 102.3 390 103.1 390.8 103.5 392.3 103.2 393.9 102.3 395.1 101.1 395.5M101.1 413.2 98.3 413.2 96.7 412.8 95.6 411.9 95.1 410.5 95 405.5 95.5 400.4 96.3 398.4 96.9 397.9 97.9 397.5 100.7 397.4 102.3 397.7 103.5 398.5 104 399.9 104.3 401.9 104.3 404.3 103.9 409.1 103.7 410.3 103.3 411.5 102.7 412.4 101.9 412.9 101.1 413.2M92.3 410.8 91.5 410.7 90.7 409.5 90.5 407.9 90.4 405.5 90.7 402.3 91.1 400.8 91.9 399.6 92.7 399.3 93.1 399.5 93.5 400 93.8 401.1 93.9 405.5 93.5 408.8 93.1 410 92.3 410.8M107.1 411.2 106.3 411.2 105.9 410.9 105.6 410.3 105.3 407.1 105.5 402.9 105.9 401.1 106.3 400.3 107.1 399.8 107.9 400.1 108.3 400.7 108.7 402.2 108.8 404.3 108.7 406.9 108.3 409.2 107.9 410.3 107.1 411.2M87.1 408.4 86.7 408.4 86.3 407.9 86 405.5 86.3 402.7 86.7 401.8 87.1 401.4 87.5 401.5 87.9 402.2 88.1 404.3 87.9 406.8 87.5 408 87.1 408.4M111.9 409.2 111.5 408.9 111.2 407.9 111.1 405.5 111.5 403.1 111.9 402.3 112.3 402.1 112.7 402.4 113.1 403.4 113.2 405.9 112.7 408.5 112.3 409.1 111.9 409.2M100.7 420.8 99.5 421 97.9 421 97 420.7 96.3 420.1 95.8 419.1 95.7 417.9 96 416.7 96.7 415.7 97.9 415.1 99.1 415 100.3 415.2 101.5 415.9 102.1 417.1 102.1 418.7 101.7 419.9 100.7 420.8M99.1 428.4 97.5 428.2 97.1 427.9 96.7 427.1 97.1 425.8 97.5 425.4 98.3 425 98.7 425 99.5 425.3 100.2 426.3 100.2 427.5 99.9 428 99.1 428.4" stroke="#40ffb7"/><path d="M101.5 394.7 99.9 395.1 98.8 394.7 98.3 394.3 97.9 393.5 97.8 392.3 98.1 391.5 98.7 390.7 99.5 390.4 100.7 390.4 101.8 390.7 102.3 391.2 102.7 392.3 102.7 393.1 102.3 394 101.5 394.7M101.1 412.8 98.3 412.8 96.7 412.4 95.8 411.5 95.3 409.9 95.1 405.9 95.7 400.7 96.1 399.5 96.7 398.6 97.5 398 98.3 397.8 100.7 397.7 102.3 398.1 103.4 399.1 103.9 400.7 104 405.1 103.9 407.4 103.5 409.9 102.7 411.8 101.9 412.5 101.1 412.8M91.9 409.5 91.4 409.1 91 407.9 90.8 406.3 90.9 404.3 91.5 401.6 91.9 401 92.3 400.7 92.7 400.7 93.1 401 93.5 402.2 93.5 406.5 93.1 408.4 92.7 409.1 92.3 409.5 91.9 409.5M106.7 410 106.3 409.8 105.9 409.1 105.6 405.9 106 402.7 106.3 401.7 106.7 401.2 107.1 401.1 107.7 401.5 108.1 402.3 108.3 403.5 108.4 405.5 107.9 408.5 107.5 409.4 107.1 409.8 106.7 410M100.3 420 99.5 420.2 98.3 420.2 97.5 419.9 97 419.5 96.6 418.7 96.5 417.5 96.8 416.7 97.5 416 99.1 415.5 100.4 415.9 101.1 416.6 101.4 417.5 101.4 418.3 101.1 419.2 100.3 420" stroke="#87ff70"/><path d="M100.7 393.7 99.9 393.8 99.4 393.5 99.2 393.1 99.4 392.3 99.9 391.9 100.7 391.9 101.1 392.3 101.2 393.1 100.7 393.7M100.7 412.4 98.3 412.4 96.9 411.9 95.9 410.7 95.5 409 95.4 404.7 95.9 401.1 96.3 400.1 96.9 399.1 97.5 398.6 98.7 398.2 100.7 398.2 102.3 398.7 103.1 399.6 103.7 401.5 103.8 405.5 103.5 408.4 103.1 409.9 102.3 411.5 101.5 412.1 100.7 412.4M92.3 407.1 91.9 406.8 91.7 405.5 91.9 403.7 92.3 403.1 92.7 403.3 92.9 404.7 92.7 406.5 92.3 407.1M106.7 407.5 106.3 406.7 106.3 405 106.7 403.7 107.1 403.5 107.5 404.4 107.5 405.9 107.1 407.3 106.7 407.5M99.1 418.7 98.3 418.5 97.9 417.9 98.2 417.1 99.1 416.7 99.8 417.1 100 417.9 99.9 418.3 99.1 418.7" stroke="#ceff29"/><path d="M99.9 411.9 97.9 411.7 96.7 410.8 95.9 409.1 95.7 406.7 95.9 403.2 96.7 400.4 97.9 399.1 99.5 398.7 101.1 398.8 102.3 399.5 103.1 400.9 103.5 403.5 103.3 407.1 102.7 409.8 102.2 410.7 101.5 411.4 99.9 411.9" stroke="#ffd300"/><path d="M99.9 411.2 98.3 411 97.1 410.1 96.4 408.7 96.2 406.7 96.3 403.7 97.1 401.1 98.1 399.9 99.5 399.4 101.1 399.7 102.3 400.7 102.9 402.3 103.1 404.3 102.9 407.1 102.3 409.2 101.9 409.9 101.1 410.7 99.9 411.2" stroke="#ff8200"/><path d="M100.3 410 99.1 410.1 97.9 409.5 97.1 408.3 96.8 406.7 96.9 404.3 97.4 402.3 98.3 401 99.5 400.5 100.7 400.7 101.5 401.3 102.1 402.3 102.4 403.9 102.4 405.9 102 407.9 101.4 409.1 100.3 410" stroke="#ff0000" stroke-width="1.9"/></g><rect x="36.90" y="344.10" width="128.70" height="119.20" fill="none" stroke="#b4b4b4" stroke-width="1"/><path d="M69.1 463.3V461.8M69.1 344.1V345.6M101.2 463.3V461.8M101.2 344.1V345.6M133.4 463.3V461.8M133.4 344.1V345.6M36.9 443.4H38.4M165.6 443.4H164.1M36.9 423.6H38.4M165.6 423.6H164.1M36.9 403.7H38.4M165.6 403.7H164.1M36.9 383.8H38.4M165.6 383.8H164.1M36.9 364.0H38.4M165.6 364.0H164.1" stroke="#b4b4b4" stroke-width="0.7" fill="none"/><text x="35.60" y="473.20" text-anchor="middle" textLength="7.02" lengthAdjust="spacingAndGlyphs" style="font-family:'Liberation Sans',sans-serif;font-weight:bold;stroke:#161616;stroke-width:0.4px;font-size:8.5px;" fill="#161616">-2</text><text x="67.77" y="473.20" text-anchor="middle" textLength="7.02" lengthAdjust="spacingAndGlyphs" style="font-family:'Liberation Sans',sans-serif;font-weight:bold;stroke:#161616;stroke-width:0.4px;font-size:8.5px;" fill="#161616">-1</text><text x="101.25" y="473.20" text-anchor="middle" textLength="4.39" lengthAdjust="spacingAndGlyphs" style="font-family:'Liberation Sans',sans-serif;font-weight:bold;stroke:#161616;stroke-width:0.4px;font-size:8.5px;" fill="#161616">0</text><text x="133.42" y="473.20" text-anchor="middle" textLength="4.39" lengthAdjust="spacingAndGlyphs" style="font-family:'Liberation Sans',sans-serif;font-weight:bold;stroke:#161616;stroke-width:0.4px;font-size:8.5px;" fill="#161616">1</text><text x="165.60" y="473.20" text-anchor="middle" textLength="4.39" lengthAdjust="spacingAndGlyphs" style="font-family:'Liberation Sans',sans-serif;font-weight:bold;stroke:#161616;stroke-width:0.4px;font-size:8.5px;" fill="#161616">2</text><text x="33.90" y="466.20" text-anchor="end" textLength="7.02" lengthAdjust="spacingAndGlyphs" style="font-family:'Liberation Sans',sans-serif;font-weight:bold;stroke:#161616;stroke-width:0.4px;font-size:8.5px;" fill="#161616">-3</text><text x="33.90" y="446.33" text-anchor="end" textLength="7.02" lengthAdjust="spacingAndGlyphs" style="font-family:'Liberation Sans',sans-serif;font-weight:bold;stroke:#161616;stroke-width:0.4px;font-size:8.5px;" fill="#161616">-2</text><text x="33.90" y="426.47" text-anchor="end" textLength="7.02" lengthAdjust="spacingAndGlyphs" style="font-family:'Liberation Sans',sans-serif;font-weight:bold;stroke:#161616;stroke-width:0.4px;font-size:8.5px;" fill="#161616">-1</text><text x="33.90" y="406.60" text-anchor="end" textLength="4.39" lengthAdjust="spacingAndGlyphs" style="font-family:'Liberation Sans',sans-serif;font-weight:bold;stroke:#161616;stroke-width:0.4px;font-size:8.5px;" fill="#161616">0</text><text x="33.90" y="386.73" text-anchor="end" textLength="4.39" lengthAdjust="spacingAndGlyphs" style="font-family:'Liberation Sans',sans-serif;font-weight:bold;stroke:#161616;stroke-width:0.4px;font-size:8.5px;" fill="#161616">1</text><text x="33.90" y="366.87" text-anchor="end" textLength="4.39" lengthAdjust="spacingAndGlyphs" style="font-family:'Liberation Sans',sans-serif;font-weight:bold;stroke:#161616;stroke-width:0.4px;font-size:8.5px;" fill="#161616">2</text><text x="33.90" y="347.00" text-anchor="end" textLength="4.39" lengthAdjust="spacingAndGlyphs" style="font-family:'Liberation Sans',sans-serif;font-weight:bold;stroke:#161616;stroke-width:0.4px;font-size:8.5px;" fill="#161616">3</text><text x="100.90" y="484.20" text-anchor="middle" textLength="42.5" lengthAdjust="spacingAndGlyphs" style="font-family:'Liberation Sans',sans-serif;font-weight:bold;stroke:#161616;stroke-width:0.4px;font-size:8.2px;" fill="#161616">Range / m</text><text x="21.00" y="404.90" text-anchor="middle" textLength="48.3" lengthAdjust="spacingAndGlyphs" style="font-family:'Liberation Sans',sans-serif;font-weight:bold;stroke:#161616;stroke-width:0.4px;font-size:7.9px;" fill="#161616" transform="rotate(-90 21 404.9)">Azimuth / m</text><g clip-path="url(#cb)"><path d="M220.0 131.7 222.2 131.7 223.0 123.2 223.4 121.1 223.6 120.5 223.9 120.3 224.3 121.1 224.7 123.2 225.5 131.7 227.9 131.7 228.7 121.3 229.2 118.3 229.4 117.6 229.7 117.3 230.0 117.6 230.2 118.3 230.6 120.6 231.5 131.7 233.6 131.7 234.0 124.5 234.5 118.5 235.0 115.2 235.2 114.5 235.5 114.1 235.8 114.3 236.1 115.3 236.6 118.8 237.0 123.7 237.4 131.3 237.5 131.7 239.3 131.7 239.7 123.4 240.2 116.5 240.8 112.0 241.1 110.9 241.4 110.6 241.7 111.0 242.0 112.1 242.5 115.9 243.0 122.8 243.4 131.7 245.0 131.7 245.5 120.4 246.0 113.2 246.6 108.4 246.9 107.2 247.2 106.8 247.5 107.1 247.8 108.1 248.4 112.6 248.9 120.0 249.4 131.7 250.7 131.7 251.3 117.1 251.8 109.5 252.4 104.4 252.7 103.2 252.9 102.7 253.1 102.6 253.3 102.7 253.5 103.2 253.8 104.6 254.4 110.2 254.9 119.0 255.3 131.5 255.4 131.7 256.4 131.7 256.5 131.3 257.0 115.4 257.5 106.6 258.2 99.9 258.5 98.5 258.9 97.7 259.1 97.8 259.3 98.2 259.6 99.5 260.3 106.0 260.8 115.4 261.3 131.7 262.2 131.7 262.7 113.5 263.2 103.2 263.6 98.0 264.0 94.6 264.4 92.7 264.6 92.2 264.8 92.0 265.0 92.2 265.2 92.6 265.5 94.0 266.1 99.5 266.8 113.7 267.2 131.7 267.9 131.7 268.4 111.2 269.0 97.2 269.4 91.7 269.8 88.1 270.2 85.9 270.4 85.3 270.7 85.0 270.9 85.1 271.1 85.7 271.4 87.1 272.1 94.3 272.7 108.0 273.2 131.7 273.7 131.7 274.1 108.0 274.7 91.2 275.1 84.7 275.6 79.5 276.1 76.5 276.3 75.9 276.6 75.6 276.9 76.0 277.1 76.6 277.5 79.1 278.2 88.6 278.7 103.5 279.1 131.7 279.4 131.7 279.9 98.0 280.5 79.9 281.0 71.3 281.5 65.8 282.0 62.6 282.3 61.6 282.6 61.2 282.9 61.6 283.1 62.3 283.6 65.8 284.0 71.2 284.3 77.8 284.8 100.9 285.0 128.0 285.1 131.7 285.2 131.7 285.6 84.9 286.1 64.2 286.7 49.8 287.6 36.5 288.6 27.5 289.2 23.9 289.8 21.6 290.4 20.2 290.7 19.9 291.0 19.8 291.3 20.0 291.6 20.4 292.2 21.9 292.8 24.4 293.4 28.2 294.4 37.7 295.2 49.8 295.8 64.2 296.3 84.9 296.7 131.7 296.8 131.7 296.9 128.0 297.1 100.9 297.6 77.8 297.9 71.2 298.3 65.8 298.8 62.3 299.0 61.6 299.3 61.2 299.6 61.6 299.9 62.6 300.4 65.8 300.9 71.3 301.4 79.9 302.0 98.0 302.5 131.7 302.8 131.7 303.2 103.5 303.7 88.6 304.4 79.1 304.8 76.6 305.0 76.0 305.3 75.6 305.6 75.9 305.8 76.5 306.3 79.5 306.8 84.7 307.2 91.2 307.8 108.0 308.2 131.7 308.7 131.7 309.2 108.0 309.8 94.3 310.5 87.1 310.8 85.7 311.0 85.1 311.2 85.0 311.5 85.3 311.7 85.9 312.1 88.1 312.5 91.7 312.9 97.2 313.5 111.2 314.0 131.7 314.7 131.7 315.1 113.7 315.8 99.5 316.4 94.0 316.7 92.6 316.9 92.2 317.1 92.0 317.3 92.2 317.5 92.7 317.9 94.6 318.3 98.0 318.7 103.2 319.2 113.5 319.7 131.7 320.6 131.7 321.1 115.4 321.6 106.0 322.3 99.5 322.6 98.2 322.8 97.8 323.0 97.7 323.4 98.5 323.7 99.9 324.4 106.6 324.9 115.4 325.4 131.3 325.5 131.7 326.5 131.7 326.6 131.5 327.0 119.0 327.5 110.2 328.1 104.6 328.4 103.2 328.6 102.7 328.8 102.6 329.0 102.7 329.2 103.2 329.5 104.4 330.1 109.5 330.6 117.1 331.2 131.7 332.5 131.7 333.0 120.0 333.5 112.6 334.1 108.1 334.4 107.1 334.7 106.8 335.0 107.2 335.3 108.4 335.9 113.2 336.4 120.4 336.9 131.7 338.5 131.7 338.9 122.8 339.4 115.9 339.9 112.1 340.2 111.0 340.5 110.6 340.8 110.9 341.1 112.0 341.7 116.5 342.2 123.4 342.6 131.7 344.4 131.7 344.5 131.3 344.9 123.7 345.3 118.8 345.8 115.3 346.1 114.3 346.4 114.1 346.7 114.5 346.9 115.2 347.4 118.5 347.9 124.5 348.3 131.7 350.4 131.7 351.3 120.6 351.7 118.3 351.9 117.6 352.2 117.3 352.5 117.6 352.7 118.3 353.2 121.3 354.0 131.7 356.4 131.7 357.2 123.2 357.6 121.1 358.0 120.3 358.3 120.5 358.5 121.1 358.9 123.2 359.7 131.7 362.5 131.7 363.2 125.1 363.5 123.8 363.7 123.3 363.9 123.2 364.1 123.3 364.3 123.8 364.6 125.2 365.3 131.7 365.9 131.7" fill="none" stroke="#0000ff" stroke-width="1.75" stroke-linejoin="round"/></g><rect x="224.00" y="16.80" width="138.00" height="111.90" fill="none" stroke="#b4b4b4" stroke-width="1"/><path d="M256.5 128.7V127.2M256.5 16.8V18.3M293.1 128.7V127.2M293.1 16.8V18.3M329.7 128.7V127.2M329.7 16.8V18.3M224.0 19.4H225.5M362.0 19.4H360.5M224.0 50.6H225.5M362.0 50.6H360.5M224.0 81.8H225.5M362.0 81.8H360.5M224.0 113.0H225.5M362.0 113.0H360.5" stroke="#b4b4b4" stroke-width="0.7" fill="none"/><text x="255.20" y="137.80" text-anchor="middle" textLength="7.02" lengthAdjust="spacingAndGlyphs" style="font-family:'Liberation Sans',sans-serif;font-weight:bold;stroke:#161616;stroke-width:0.4px;font-size:8.5px;" fill="#161616">-1</text><text x="293.10" y="137.80" text-anchor="middle" textLength="4.39" lengthAdjust="spacingAndGlyphs" style="font-family:'Liberation Sans',sans-serif;font-weight:bold;stroke:#161616;stroke-width:0.4px;font-size:8.5px;" fill="#161616">0</text><text x="329.70" y="137.80" text-anchor="middle" textLength="4.39" lengthAdjust="spacingAndGlyphs" style="font-family:'Liberation Sans',sans-serif;font-weight:bold;stroke:#161616;stroke-width:0.4px;font-size:8.5px;" fill="#161616">1</text><text x="221.20" y="22.25" text-anchor="end" textLength="4.39" lengthAdjust="spacingAndGlyphs" style="font-family:'Liberation Sans',sans-serif;font-weight:bold;stroke:#161616;stroke-width:0.4px;font-size:8.5px;" fill="#161616">0</text><text x="221.20" y="53.45" text-anchor="end" textLength="11.42" lengthAdjust="spacingAndGlyphs" style="font-family:'Liberation Sans',sans-serif;font-weight:bold;stroke:#161616;stroke-width:0.4px;font-size:8.5px;" fill="#161616">-10</text><text x="221.20" y="84.65" text-anchor="end" textLength="11.42" lengthAdjust="spacingAndGlyphs" style="font-family:'Liberation Sans',sans-serif;font-weight:bold;stroke:#161616;stroke-width:0.4px;font-size:8.5px;" fill="#161616">-20</text><text x="221.20" y="115.85" text-anchor="end" textLength="11.42" lengthAdjust="spacingAndGlyphs" style="font-family:'Liberation Sans',sans-serif;font-weight:bold;stroke:#161616;stroke-width:0.4px;font-size:8.5px;" fill="#161616">-30</text><text x="292.20" y="149.10" text-anchor="middle" textLength="75.2" lengthAdjust="spacingAndGlyphs" style="font-family:'Liberation Sans',sans-serif;font-weight:bold;stroke:#161616;stroke-width:0.4px;font-size:8.2px;" fill="#161616">Range Samples/ m</text><text x="201.80" y="73.40" text-anchor="middle" textLength="56.3" lengthAdjust="spacingAndGlyphs" style="font-family:'Liberation Sans',sans-serif;font-weight:bold;stroke:#161616;stroke-width:0.4px;font-size:7.7px;" fill="#161616" transform="rotate(-90 201.8 73.4)">Magnitude/ dB</text><text x="292.00" y="10.20" text-anchor="middle" textLength="47.5" lengthAdjust="spacingAndGlyphs" style="font-family:'Liberation Sans',sans-serif;font-weight:bold;stroke:#161616;stroke-width:0.4px;font-size:8.2px;" fill="#161616">Range Slice</text><g clip-path="url(#cc)"><path d="M411.2 130.5 413.8 130.5 414.8 122.6 415.3 120.6 415.5 120.1 415.8 119.9 416.1 120.0 416.3 120.4 416.8 122.4 417.3 125.9 417.7 130.3 417.8 130.5 420.7 130.5 421.3 122.7 421.8 118.3 422.4 115.2 422.7 114.4 423.1 114.0 423.4 114.3 423.7 115.0 424.3 118.0 424.8 122.6 425.4 130.5 427.6 130.5 428.3 119.7 428.9 113.5 429.6 109.4 429.9 108.5 430.3 108.0 430.5 108.1 430.7 108.3 431.1 109.5 431.8 114.0 432.3 119.8 432.9 130.5 434.6 130.5 434.7 130.1 435.3 117.1 435.9 109.5 436.7 103.8 437.1 102.3 437.3 101.9 437.6 101.7 438.0 102.1 438.4 103.3 438.8 105.6 439.2 109.0 439.8 117.3 440.4 130.5 441.7 130.5 442.3 115.0 443.0 104.3 443.4 100.4 443.9 97.1 444.4 95.3 444.6 94.9 444.9 94.7 445.2 95.0 445.4 95.4 445.8 97.0 446.6 103.5 447.2 113.1 447.8 130.5 448.8 130.5 449.4 110.7 450.1 98.4 450.6 93.1 451.1 89.6 451.6 87.5 451.9 86.9 452.2 86.7 452.5 87.0 452.7 87.4 453.1 89.0 453.5 91.7 453.9 95.7 454.6 108.1 455.2 130.5 455.9 130.5 456.4 108.4 457.2 91.2 457.7 85.0 458.3 80.2 458.9 77.5 459.2 76.8 459.5 76.6 459.8 76.9 460.0 77.3 460.5 79.4 461.0 83.3 461.4 88.2 462.1 104.3 462.6 130.5 463.0 130.5 463.5 101.6 464.3 81.0 464.9 72.5 465.5 67.0 466.2 63.2 466.6 62.2 466.9 61.9 467.2 62.1 467.5 62.7 468.1 65.8 468.6 70.7 469.0 77.2 469.5 92.2 469.9 125.4 470.0 130.5 470.1 130.5 470.7 83.3 471.2 66.6 472.0 50.8 473.0 38.5 473.6 33.3 474.3 28.7 475.0 25.2 475.8 22.5 476.5 21.1 476.9 20.7 477.3 20.6 477.7 20.7 478.1 21.1 478.8 22.5 479.6 25.2 480.3 28.7 481.0 33.3 481.6 38.5 482.6 50.8 483.4 66.6 483.9 83.3 484.5 130.5 484.6 130.5 484.7 125.4 485.1 92.2 485.6 77.2 486.0 70.7 486.5 65.8 487.1 62.7 487.4 62.1 487.7 61.9 488.0 62.2 488.4 63.2 489.1 67.0 489.7 72.5 490.3 81.0 491.1 101.6 491.6 130.5 492.0 130.5 492.5 104.3 493.2 88.2 493.6 83.3 494.1 79.4 494.6 77.3 494.8 76.9 495.1 76.6 495.4 76.8 495.7 77.5 496.3 80.2 496.9 85.0 497.4 91.2 498.2 108.4 498.7 130.5 499.4 130.5 500.0 108.1 500.7 95.7 501.1 91.7 501.5 89.0 501.9 87.4 502.1 87.0 502.4 86.7 502.7 86.9 503.0 87.5 503.5 89.6 504.0 93.1 504.5 98.4 505.2 110.7 505.8 130.5 506.8 130.5 507.4 113.1 508.0 103.5 508.8 97.0 509.2 95.4 509.4 95.0 509.7 94.7 510.0 94.9 510.2 95.3 510.7 97.1 511.2 100.4 511.6 104.3 512.3 115.0 512.9 130.5 514.2 130.5 514.8 117.3 515.4 109.0 515.8 105.6 516.2 103.3 516.6 102.1 517.0 101.7 517.3 101.9 517.5 102.3 517.9 103.8 518.7 109.5 519.3 117.1 519.9 130.1 520.0 130.5 521.7 130.5 522.3 119.8 522.8 114.0 523.5 109.5 523.9 108.3 524.1 108.1 524.3 108.0 524.7 108.5 525.0 109.4 525.7 113.5 526.3 119.7 527.0 130.5 529.2 130.5 529.8 122.6 530.3 118.0 530.9 115.0 531.2 114.3 531.5 114.0 531.9 114.4 532.2 115.2 532.8 118.3 533.3 122.7 533.9 130.5 536.8 130.5 536.9 130.3 537.3 125.9 537.8 122.4 538.3 120.4 538.5 120.0 538.8 119.9 539.1 120.1 539.3 120.6 539.8 122.6 540.8 130.5 544.2 130.5" fill="none" stroke="#ff0000" stroke-width="1.75" stroke-linejoin="round"/></g><rect x="415.20" y="18.50" width="125.10" height="109.00" fill="none" stroke="#b4b4b4" stroke-width="1"/><path d="M446.9 127.5V126.0M446.9 18.5V20.0M479.2 127.5V126.0M479.2 18.5V20.0M511.5 127.5V126.0M511.5 18.5V20.0M415.2 20.6H416.7M540.3 20.6H538.8M415.2 51.4H416.7M540.3 51.4H538.8M415.2 82.2H416.7M540.3 82.2H538.8M415.2 113.0H416.7M540.3 113.0H538.8" stroke="#b4b4b4" stroke-width="0.7" fill="none"/><text x="445.60" y="137.30" text-anchor="middle" textLength="7.02" lengthAdjust="spacingAndGlyphs" style="font-family:'Liberation Sans',sans-serif;font-weight:bold;stroke:#161616;stroke-width:0.4px;font-size:8.5px;" fill="#161616">-2</text><text x="479.20" y="137.30" text-anchor="middle" textLength="4.39" lengthAdjust="spacingAndGlyphs" style="font-family:'Liberation Sans',sans-serif;font-weight:bold;stroke:#161616;stroke-width:0.4px;font-size:8.5px;" fill="#161616">0</text><text x="511.50" y="137.30" text-anchor="middle" textLength="4.39" lengthAdjust="spacingAndGlyphs" style="font-family:'Liberation Sans',sans-serif;font-weight:bold;stroke:#161616;stroke-width:0.4px;font-size:8.5px;" fill="#161616">2</text><text x="413.20" y="23.45" text-anchor="end" textLength="4.39" lengthAdjust="spacingAndGlyphs" style="font-family:'Liberation Sans',sans-serif;font-weight:bold;stroke:#161616;stroke-width:0.4px;font-size:8.5px;" fill="#161616">0</text><text x="413.20" y="54.25" text-anchor="end" textLength="11.42" lengthAdjust="spacingAndGlyphs" style="font-family:'Liberation Sans',sans-serif;font-weight:bold;stroke:#161616;stroke-width:0.4px;font-size:8.5px;" fill="#161616">-10</text><text x="413.20" y="85.05" text-anchor="end" textLength="11.42" lengthAdjust="spacingAndGlyphs" style="font-family:'Liberation Sans',sans-serif;font-weight:bold;stroke:#161616;stroke-width:0.4px;font-size:8.5px;" fill="#161616">-20</text><text x="413.20" y="115.85" text-anchor="end" textLength="11.42" lengthAdjust="spacingAndGlyphs" style="font-family:'Liberation Sans',sans-serif;font-weight:bold;stroke:#161616;stroke-width:0.4px;font-size:8.5px;" fill="#161616">-30</text><text x="476.70" y="147.80" text-anchor="middle" textLength="78" lengthAdjust="spacingAndGlyphs" style="font-family:'Liberation Sans',sans-serif;font-weight:bold;stroke:#161616;stroke-width:0.4px;font-size:8.2px;" fill="#161616">Azimuth Samples/ m</text><text x="395.30" y="73.40" text-anchor="middle" textLength="54" lengthAdjust="spacingAndGlyphs" style="font-family:'Liberation Sans',sans-serif;font-weight:bold;stroke:#161616;stroke-width:0.4px;font-size:7.7px;" fill="#161616" transform="rotate(-90 395.3 73.4)">Magnitude/ dB</text><text x="477.70" y="11.50" text-anchor="middle" textLength="52.2" lengthAdjust="spacingAndGlyphs" style="font-family:'Liberation Sans',sans-serif;font-weight:bold;stroke:#161616;stroke-width:0.4px;font-size:8.2px;" fill="#161616">Azimuth Slice</text><g clip-path="url(#ce)"><path d="M220.4 301.9 222.0 301.9 222.4 296.2 222.8 292.5 223.2 290.3 223.4 289.8 223.7 289.5 224.1 290.3 224.5 292.5 225.3 301.9 227.6 301.9 228.5 290.6 229.0 287.4 229.2 286.8 229.5 286.4 229.8 286.8 230.0 287.5 230.5 290.7 231.3 301.9 233.3 301.9 234.3 287.7 234.8 284.4 235.0 283.6 235.3 283.2 235.6 283.4 235.9 284.4 236.4 288.0 236.8 292.9 237.3 301.9 239.0 301.9 239.1 301.7 239.6 290.9 240.1 284.6 240.6 281.0 240.9 280.0 241.2 279.7 241.5 280.0 241.8 281.2 242.3 285.0 242.8 292.0 243.2 301.5 243.3 301.9 244.8 301.9 245.2 291.6 245.7 283.4 246.3 278.0 246.6 276.6 247.0 275.8 247.2 275.9 247.4 276.3 247.7 277.6 248.3 282.9 248.8 291.3 249.2 301.9 250.5 301.9 251.0 288.3 251.5 279.8 252.2 273.4 252.5 272.1 252.7 271.6 252.9 271.5 253.1 271.7 253.3 272.2 253.6 273.6 254.2 279.2 254.7 288.2 255.2 301.9 256.2 301.9 256.8 284.5 257.3 275.6 258.0 268.8 258.3 267.4 258.7 266.6 258.9 266.7 259.1 267.1 259.4 268.4 260.1 275.0 260.6 284.5 261.1 301.9 262.0 301.9 262.4 285.5 263.0 272.1 263.4 266.8 263.8 263.4 264.2 261.4 264.4 260.9 264.6 260.8 264.8 260.9 265.0 261.4 265.3 262.8 265.9 268.4 266.6 282.8 267.0 301.2 267.1 301.9 267.7 301.9 268.2 280.2 268.8 266.0 269.2 260.4 269.6 256.7 270.0 254.5 270.2 253.9 270.5 253.6 270.7 253.8 270.9 254.3 271.2 255.8 271.9 263.1 272.5 277.0 273.0 301.9 273.5 301.9 273.9 277.0 274.5 260.0 274.9 253.4 275.4 248.0 275.9 245.0 276.1 244.4 276.4 244.1 276.7 244.5 276.9 245.1 277.3 247.7 278.0 257.3 278.6 277.4 278.9 301.9 279.2 301.9 279.5 277.6 279.9 259.2 280.5 244.5 281.2 235.1 281.8 230.9 282.1 229.8 282.4 229.5 282.7 229.9 282.9 230.5 283.4 234.1 283.8 239.5 284.1 246.0 284.5 261.4 284.9 292.6 285.6 243.2 286.0 229.5 286.6 216.0 287.5 203.2 288.5 194.5 289.0 191.6 289.6 189.2 290.2 187.8 290.5 187.5 290.8 187.4 291.1 187.6 291.4 188.0 292.0 189.5 292.6 192.1 293.1 195.2 294.1 204.4 294.9 216.0 295.5 229.5 296.0 247.7 296.6 294.8 297.0 261.6 297.4 246.1 297.7 239.5 298.1 234.1 298.6 230.5 298.8 229.9 299.1 229.5 299.4 229.8 299.7 230.9 300.2 234.2 300.7 239.7 301.2 248.4 301.9 271.7 302.3 301.9 302.6 301.9 302.9 277.4 303.5 257.3 304.2 247.7 304.6 245.1 304.8 244.5 305.1 244.1 305.4 244.4 305.6 245.0 306.1 248.0 306.6 253.4 307.0 260.0 307.6 277.0 308.0 301.9 308.5 301.9 309.0 277.0 309.6 263.1 310.3 255.8 310.6 254.3 310.8 253.8 311.0 253.6 311.3 253.9 311.5 254.5 311.9 256.7 312.3 260.4 312.7 266.0 313.3 280.2 313.8 301.9 314.4 301.9 314.5 301.2 314.9 282.8 315.6 268.4 316.2 262.8 316.5 261.4 316.7 260.9 316.9 260.8 317.1 260.9 317.3 261.4 317.7 263.4 318.1 266.8 318.5 272.1 319.1 285.5 319.5 301.9 320.4 301.9 320.9 284.5 321.4 275.0 322.1 268.4 322.4 267.1 322.6 266.7 322.8 266.6 323.2 267.4 323.5 268.8 324.2 275.6 324.7 284.5 325.3 301.9 326.3 301.9 326.8 288.2 327.3 279.2 327.9 273.6 328.2 272.2 328.4 271.7 328.6 271.5 328.8 271.6 329.0 272.1 329.3 273.4 330.0 279.8 330.5 288.3 331.0 301.9 332.3 301.9 332.7 291.3 333.2 282.9 333.8 277.6 334.1 276.3 334.3 275.9 334.5 275.8 334.9 276.6 335.2 278.0 335.8 283.4 336.3 291.6 336.7 301.9 338.2 301.9 338.3 301.5 338.7 292.0 339.2 285.0 339.7 281.2 340.0 280.0 340.3 279.7 340.6 280.0 340.9 281.0 341.4 284.6 341.9 290.9 342.4 301.7 342.5 301.9 344.2 301.9 344.7 292.9 345.1 288.0 345.6 284.4 345.9 283.4 346.2 283.2 346.5 283.6 346.7 284.4 347.2 287.7 348.2 301.9 350.2 301.9 351.0 290.7 351.5 287.5 351.7 286.8 352.0 286.4 352.3 286.8 352.5 287.4 353.0 290.6 353.9 301.9 356.2 301.9 357.0 292.5 357.4 290.3 357.8 289.5 358.1 289.8 358.3 290.3 358.7 292.5 359.1 296.2 359.5 301.9 362.2 301.9 362.9 295.0 363.3 293.0 363.5 292.6 363.7 292.4 363.9 292.6 364.1 293.1 364.4 294.5 365.2 301.9 366.2 301.9" fill="none" stroke="#0000ff" stroke-width="1.75" stroke-linejoin="round"/></g><rect x="224.40" y="184.40" width="137.90" height="114.50" fill="none" stroke="#b4b4b4" stroke-width="1"/><path d="M256.5 298.9V297.4M256.5 184.4V185.9M293.0 298.9V297.4M293.0 184.4V185.9M329.5 298.9V297.4M329.5 184.4V185.9M224.4 188.0H225.9M362.3 188.0H360.8M224.4 219.5H225.9M362.3 219.5H360.8M224.4 251.0H225.9M362.3 251.0H360.8M224.4 282.5H225.9M362.3 282.5H360.8" stroke="#b4b4b4" stroke-width="0.7" fill="none"/><text x="255.20" y="308.80" text-anchor="middle" textLength="7.02" lengthAdjust="spacingAndGlyphs" style="font-family:'Liberation Sans',sans-serif;font-weight:bold;stroke:#161616;stroke-width:0.4px;font-size:8.5px;" fill="#161616">-1</text><text x="293.00" y="308.80" text-anchor="middle" textLength="4.39" lengthAdjust="spacingAndGlyphs" style="font-family:'Liberation Sans',sans-serif;font-weight:bold;stroke:#161616;stroke-width:0.4px;font-size:8.5px;" fill="#161616">0</text><text x="329.50" y="308.80" text-anchor="middle" textLength="4.39" lengthAdjust="spacingAndGlyphs" style="font-family:'Liberation Sans',sans-serif;font-weight:bold;stroke:#161616;stroke-width:0.4px;font-size:8.5px;" fill="#161616">1</text><text x="221.60" y="190.85" text-anchor="end" textLength="4.39" lengthAdjust="spacingAndGlyphs" style="font-family:'Liberation Sans',sans-serif;font-weight:bold;stroke:#161616;stroke-width:0.4px;font-size:8.5px;" fill="#161616">0</text><text x="221.60" y="222.35" text-anchor="end" textLength="11.42" lengthAdjust="spacingAndGlyphs" style="font-family:'Liberation Sans',sans-serif;font-weight:bold;stroke:#161616;stroke-width:0.4px;font-size:8.5px;" fill="#161616">-10</text><text x="221.60" y="253.85" text-anchor="end" textLength="11.42" lengthAdjust="spacingAndGlyphs" style="font-family:'Liberation Sans',sans-serif;font-weight:bold;stroke:#161616;stroke-width:0.4px;font-size:8.5px;" fill="#161616">-20</text><text x="221.60" y="285.35" text-anchor="end" textLength="11.42" lengthAdjust="spacingAndGlyphs" style="font-family:'Liberation Sans',sans-serif;font-weight:bold;stroke:#161616;stroke-width:0.4px;font-size:8.5px;" fill="#161616">-30</text><text x="291.50" y="318.50" text-anchor="middle" textLength="74.4" lengthAdjust="spacingAndGlyphs" style="font-family:'Liberation Sans',sans-serif;font-weight:bold;stroke:#161616;stroke-width:0.4px;font-size:8.2px;" fill="#161616">Range Samples/ m</text><text x="201.80" y="242.80" text-anchor="middle" textLength="56.3" lengthAdjust="spacingAndGlyphs" style="font-family:'Liberation Sans',sans-serif;font-weight:bold;stroke:#161616;stroke-width:0.4px;font-size:7.7px;" fill="#161616" transform="rotate(-90 201.8 242.8)">Magnitude/ dB</text><text x="292.50" y="177.80" text-anchor="middle" textLength="48.3" lengthAdjust="spacingAndGlyphs" style="font-family:'Liberation Sans',sans-serif;font-weight:bold;stroke:#161616;stroke-width:0.4px;font-size:8.2px;" fill="#161616">Range Slice</text><g clip-path="url(#cf)"><path d="M408.5 301.9 411.3 301.9 412.2 296.4 412.6 295.2 412.8 294.9 413.1 294.7 413.5 295.2 413.9 296.4 414.7 301.8 414.8 301.9 418.4 301.9 418.9 295.9 419.5 291.2 420.1 288.5 420.4 287.8 420.8 287.5 421.1 287.8 421.4 288.5 422.0 291.3 422.5 295.6 423.0 301.9 425.6 301.9 426.4 290.8 427.0 285.2 427.7 281.5 428.1 280.5 428.5 280.2 428.9 280.7 429.2 281.5 429.9 285.5 430.5 291.9 431.1 301.9 433.0 301.9 433.7 288.8 434.4 280.3 434.8 277.1 435.3 274.5 435.7 273.2 435.9 272.9 436.2 272.7 436.5 273.0 436.7 273.4 437.1 274.9 437.9 280.7 438.5 289.1 439.1 301.9 440.5 301.9 441.1 286.4 441.9 274.5 442.4 270.0 442.9 267.1 443.4 265.4 443.6 265.0 443.9 264.8 444.2 265.1 444.4 265.4 444.9 267.3 445.4 270.8 445.8 274.9 446.4 284.9 447.0 301.9 448.0 301.9 448.6 282.4 449.4 268.3 449.9 263.0 450.4 259.4 451.0 256.8 451.3 256.2 451.6 256.0 451.9 256.1 452.1 256.5 452.6 258.3 453.1 261.6 453.5 265.7 453.9 271.6 454.3 280.5 454.8 301.7 454.9 301.9 455.5 301.9 456.1 278.1 456.9 261.0 457.5 253.7 458.1 249.0 458.7 246.3 459.0 245.5 459.4 245.2 459.7 245.4 460.0 246.0 460.6 248.8 461.1 253.1 461.5 258.3 462.2 274.9 462.7 301.9 463.1 301.9 463.7 268.5 464.5 249.3 465.1 241.0 465.8 234.8 466.5 231.2 466.9 230.1 467.3 229.7 467.7 230.1 468.0 230.9 468.6 234.2 469.1 239.2 469.5 245.7 470.1 264.7 470.5 301.9 470.7 301.9 470.9 275.7 471.3 251.2 471.8 235.0 472.6 219.3 473.7 205.9 474.4 200.1 475.1 195.6 475.9 191.8 476.7 189.2 477.5 187.7 477.9 187.3 478.3 187.2 478.7 187.3 479.1 187.7 479.9 189.2 480.7 191.8 481.5 195.6 482.2 200.1 482.9 205.9 484.0 219.3 484.8 235.0 485.3 251.2 485.7 275.7 485.9 301.9 486.1 301.9 486.5 264.7 487.1 245.7 487.5 239.2 488.0 234.2 488.6 230.9 488.9 230.1 489.3 229.7 489.7 230.1 490.1 231.2 490.8 234.8 491.5 241.0 492.1 249.3 492.9 268.5 493.5 301.9 493.9 301.9 494.4 274.9 495.1 258.3 495.5 253.1 496.0 248.8 496.6 246.0 496.9 245.4 497.2 245.2 497.6 245.5 497.9 246.3 498.5 249.0 499.1 253.7 499.7 261.0 500.5 278.1 501.1 301.9 501.7 301.9 501.8 301.7 502.3 280.5 502.7 271.6 503.1 265.7 503.5 261.6 504.0 258.3 504.5 256.5 504.7 256.1 505.0 256.0 505.3 256.2 505.6 256.8 506.2 259.4 506.7 263.0 507.2 268.3 508.0 282.4 508.6 301.9 509.6 301.9 510.2 284.9 510.8 274.9 511.2 270.8 511.7 267.3 512.2 265.4 512.4 265.1 512.7 264.8 513.0 265.0 513.2 265.4 513.7 267.1 514.2 270.0 514.7 274.5 515.5 286.4 516.1 301.9 517.5 301.9 518.1 289.1 518.7 280.7 519.5 274.9 519.9 273.4 520.1 273.0 520.4 272.7 520.7 272.9 520.9 273.2 521.3 274.5 521.8 277.1 522.2 280.3 522.9 288.8 523.6 301.9 525.5 301.9 526.1 291.9 526.7 285.5 527.4 281.5 527.7 280.7 528.1 280.2 528.5 280.5 528.9 281.5 529.6 285.2 530.2 290.8 531.0 301.9 533.6 301.9 534.1 295.6 534.6 291.3 535.2 288.5 535.5 287.8 535.8 287.5 536.2 287.8 536.5 288.5 537.1 291.2 537.7 295.9 538.2 301.9 541.8 301.9 541.9 301.8 542.7 296.4 543.1 295.2 543.5 294.7 543.8 294.9 544.0 295.2 544.4 296.4 545.3 301.9 548.9 301.9" fill="none" stroke="#ff0000" stroke-width="1.75" stroke-linejoin="round"/></g><rect x="412.50" y="184.50" width="132.50" height="114.40" fill="none" stroke="#b4b4b4" stroke-width="1"/><path d="M445.3 298.9V297.4M445.3 184.5V186.0M481.4 298.9V297.4M481.4 184.5V186.0M517.5 298.9V297.4M517.5 184.5V186.0M412.5 187.1H414.0M545.0 187.1H543.5M412.5 218.9H414.0M545.0 218.9H543.5M412.5 250.7H414.0M545.0 250.7H543.5M412.5 282.5H414.0M545.0 282.5H543.5" stroke="#b4b4b4" stroke-width="0.7" fill="none"/><text x="444.00" y="308.80" text-anchor="middle" textLength="7.02" lengthAdjust="spacingAndGlyphs" style="font-family:'Liberation Sans',sans-serif;font-weight:bold;stroke:#161616;stroke-width:0.4px;font-size:8.5px;" fill="#161616">-2</text><text x="481.40" y="308.80" text-anchor="middle" textLength="4.39" lengthAdjust="spacingAndGlyphs" style="font-family:'Liberation Sans',sans-serif;font-weight:bold;stroke:#161616;stroke-width:0.4px;font-size:8.5px;" fill="#161616">0</text><text x="517.50" y="308.80" text-anchor="middle" textLength="4.39" lengthAdjust="spacingAndGlyphs" style="font-family:'Liberation Sans',sans-serif;font-weight:bold;stroke:#161616;stroke-width:0.4px;font-size:8.5px;" fill="#161616">2</text><text x="410.30" y="189.95" text-anchor="end" textLength="4.39" lengthAdjust="spacingAndGlyphs" style="font-family:'Liberation Sans',sans-serif;font-weight:bold;stroke:#161616;stroke-width:0.4px;font-size:8.5px;" fill="#161616">0</text><text x="410.30" y="221.75" text-anchor="end" textLength="11.42" lengthAdjust="spacingAndGlyphs" style="font-family:'Liberation Sans',sans-serif;font-weight:bold;stroke:#161616;stroke-width:0.4px;font-size:8.5px;" fill="#161616">-10</text><text x="410.30" y="253.55" text-anchor="end" textLength="11.42" lengthAdjust="spacingAndGlyphs" style="font-family:'Liberation Sans',sans-serif;font-weight:bold;stroke:#161616;stroke-width:0.4px;font-size:8.5px;" fill="#161616">-20</text><text x="410.30" y="285.35" text-anchor="end" textLength="11.42" lengthAdjust="spacingAndGlyphs" style="font-family:'Liberation Sans',sans-serif;font-weight:bold;stroke:#161616;stroke-width:0.4px;font-size:8.5px;" fill="#161616">-30</text><text x="477.50" y="319.40" text-anchor="middle" textLength="82.3" lengthAdjust="spacingAndGlyphs" style="font-family:'Liberation Sans',sans-serif;font-weight:bold;stroke:#161616;stroke-width:0.4px;font-size:8.2px;" fill="#161616">Azimuth Samples/ m</text><text x="392.70" y="242.80" text-anchor="middle" textLength="57.6" lengthAdjust="spacingAndGlyphs" style="font-family:'Liberation Sans',sans-serif;font-weight:bold;stroke:#161616;stroke-width:0.4px;font-size:7.7px;" fill="#161616" transform="rotate(-90 392.7 242.8)">Magnitude/ dB</text><text x="478.90" y="177.90" text-anchor="middle" textLength="55.3" lengthAdjust="spacingAndGlyphs" style="font-family:'Liberation Sans',sans-serif;font-weight:bold;stroke:#161616;stroke-width:0.4px;font-size:8.2px;" fill="#161616">Azimuth Slice</text><g clip-path="url(#ch)"><path d="M220.5 470.0 222.7 470.0 223.1 464.6 223.5 461.0 223.9 459.0 224.1 458.5 224.3 458.4 224.5 458.6 224.7 459.1 225.1 461.3 225.9 470.0 228.2 470.0 229.1 458.9 229.5 456.4 229.7 455.7 230.0 455.3 230.3 455.7 230.5 456.4 230.9 458.8 231.3 463.1 231.7 469.9 233.8 470.0 234.7 456.7 235.2 453.3 235.4 452.5 235.7 452.1 236.0 452.4 236.2 453.0 236.7 456.2 237.1 460.9 237.6 470.0 239.4 470.0 239.9 459.8 240.4 453.4 240.9 449.9 241.2 448.8 241.5 448.6 241.8 449.0 242.1 450.3 242.6 454.5 243.0 460.3 243.4 469.5 243.5 470.0 245.0 470.0 245.5 458.2 246.0 450.9 246.6 446.1 246.9 445.0 247.2 444.7 247.5 445.1 247.8 446.3 248.4 451.5 248.8 457.8 249.3 470.0 250.6 470.0 251.1 456.5 251.6 448.1 252.2 442.5 252.5 441.1 252.7 440.6 252.9 440.4 253.1 440.5 253.3 441.0 253.6 442.4 254.2 448.1 254.7 457.3 255.1 470.0 256.2 470.0 256.7 454.6 257.3 443.6 258.0 437.2 258.3 436.0 258.5 435.6 258.7 435.5 259.1 436.3 259.4 437.9 260.0 444.2 260.5 454.2 260.9 469.2 261.0 470.0 261.8 470.0 262.3 452.4 262.9 439.7 263.6 432.3 264.0 430.3 264.2 429.8 264.4 429.7 264.6 429.8 264.8 430.4 265.1 431.8 265.7 437.8 266.3 450.3 266.8 470.0 267.4 470.0 267.5 469.3 268.0 446.4 268.5 435.0 268.9 429.3 269.3 425.5 269.7 423.3 269.9 422.8 270.2 422.5 270.6 423.4 271.0 425.7 271.6 433.0 272.2 448.7 272.6 470.0 273.1 470.0 273.5 445.7 274.1 428.5 274.9 417.5 275.4 414.2 275.6 413.4 275.9 413.0 276.2 413.3 276.4 413.9 276.8 416.3 277.5 425.9 278.0 441.2 278.4 470.0 278.7 470.0 279.1 439.5 279.7 418.8 280.2 409.4 280.7 403.5 281.2 399.9 281.5 398.8 281.8 398.4 282.1 398.7 282.3 399.4 282.8 403.0 283.2 408.6 283.5 415.6 283.9 433.0 284.2 470.0 284.3 470.0 284.8 420.1 285.2 403.0 285.8 387.6 286.6 374.7 287.6 364.8 288.2 360.9 288.8 358.3 289.4 356.8 289.7 356.4 290.0 356.3 290.3 356.4 290.6 356.8 291.1 358.0 291.7 360.4 292.2 363.4 293.2 372.3 294.0 383.8 294.6 396.9 295.1 414.5 295.7 458.7 296.2 426.1 296.6 412.7 296.9 406.8 297.3 402.0 297.7 399.4 297.9 398.7 298.2 398.4 298.5 398.8 298.8 399.9 299.4 404.5 300.1 414.5 300.6 427.2 301.0 445.3 301.3 470.0 301.6 470.0 302.0 441.2 302.5 425.9 303.2 416.3 303.6 413.9 303.8 413.3 304.1 413.0 304.4 413.4 304.6 414.2 305.1 417.5 305.9 428.5 306.5 445.7 306.9 470.0 307.4 470.0 307.8 448.7 308.4 433.0 309.0 425.7 309.4 423.4 309.8 422.5 310.1 422.8 310.3 423.3 310.7 425.5 311.1 429.3 311.5 435.0 312.0 446.4 312.5 469.3 312.6 470.0 313.2 470.0 313.7 450.3 314.3 437.8 314.9 431.8 315.2 430.4 315.4 429.8 315.6 429.7 315.8 429.8 316.0 430.3 316.4 432.3 317.1 439.7 317.7 452.4 318.2 470.0 319.0 470.0 319.1 469.2 319.5 454.2 320.0 444.2 320.6 437.9 320.9 436.3 321.3 435.5 321.5 435.6 321.7 436.0 322.0 437.2 322.7 443.6 323.3 454.6 323.8 470.0 324.9 470.0 325.3 457.3 325.8 448.1 326.4 442.4 326.7 441.0 326.9 440.5 327.1 440.4 327.3 440.6 327.5 441.1 327.8 442.5 328.4 448.1 328.9 456.5 329.4 470.0 330.7 470.0 331.2 457.8 331.6 451.5 332.2 446.3 332.5 445.1 332.8 444.7 333.1 445.0 333.4 446.1 334.0 450.9 334.5 458.2 335.0 470.0 336.5 470.0 336.6 469.5 337.0 460.3 337.4 454.5 337.9 450.3 338.2 449.0 338.5 448.6 338.8 448.8 339.1 449.9 339.6 453.4 340.1 459.8 340.6 470.0 342.4 470.0 342.9 460.9 343.3 456.2 343.8 453.0 344.0 452.4 344.3 452.1 344.6 452.5 344.8 453.3 345.3 456.7 346.2 470.0 348.3 469.9 348.7 463.1 349.1 458.8 349.5 456.4 349.7 455.7 350.0 455.3 350.3 455.7 350.5 456.4 350.9 458.9 351.8 470.0 354.1 470.0 354.9 461.3 355.3 459.1 355.5 458.6 355.7 458.4 355.9 458.5 356.1 459.0 356.5 461.0 356.9 464.6 357.3 470.0 360.0 470.0 360.7 463.7 361.0 462.1 361.4 461.3 361.6 461.4 361.8 461.8 362.1 463.1 362.9 470.0 364.1 470.0" fill="none" stroke="#0000ff" stroke-width="1.75" stroke-linejoin="round"/></g><rect x="224.50" y="353.20" width="135.60" height="113.80" fill="none" stroke="#b4b4b4" stroke-width="1"/><path d="M256.3 467.0V465.5M256.3 353.2V354.7M292.1 467.0V465.5M292.1 353.2V354.7M328.0 467.0V465.5M328.0 353.2V354.7M224.5 355.9H226.0M360.1 355.9H358.6M224.5 387.7H226.0M360.1 387.7H358.6M224.5 419.5H226.0M360.1 419.5H358.6M224.5 451.3H226.0M360.1 451.3H358.6" stroke="#b4b4b4" stroke-width="0.7" fill="none"/><text x="255.00" y="476.90" text-anchor="middle" textLength="7.02" lengthAdjust="spacingAndGlyphs" style="font-family:'Liberation Sans',sans-serif;font-weight:bold;stroke:#161616;stroke-width:0.4px;font-size:8.5px;" fill="#161616">-1</text><text x="292.15" y="476.90" text-anchor="middle" textLength="4.39" lengthAdjust="spacingAndGlyphs" style="font-family:'Liberation Sans',sans-serif;font-weight:bold;stroke:#161616;stroke-width:0.4px;font-size:8.5px;" fill="#161616">0</text><text x="328.00" y="476.90" text-anchor="middle" textLength="4.39" lengthAdjust="spacingAndGlyphs" style="font-family:'Liberation Sans',sans-serif;font-weight:bold;stroke:#161616;stroke-width:0.4px;font-size:8.5px;" fill="#161616">1</text><text x="221.70" y="358.75" text-anchor="end" textLength="4.39" lengthAdjust="spacingAndGlyphs" style="font-family:'Liberation Sans',sans-serif;font-weight:bold;stroke:#161616;stroke-width:0.4px;font-size:8.5px;" fill="#161616">0</text><text x="221.70" y="390.55" text-anchor="end" textLength="11.42" lengthAdjust="spacingAndGlyphs" style="font-family:'Liberation Sans',sans-serif;font-weight:bold;stroke:#161616;stroke-width:0.4px;font-size:8.5px;" fill="#161616">-10</text><text x="221.70" y="422.35" text-anchor="end" textLength="11.42" lengthAdjust="spacingAndGlyphs" style="font-family:'Liberation Sans',sans-serif;font-weight:bold;stroke:#161616;stroke-width:0.4px;font-size:8.5px;" fill="#161616">-20</text><text x="221.70" y="454.15" text-anchor="end" textLength="11.42" lengthAdjust="spacingAndGlyphs" style="font-family:'Liberation Sans',sans-serif;font-weight:bold;stroke:#161616;stroke-width:0.4px;font-size:8.5px;" fill="#161616">-30</text><text x="291.70" y="487.40" text-anchor="middle" textLength="73.9" lengthAdjust="spacingAndGlyphs" style="font-family:'Liberation Sans',sans-serif;font-weight:bold;stroke:#161616;stroke-width:0.4px;font-size:8.2px;" fill="#161616">Range Samples/ m</text><text x="203.00" y="411.00" text-anchor="middle" textLength="56.3" lengthAdjust="spacingAndGlyphs" style="font-family:'Liberation Sans',sans-serif;font-weight:bold;stroke:#161616;stroke-width:0.4px;font-size:7.7px;" fill="#161616" transform="rotate(-90 203 411)">Magnitude/ dB</text><text x="291.40" y="346.20" text-anchor="middle" textLength="46.6" lengthAdjust="spacingAndGlyphs" style="font-family:'Liberation Sans',sans-serif;font-weight:bold;stroke:#161616;stroke-width:0.4px;font-size:8.2px;" fill="#161616">Range Slice</text><g clip-path="url(#ci)"><path d="M409.6 457.4 410.3 466.8 412.5 466.8 413.0 458.2 413.6 452.0 414.2 448.8 414.5 448.1 414.7 448.0 414.9 448.0 415.2 448.5 415.5 449.6 416.0 452.9 416.4 457.3 417.0 466.8 418.8 466.8 419.3 456.5 419.9 448.8 420.6 444.1 421.0 442.9 421.3 442.7 421.7 443.3 422.0 444.4 422.6 448.8 423.2 457.1 423.6 466.6 423.7 466.8 425.1 466.8 425.7 453.7 426.3 445.4 427.0 440.3 427.4 438.9 427.6 438.5 427.8 438.5 428.2 439.1 428.5 440.2 429.2 445.7 429.7 452.9 430.3 466.8 431.5 466.8 432.1 451.3 432.7 442.2 433.1 438.4 433.5 435.9 433.9 434.5 434.1 434.2 434.3 434.1 434.7 434.8 435.1 436.6 435.8 442.8 436.3 450.9 436.9 466.8 437.9 466.8 438.5 449.9 439.1 439.9 439.9 433.1 440.3 431.5 440.5 431.1 440.8 431.0 441.1 431.3 441.3 431.9 441.7 433.9 442.4 440.6 443.0 452.1 443.4 466.6 443.5 466.8 444.3 466.8 444.9 448.3 445.5 437.2 446.3 429.5 446.8 427.3 447.1 426.7 447.3 426.6 447.6 427.0 447.8 427.5 448.2 429.5 448.6 432.7 449.0 437.7 449.6 450.5 450.0 466.8 450.8 466.8 451.3 446.3 451.9 434.0 452.3 429.0 452.8 424.8 453.3 422.5 453.5 422.0 453.8 421.8 454.1 422.0 454.3 422.5 454.7 424.4 455.4 430.9 456.1 444.9 456.6 466.8 457.2 466.8 457.7 443.1 458.3 429.2 458.8 422.3 459.3 417.9 459.8 415.4 460.1 414.6 460.4 414.4 460.7 414.6 460.9 415.1 461.3 416.9 461.7 420.1 462.1 425.1 462.5 433.1 462.8 442.7 463.2 466.8 463.6 466.8 464.1 436.1 464.8 418.0 465.3 410.6 465.9 404.9 466.5 401.7 466.8 400.9 467.0 400.7 467.2 400.6 467.5 401.0 467.7 401.5 468.2 404.4 468.6 408.7 469.0 415.8 469.5 434.3 469.8 466.8 470.0 466.8 470.2 438.7 470.5 419.5 471.0 402.1 471.6 389.3 472.5 376.9 473.7 366.7 474.3 363.3 475.0 360.6 475.7 358.9 476.0 358.5 476.4 358.3 476.8 358.5 477.1 358.9 477.8 360.6 478.5 363.3 479.1 366.7 480.3 376.9 481.2 389.3 481.8 402.1 482.3 419.5 482.6 438.7 482.8 466.8 483.0 466.8 483.3 434.3 483.8 415.8 484.2 408.7 484.6 404.4 485.1 401.5 485.3 401.0 485.6 400.6 485.8 400.7 486.0 400.9 486.3 401.7 486.9 404.9 487.5 410.6 488.0 418.0 488.7 436.1 489.2 466.8 489.6 466.8 490.0 442.7 490.3 433.1 490.7 425.1 491.1 420.1 491.5 416.9 491.9 415.1 492.1 414.6 492.4 414.4 492.7 414.6 493.0 415.4 493.5 417.9 494.0 422.3 494.5 429.2 495.1 443.1 495.6 466.8 496.2 466.8 496.7 444.9 497.4 430.9 498.1 424.4 498.5 422.5 498.7 422.0 499.0 421.8 499.3 422.0 499.5 422.5 500.0 424.8 500.5 429.0 500.9 434.0 501.5 446.3 502.0 466.8 502.8 466.8 503.2 450.5 503.8 437.7 504.2 432.7 504.6 429.5 505.0 427.5 505.2 427.0 505.5 426.6 505.7 426.7 506.0 427.3 506.5 429.5 507.3 437.2 507.9 448.3 508.5 466.8 509.3 466.8 509.4 466.6 509.8 452.1 510.4 440.6 511.1 433.9 511.5 431.9 511.7 431.3 512.0 431.0 512.3 431.1 512.5 431.5 512.9 433.1 513.7 439.9 514.3 449.9 514.9 466.8 515.9 466.8 516.5 450.9 517.0 442.8 517.7 436.6 518.1 434.8 518.5 434.1 518.7 434.2 518.9 434.5 519.3 435.9 519.7 438.4 520.1 442.2 520.7 451.3 521.3 466.8 522.5 466.8 523.1 452.9 523.6 445.7 524.3 440.2 524.6 439.1 525.0 438.5 525.2 438.5 525.4 438.9 525.8 440.3 526.5 445.4 527.1 453.7 527.7 466.8 529.1 466.8 529.2 466.6 529.6 457.1 530.2 448.8 530.8 444.4 531.1 443.3 531.5 442.7 531.8 442.9 532.2 444.1 532.9 448.8 533.5 456.5 534.0 466.8 535.8 466.8 536.4 457.3 536.8 452.9 537.3 449.6 537.6 448.5 537.9 448.0 538.1 448.0 538.3 448.1 538.6 448.8 539.2 452.0 539.8 458.2 540.3 466.8 542.5 466.8 543.4 455.5 543.9 452.4 544.2 451.4 544.5 451.0 544.8 451.1 545.0 451.5 545.4 453.1 545.8 455.8 546.2 459.8" fill="none" stroke="#ff0000" stroke-width="1.75" stroke-linejoin="round"/></g><rect x="413.60" y="355.20" width="128.70" height="108.60" fill="none" stroke="#b4b4b4" stroke-width="1"/><path d="M446.0 463.8V462.3M446.0 355.2V356.7M478.2 463.8V462.3M478.2 355.2V356.7M510.4 463.8V462.3M510.4 355.2V356.7M413.6 358.3H415.1M542.3 358.3H540.8M413.6 388.4H415.1M542.3 388.4H540.8M413.6 418.5H415.1M542.3 418.5H540.8M413.6 448.6H415.1M542.3 448.6H540.8" stroke="#b4b4b4" stroke-width="0.7" fill="none"/><text x="412.50" y="472.70" text-anchor="middle" textLength="7.02" lengthAdjust="spacingAndGlyphs" style="font-family:'Liberation Sans',sans-serif;font-weight:bold;stroke:#161616;stroke-width:0.4px;font-size:8.5px;" fill="#161616">-4</text><text x="444.70" y="472.70" text-anchor="middle" textLength="7.02" lengthAdjust="spacingAndGlyphs" style="font-family:'Liberation Sans',sans-serif;font-weight:bold;stroke:#161616;stroke-width:0.4px;font-size:8.5px;" fill="#161616">-2</text><text x="478.20" y="472.70" text-anchor="middle" textLength="4.39" lengthAdjust="spacingAndGlyphs" style="font-family:'Liberation Sans',sans-serif;font-weight:bold;stroke:#161616;stroke-width:0.4px;font-size:8.5px;" fill="#161616">0</text><text x="510.40" y="472.70" text-anchor="middle" textLength="4.39" lengthAdjust="spacingAndGlyphs" style="font-family:'Liberation Sans',sans-serif;font-weight:bold;stroke:#161616;stroke-width:0.4px;font-size:8.5px;" fill="#161616">2</text><text x="542.60" y="472.70" text-anchor="middle" textLength="4.39" lengthAdjust="spacingAndGlyphs" style="font-family:'Liberation Sans',sans-serif;font-weight:bold;stroke:#161616;stroke-width:0.4px;font-size:8.5px;" fill="#161616">4</text><text x="412.10" y="361.15" text-anchor="end" textLength="4.39" lengthAdjust="spacingAndGlyphs" style="font-family:'Liberation Sans',sans-serif;font-weight:bold;stroke:#161616;stroke-width:0.4px;font-size:8.5px;" fill="#161616">0</text><text x="412.10" y="391.25" text-anchor="end" textLength="11.42" lengthAdjust="spacingAndGlyphs" style="font-family:'Liberation Sans',sans-serif;font-weight:bold;stroke:#161616;stroke-width:0.4px;font-size:8.5px;" fill="#161616">-10</text><text x="412.10" y="421.35" text-anchor="end" textLength="11.42" lengthAdjust="spacingAndGlyphs" style="font-family:'Liberation Sans',sans-serif;font-weight:bold;stroke:#161616;stroke-width:0.4px;font-size:8.5px;" fill="#161616">-20</text><text x="412.10" y="451.45" text-anchor="end" textLength="11.42" lengthAdjust="spacingAndGlyphs" style="font-family:'Liberation Sans',sans-serif;font-weight:bold;stroke:#161616;stroke-width:0.4px;font-size:8.5px;" fill="#161616">-30</text><text x="477.00" y="483.00" text-anchor="middle" textLength="81.6" lengthAdjust="spacingAndGlyphs" style="font-family:'Liberation Sans',sans-serif;font-weight:bold;stroke:#161616;stroke-width:0.4px;font-size:8.2px;" fill="#161616">Azimuth Samples/ m</text><text x="394.30" y="408.70" text-anchor="middle" textLength="55.7" lengthAdjust="spacingAndGlyphs" style="font-family:'Liberation Sans',sans-serif;font-weight:bold;stroke:#161616;stroke-width:0.4px;font-size:7.7px;" fill="#161616" transform="rotate(-90 394.3 408.7)">Magnitude/ dB</text><text x="477.30" y="348.70" text-anchor="middle" textLength="54.1" lengthAdjust="spacingAndGlyphs" style="font-family:'Liberation Sans',sans-serif;font-weight:bold;stroke:#161616;stroke-width:0.4px;font-size:8.2px;" fill="#161616">Azimuth Slice</text><text x="91.10" y="165.60" text-anchor="middle" style="font-family:'Liberation Serif',serif;stroke:#161616;stroke-width:0.3px;font-size:13.2px;" fill="#161616">(a)</text><text x="279.20" y="165.60" text-anchor="middle" style="font-family:'Liberation Serif',serif;stroke:#161616;stroke-width:0.3px;font-size:13.2px;" fill="#161616">(b)</text><text x="465.80" y="165.60" text-anchor="middle" style="font-family:'Liberation Serif',serif;stroke:#161616;stroke-width:0.3px;font-size:13.2px;" fill="#161616">(c)</text><text x="91.30" y="334.70" text-anchor="middle" style="font-family:'Liberation Serif',serif;stroke:#161616;stroke-width:0.3px;font-size:13.2px;" fill="#161616">(d)</text><text x="279.70" y="334.70" text-anchor="middle" style="font-family:'Liberation Serif',serif;stroke:#161616;stroke-width:0.3px;font-size:13.2px;" fill="#161616">(e)</text><text x="465.80" y="334.70" text-anchor="middle" style="font-family:'Liberation Serif',serif;stroke:#161616;stroke-width:0.3px;font-size:13.2px;" fill="#161616">(f)</text><text x="90.50" y="503.30" text-anchor="middle" style="font-family:'Liberation Serif',serif;stroke:#161616;stroke-width:0.3px;font-size:13.2px;" fill="#161616">(g)</text><text x="279.70" y="503.30" text-anchor="middle" style="font-family:'Liberation Serif',serif;stroke:#161616;stroke-width:0.3px;font-size:13.2px;" fill="#161616">(h)</text><text x="465.70" y="503.30" text-anchor="middle" style="font-family:'Liberation Serif',serif;stroke:#161616;stroke-width:0.3px;font-size:13.2px;" fill="#161616">(i)</text></svg></body></html>
